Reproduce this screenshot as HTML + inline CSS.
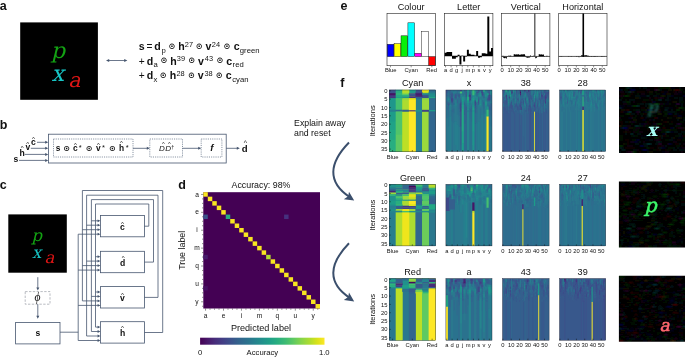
<!DOCTYPE html>
<html><head><meta charset="utf-8"><title>Figure</title>
<style>html,body{margin:0;padding:0;background:#fff}svg{display:block}text{font-family:"Liberation Sans",sans-serif;fill:#111}</style>
</head><body>
<svg width="685" height="357" viewBox="0 0 685 357">
<rect width="685" height="357" fill="#fff"/>
<text x="-.3" y="10" font-size="12.5" font-weight="bold">a</text>
<text x="-.3" y="129" font-size="12.5" font-weight="bold">b</text>
<text x="-.3" y="189" font-size="12.5" font-weight="bold">c</text>
<text x="178.3" y="189" font-size="12.5" font-weight="bold">d</text>
<text x="340.5" y="10" font-size="12.5" font-weight="bold">e</text>
<text x="340.3" y="87" font-size="12.5" font-weight="bold">f</text>
<rect x="20.2" y="22.4" width="77.7" height="77.4" fill="#000"/>
<text transform="translate(51 58.2) skewX(-14)" font-size="22" style="font-family:'DejaVu Serif','Liberation Serif',serif;fill:#13a313">p</text>
<text transform="translate(51.6 80.6) skewX(-14)" font-size="22" style="font-family:'DejaVu Serif','Liberation Serif',serif;fill:#17c5c5">x</text>
<text transform="translate(68.3 87) skewX(-14)" font-size="20.5" style="font-family:'DejaVu Serif','Liberation Serif',serif;fill:#e01515">a</text>
<path d="M107.5 60.5H126" stroke="#46566f" stroke-width=".8" fill="none"/>
<path d="M106 60.5l3.2-1.6v3.2zM127.4 60.5l-3.2-1.6v3.2z" fill="#46566f"/>
<text x="138.7" y="50.2" font-size="10.6" font-weight="bold">s</text>
<text x="146.6" y="50.2" font-size="10.2">=</text>
<text x="154.3" y="50.2" font-size="10.6" font-weight="bold">d</text>
<text x="161.4" y="52.5" font-size="7.7">p</text>
<text x="168.5" y="48.6" font-size="8.2" font-weight="bold" style="font-family:'DejaVu Sans','Liberation Sans',sans-serif;">⊙</text>
<text x="178.2" y="50.2" font-size="10.6" font-weight="bold">h</text>
<text x="184.8" y="46.6" font-size="7.4">27</text>
<text x="195.7" y="48.6" font-size="8.2" font-weight="bold" style="font-family:'DejaVu Sans','Liberation Sans',sans-serif;">⊙</text>
<text x="205.5" y="50.2" font-size="10.6" font-weight="bold">v</text>
<text x="211.8" y="46.6" font-size="7.4">24</text>
<text x="223.5" y="48.6" font-size="8.2" font-weight="bold" style="font-family:'DejaVu Sans','Liberation Sans',sans-serif;">⊙</text>
<text x="233.7" y="50.2" font-size="10.6" font-weight="bold">c</text>
<text x="239.8" y="52.5" font-size="7.7">green</text>
<text x="138.7" y="64.8" font-size="10.2">+</text>
<text x="146.8" y="64.8" font-size="10.6" font-weight="bold">d</text>
<text x="153.6" y="67.1" font-size="7.7">a</text>
<text x="160.4" y="63.2" font-size="8.2" font-weight="bold" style="font-family:'DejaVu Sans','Liberation Sans',sans-serif;">⊙</text>
<text x="170.2" y="64.8" font-size="10.6" font-weight="bold">h</text>
<text x="176.8" y="61.2" font-size="7.4">39</text>
<text x="188.2" y="63.2" font-size="8.2" font-weight="bold" style="font-family:'DejaVu Sans','Liberation Sans',sans-serif;">⊙</text>
<text x="198" y="64.8" font-size="10.6" font-weight="bold">v</text>
<text x="204.8" y="61.2" font-size="7.4">43</text>
<text x="216.4" y="63.2" font-size="8.2" font-weight="bold" style="font-family:'DejaVu Sans','Liberation Sans',sans-serif;">⊙</text>
<text x="226.2" y="64.8" font-size="10.6" font-weight="bold">c</text>
<text x="232.6" y="67.1" font-size="7.7">red</text>
<text x="138.7" y="79.4" font-size="10.2">+</text>
<text x="146.8" y="79.4" font-size="10.6" font-weight="bold">d</text>
<text x="153.6" y="81.7" font-size="7.7">x</text>
<text x="159.7" y="77.8" font-size="8.2" font-weight="bold" style="font-family:'DejaVu Sans','Liberation Sans',sans-serif;">⊙</text>
<text x="169.8" y="79.4" font-size="10.6" font-weight="bold">h</text>
<text x="176.4" y="75.8" font-size="7.4">28</text>
<text x="187.9" y="77.8" font-size="8.2" font-weight="bold" style="font-family:'DejaVu Sans','Liberation Sans',sans-serif;">⊙</text>
<text x="197.8" y="79.4" font-size="10.6" font-weight="bold">v</text>
<text x="204.4" y="75.8" font-size="7.4">38</text>
<text x="215.7" y="77.8" font-size="8.2" font-weight="bold" style="font-family:'DejaVu Sans','Liberation Sans',sans-serif;">⊙</text>
<text x="225.8" y="79.4" font-size="10.6" font-weight="bold">c</text>
<text x="232.2" y="81.7" font-size="7.7">cyan</text>
<g fill="none" stroke="#46566f" stroke-width=".8">
<rect x="48.4" y="134.2" width="177.8" height="28.8"/>
<g stroke-width=".65" stroke-dasharray="1.1 1.1"><rect x="53.5" y="139" width="79.5" height="18"/><rect x="149.8" y="139" width="32.7" height="18"/><rect x="201.2" y="139" width="20.7" height="18"/></g>
<path d="M37 142.3H46.5M30.8 148.3H46.5M24.7 154.4H46.5M19 160.4H46.5M133 148.3H148M182.5 148.3H199.3M226.2 148.3H238"/>
</g>
<path d="M48.2 142.3l-3-1.5v3zM48.2 148.3l-3-1.5v3zM48.2 154.4l-3-1.5v3zM48.2 160.4l-3-1.5v3zM149.8 148.3l-3-1.5v3zM201.2 148.3l-3-1.5v3zM239.8 148.3l-3-1.5v3z" fill="#46566f"/>
<text x="33.4" y="144.6" font-size="8.6" font-weight="bold" text-anchor="middle">c</text>
<text x="33.4" y="140.5" font-size="6.19" text-anchor="middle">^</text>
<text x="27.8" y="150.4" font-size="8.6" font-weight="bold" text-anchor="middle">v</text>
<text x="27.8" y="146.3" font-size="6.19" text-anchor="middle">^</text>
<text x="22.1" y="156.2" font-size="8.6" font-weight="bold" text-anchor="middle">h</text>
<text x="22.1" y="150.3" font-size="6.19" text-anchor="middle">^</text>
<text x="15.8" y="162.2" font-size="8.6" font-weight="bold" text-anchor="middle">s</text>
<text x="58" y="151.1" font-size="8.4" font-weight="bold" text-anchor="middle">s</text>
<text x="66.5" y="150.9" font-size="8" font-weight="bold" text-anchor="middle" style="font-family:'DejaVu Sans','Liberation Sans',sans-serif;">⊙</text>
<text x="89.2" y="150.9" font-size="8" font-weight="bold" text-anchor="middle" style="font-family:'DejaVu Sans','Liberation Sans',sans-serif;">⊙</text>
<text x="112.3" y="150.9" font-size="8" font-weight="bold" text-anchor="middle" style="font-family:'DejaVu Sans','Liberation Sans',sans-serif;">⊙</text>
<text x="75.4" y="151.1" font-size="8.4" font-weight="bold" text-anchor="middle">c</text>
<text x="75.4" y="147.1" font-size="6.05" text-anchor="middle">^</text>
<text x="80.3" y="150.3" font-size="7.5" text-anchor="middle">*</text>
<text x="98.3" y="151.1" font-size="8.4" font-weight="bold" text-anchor="middle">v</text>
<text x="98.3" y="147.1" font-size="6.05" text-anchor="middle">^</text>
<text x="103.5" y="150.3" font-size="7.5" text-anchor="middle">*</text>
<text x="121.5" y="151.1" font-size="8.4" font-weight="bold" text-anchor="middle">h</text>
<text x="121.5" y="145.4" font-size="6.05" text-anchor="middle">^</text>
<text x="127.2" y="150.3" font-size="7.5" text-anchor="middle">*</text>
<text x="159" y="151" font-size="8" font-style="italic">D</text>
<text x="165.2" y="151" font-size="8" font-style="italic">D</text>
<text x="171.3" y="148.6" font-size="5.5">†</text>
<text x="163.2" y="146.2" font-size="5.6" font-style="italic" text-anchor="middle">^</text>
<text x="169.4" y="146.2" font-size="5.6" font-style="italic" text-anchor="middle">^</text>
<text x="211.8" y="151.3" font-size="9.5" font-weight="bold" font-style="italic" text-anchor="middle">f</text>
<text x="244.6" y="151.6" font-size="9.6" font-weight="bold" text-anchor="middle">d</text>
<text x="245.4" y="144.5" font-size="6.91" text-anchor="middle">^</text>
<rect x="8.3" y="214.4" width="58.5" height="58.3" fill="#000"/>
<text transform="translate(31.4 241.3) skewX(-14)" font-size="16.5" style="font-family:'DejaVu Serif','Liberation Serif',serif;fill:#13a313">p</text>
<text transform="translate(32 258.2) skewX(-14)" font-size="16.5" style="font-family:'DejaVu Serif','Liberation Serif',serif;fill:#17c5c5">x</text>
<text transform="translate(44.6 263) skewX(-14)" font-size="16.5" style="font-family:'DejaVu Serif','Liberation Serif',serif;fill:#e01515">a</text>
<g fill="none" stroke="#46566f" stroke-width=".8">
<rect x="100.4" y="215.4" width="44.1" height="21.4"/>
<rect x="100.4" y="251.3" width="44.1" height="21.4"/>
<rect x="100.4" y="286.6" width="44.1" height="21.4"/>
<rect x="100.4" y="321.7" width="44.1" height="21.4"/>
<rect x="15.6" y="322.5" width="44.4" height="21.4"/>
<rect x="25.2" y="291.6" width="24.8" height="12.6" stroke="#8a8f99" stroke-width=".6" stroke-dasharray="2.4 1.4"/>
<path d="M37.8 277.2V288.5M37.8 304.2V316.6"/>
<path d="M91.4 220.8H98.6M86.6 225.2H98.6M82.4 229.7H98.6M78.2 234.2H98.6M95.5 256.7H98.6M86.6 261.1H98.6M82.4 265.6H98.6M78.2 270.1H98.6M95.5 292H98.6M91.4 296.4H98.6M82.4 300.9H98.6M78.2 305.4H98.6M95.5 327.1H98.6M91.4 331.5H98.6M86.6 336H98.6M78.2 340.5H98.6M144.5 332.5H162.7V190.5H82.4V300.9M144.5 297.4H158V195.2H86.6V336M144.5 262.1H153.5V199.6H91.4V331.5M144.5 226.2H148.8V204H95.5V327.1M60 332.2H78.2M78.2 234.2V340.5"/>
</g>
<path d="M100.4 220.8l-2.8-1.4v2.8zM100.4 225.2l-2.8-1.4v2.8zM100.4 229.7l-2.8-1.4v2.8zM100.4 234.2l-2.8-1.4v2.8zM100.4 256.7l-2.8-1.4v2.8zM100.4 261.1l-2.8-1.4v2.8zM100.4 265.6l-2.8-1.4v2.8zM100.4 270.1l-2.8-1.4v2.8zM100.4 292l-2.8-1.4v2.8zM100.4 296.4l-2.8-1.4v2.8zM100.4 300.9l-2.8-1.4v2.8zM100.4 305.4l-2.8-1.4v2.8zM100.4 327.1l-2.8-1.4v2.8zM100.4 331.5l-2.8-1.4v2.8zM100.4 336l-2.8-1.4v2.8zM100.4 340.5l-2.8-1.4v2.8zM37.8 290.6l-1.5-3h3zM37.8 318.8l-1.5-3h3z" fill="#46566f"/>
<text x="122.5" y="229.9" font-size="8.6" font-weight="bold" text-anchor="middle">c</text>
<text x="122.5" y="225.8" font-size="6.19" text-anchor="middle">^</text>
<text x="122.5" y="265.8" font-size="8.6" font-weight="bold" text-anchor="middle">d</text>
<text x="123.2" y="259.7" font-size="6.19" text-anchor="middle">^</text>
<text x="122.5" y="301.1" font-size="8.6" font-weight="bold" text-anchor="middle">v</text>
<text x="122.5" y="297" font-size="6.19" text-anchor="middle">^</text>
<text x="122.5" y="336.2" font-size="8.6" font-weight="bold" text-anchor="middle">h</text>
<text x="122.5" y="330.3" font-size="6.19" text-anchor="middle">^</text>
<text x="37.8" y="335.8" font-size="8.6" font-weight="bold" text-anchor="middle">s</text>
<text x="37.4" y="301" font-size="11.5" font-style="italic" text-anchor="middle" style="font-family:'Liberation Serif',serif;">ϕ</text>
<rect x="203.3" y="192.2" width="116.7" height="116.3" fill="#440154"/>
<rect x="203.3" y="192.2" width="4.49" height="4.47" fill="#f8e621"/>
<rect x="207.79" y="196.67" width="4.49" height="4.47" fill="#fde725"/>
<rect x="212.28" y="201.15" width="4.49" height="4.47" fill="#f8e621"/>
<rect x="216.77" y="205.62" width="4.49" height="4.47" fill="#f8e621"/>
<rect x="221.25" y="210.09" width="4.49" height="4.47" fill="#f8e621"/>
<rect x="225.74" y="214.57" width="4.49" height="4.47" fill="#26ad81"/>
<rect x="230.23" y="219.04" width="4.49" height="4.47" fill="#f8e621"/>
<rect x="234.72" y="223.51" width="4.49" height="4.47" fill="#f8e621"/>
<rect x="239.21" y="227.98" width="4.49" height="4.47" fill="#f8e621"/>
<rect x="243.7" y="232.46" width="4.49" height="4.47" fill="#f8e621"/>
<rect x="248.18" y="236.93" width="4.49" height="4.47" fill="#f8e621"/>
<rect x="252.67" y="241.4" width="4.49" height="4.47" fill="#f8e621"/>
<rect x="257.16" y="245.88" width="4.49" height="4.47" fill="#f8e621"/>
<rect x="261.65" y="250.35" width="4.49" height="4.47" fill="#f8e621"/>
<rect x="266.14" y="254.82" width="4.49" height="4.47" fill="#b0dd2f"/>
<rect x="270.63" y="259.3" width="4.49" height="4.47" fill="#f8e621"/>
<rect x="275.12" y="263.77" width="4.49" height="4.47" fill="#f8e621"/>
<rect x="279.6" y="268.24" width="4.49" height="4.47" fill="#f8e621"/>
<rect x="284.09" y="272.72" width="4.49" height="4.47" fill="#f8e621"/>
<rect x="288.58" y="277.19" width="4.49" height="4.47" fill="#f8e621"/>
<rect x="293.07" y="281.66" width="4.49" height="4.47" fill="#f8e621"/>
<rect x="297.56" y="286.13" width="4.49" height="4.47" fill="#f8e621"/>
<rect x="302.05" y="290.61" width="4.49" height="4.47" fill="#f8e621"/>
<rect x="306.53" y="295.08" width="4.49" height="4.47" fill="#f8e621"/>
<rect x="311.02" y="299.55" width="4.49" height="4.47" fill="#f8e621"/>
<rect x="315.51" y="304.03" width="4.49" height="4.47" fill="#f8e621"/>
<rect x="203.3" y="214.57" width="4.49" height="4.47" fill="#3b528b"/>
<rect x="284.09" y="214.57" width="4.49" height="4.47" fill="#46307e"/>
<rect x="203.3" y="254.82" width="4.49" height="4.47" fill="#481a6c"/>
<rect x="203.3" y="286.13" width="4.49" height="4.47" fill="#471063"/>
<path d="M203.3 194.44h-2.2M205.54 308.5v2.2M203.3 198.91h-1.3M210.03 308.5v1.3M203.3 203.38h-1.3M214.52 308.5v1.3M203.3 207.86h-1.3M219.01 308.5v1.3M203.3 212.33h-2.2M223.5 308.5v2.2M203.3 216.8h-1.3M227.99 308.5v1.3M203.3 221.27h-1.3M232.48 308.5v1.3M203.3 225.75h-1.3M236.96 308.5v1.3M203.3 230.22h-2.2M241.45 308.5v2.2M203.3 234.69h-1.3M245.94 308.5v1.3M203.3 239.17h-1.3M250.43 308.5v1.3M203.3 243.64h-1.3M254.92 308.5v1.3M203.3 248.11h-2.2M259.41 308.5v2.2M203.3 252.59h-1.3M263.89 308.5v1.3M203.3 257.06h-1.3M268.38 308.5v1.3M203.3 261.53h-1.3M272.87 308.5v1.3M203.3 266.01h-2.2M277.36 308.5v2.2M203.3 270.48h-1.3M281.85 308.5v1.3M203.3 274.95h-1.3M286.34 308.5v1.3M203.3 279.43h-1.3M290.83 308.5v1.3M203.3 283.9h-2.2M295.31 308.5v2.2M203.3 288.37h-1.3M299.8 308.5v1.3M203.3 292.84h-1.3M304.29 308.5v1.3M203.3 297.32h-1.3M308.78 308.5v1.3M203.3 301.79h-2.2M313.27 308.5v2.2M203.3 306.26h-1.3M317.76 308.5v1.3" stroke="#222" stroke-width=".5" fill="none"/>
<text x="197" y="196.54" font-size="6.6" text-anchor="middle">a</text>
<text x="205.54" y="318" font-size="6.6" text-anchor="middle">a</text>
<text x="197" y="214.43" font-size="6.6" text-anchor="middle">e</text>
<text x="223.5" y="318" font-size="6.6" text-anchor="middle">e</text>
<text x="197" y="232.32" font-size="6.6" text-anchor="middle">i</text>
<text x="241.45" y="318" font-size="6.6" text-anchor="middle">i</text>
<text x="197" y="250.21" font-size="6.6" text-anchor="middle">m</text>
<text x="259.41" y="318" font-size="6.6" text-anchor="middle">m</text>
<text x="197" y="268.11" font-size="6.6" text-anchor="middle">q</text>
<text x="277.36" y="318" font-size="6.6" text-anchor="middle">q</text>
<text x="197" y="286" font-size="6.6" text-anchor="middle">u</text>
<text x="295.31" y="318" font-size="6.6" text-anchor="middle">u</text>
<text x="197" y="303.89" font-size="6.6" text-anchor="middle">y</text>
<text x="313.27" y="318" font-size="6.6" text-anchor="middle">y</text>
<text x="261" y="188.2" font-size="8.85" text-anchor="middle">Accuracy: 98%</text>
<text x="261" y="330.7" font-size="9.1" text-anchor="middle">Predicted label</text>
<text transform="translate(185.2 250.3) rotate(-90)" font-size="8.9" text-anchor="middle">True label</text>
<defs><linearGradient id="vg"><stop offset="0" stop-color="#440154"/><stop offset=".06" stop-color="#48186a"/><stop offset=".12" stop-color="#472d7b"/><stop offset=".19" stop-color="#424086"/><stop offset=".25" stop-color="#3b528b"/><stop offset=".31" stop-color="#33638d"/><stop offset=".38" stop-color="#2c728e"/><stop offset=".44" stop-color="#26828e"/><stop offset=".5" stop-color="#21918c"/><stop offset=".56" stop-color="#1fa088"/><stop offset=".62" stop-color="#28ae80"/><stop offset=".69" stop-color="#3fbc73"/><stop offset=".75" stop-color="#5ec962"/><stop offset=".81" stop-color="#84d44b"/><stop offset=".88" stop-color="#addc30"/><stop offset=".94" stop-color="#d8e219"/><stop offset="1" stop-color="#fde725"/></linearGradient></defs>
<rect x="200.1" y="337.7" width="124.4" height="7" fill="url(#vg)"/>
<text x="200.2" y="354.8" font-size="7.7" text-anchor="middle">0</text>
<text x="262.4" y="354.8" font-size="7.7" text-anchor="middle">Accuracy</text>
<text x="324.3" y="354.8" font-size="7.7" text-anchor="middle">1.0</text>
<text x="294.1" y="126.1" font-size="8.75">Explain away</text>
<text x="294.1" y="135.8" font-size="8.75">and reset</text>
<g transform="translate(0 0)"><path d="M349 142.5C329 163 327 182 349.5 197" fill="none" stroke="#3b4f6c" stroke-width="2"/><path d="M354.2 200.6L343.8 199.2L348.2 196.3L349 191.8Z" fill="#3b4f6c"/></g>
<g transform="translate(0 100.8)"><path d="M349 142.5C329 163 327 182 349.5 197" fill="none" stroke="#3b4f6c" stroke-width="2"/><path d="M354.2 200.6L343.8 199.2L348.2 196.3L349 191.8Z" fill="#3b4f6c"/></g>
<text x="411.15" y="9.6" font-size="9.1" text-anchor="middle">Colour</text>
<text x="468.75" y="9.6" font-size="9.1" text-anchor="middle">Letter</text>
<text x="525.75" y="9.6" font-size="9.1" text-anchor="middle">Vertical</text>
<text x="582.85" y="9.6" font-size="9.1" text-anchor="middle">Horizontal</text>
<rect x="387.2" y="44.3" width="6.7" height="12.3" fill="#0000ff" stroke="#111" stroke-width=".45"/>
<rect x="394.1" y="43.7" width="6.7" height="12.9" fill="#ffff00" stroke="#111" stroke-width=".45"/>
<rect x="401" y="35.8" width="6.7" height="20.8" fill="#08f008" stroke="#111" stroke-width=".45"/>
<rect x="407.9" y="22.8" width="6.7" height="33.8" fill="#00ffff" stroke="#111" stroke-width=".45"/>
<rect x="414.8" y="53.3" width="6.7" height="3.3" fill="#ff00ff" stroke="#111" stroke-width=".45"/>
<rect x="421.7" y="31.3" width="6.7" height="25.3" fill="#ffffff" stroke="#111" stroke-width=".45"/>
<rect x="428.6" y="56.6" width="6.7" height="8.8" fill="#ff0000" stroke="#111" stroke-width=".45"/>
<path d="M444.6 52.8h1.96v3.2h-1.96zM446.46 52h1.96v4h-1.96zM448.32 52h1.96v4h-1.96zM450.17 52h1.96v4h-1.96zM452.03 56h1.96v2.8h-1.96zM453.89 56h1.96v2.8h-1.96zM455.75 56h1.96v1.2h-1.96zM457.6 54.8h1.96v1.2h-1.96zM459.46 56h1.96v8.5h-1.96zM461.32 55.7h1.96v.3h-1.96zM463.18 56h1.96v5.6h-1.96zM465.03 56h1.96v.5h-1.96zM466.89 49.7h1.96v6.3h-1.96zM468.75 53.8h1.96v2.2h-1.96zM470.61 54.8h1.96v1.2h-1.96zM472.47 54.8h1.96v1.2h-1.96zM474.32 55.5h1.96v.5h-1.96zM476.18 51h1.96v5h-1.96zM478.04 56h1.96v1.8h-1.96zM479.9 56h1.96v1.2h-1.96zM481.75 53.2h1.96v2.8h-1.96zM483.61 53.2h1.96v2.8h-1.96zM485.47 53.8h1.96v2.2h-1.96zM487.33 16.5h1.96v39.5h-1.96zM489.18 51.5h1.96v4.5h-1.96zM491.04 48h1.96v8h-1.96z" fill="#000"/>
<path d="M444.6 56h48.3" stroke="#000" stroke-width=".5"/>
<path d="M501.6 56.04h.96v.36h-.96zM502.46 55.85h.96v.55h-.96zM503.33 56.4h.96v1.58h-.96zM504.19 56.4h.96v1.97h-.96zM505.05 56.4h.96v1.41h-.96zM505.91 56.4h.96v1.99h-.96zM506.78 56.4h.96v.59h-.96zM507.64 56.3h.96v.3h-.96zM508.5 55.53h.96v.87h-.96zM509.36 56h.96v.4h-.96zM510.23 55.6h.96v.8h-.96zM511.09 56.4h.96v.46h-.96zM511.95 56.29h.96v.3h-.96zM512.81 56.4h.96v.3h-.96zM513.68 54.25h.96v2.15h-.96zM514.54 54.19h.96v2.21h-.96zM515.4 54.69h.96v1.71h-.96zM516.26 54.23h.96v2.17h-.96zM517.12 54.48h.96v1.92h-.96zM517.99 54.35h.96v2.05h-.96zM518.85 54.69h.96v1.71h-.96zM519.71 54.67h.96v1.73h-.96zM520.58 54.59h.96v1.81h-.96zM521.44 54.13h.96v2.27h-.96zM522.3 54.58h.96v1.82h-.96zM523.16 54.25h.96v2.15h-.96zM524.02 54.14h.96v2.26h-.96zM524.89 55.65h.96v.75h-.96zM525.75 56.4h.96v.93h-.96zM526.61 56.4h.96v1.29h-.96zM527.48 56.4h.96v1.29h-.96zM528.34 56.4h.96v1.19h-.96zM529.2 56.4h.96v1.03h-.96zM530.06 55.5h.96v.9h-.96zM530.93 56.18h.96v.3h-.96zM531.79 55.96h.96v.44h-.96zM532.65 56.4h.96v.31h-.96zM533.51 55.53h.96v.87h-.96zM535.24 56.4h.96v1.84h-.96zM536.1 56.4h.96v1.45h-.96zM536.96 56.4h.96v.3h-.96zM537.83 56.4h.96v.3h-.96zM538.69 54.32h.96v2.08h-.96zM539.55 54.28h.96v2.12h-.96zM540.41 54.78h.96v1.62h-.96zM541.27 54.23h.96v2.17h-.96zM542.14 54.75h.96v1.65h-.96zM543 54.6h.96v1.8h-.96zM543.86 55.96h.96v.44h-.96zM544.73 56.4h.96v.3h-.96zM545.59 56.4h.96v.3h-.96zM546.45 55.73h.96v.67h-.96zM547.31 56.27h.96v.3h-.96zM548.18 56.4h.96v.3h-.96zM549.04 56.27h.96v.3h-.96z" fill="#000"/>
<path d="M501.6 56.4h48.3" stroke="#000" stroke-width=".5"/>
<rect x="534.21" y="13.4" width="1.2" height="43.5" fill="#444"/>
<path d="M558.7 56.27h.96v.3h-.96zM559.56 56.09h.96v.31h-.96zM560.43 56.4h.96v.3h-.96zM561.29 56.09h.96v.31h-.96zM562.15 56.31h.96v.3h-.96zM563.01 56.4h.96v.3h-.96zM563.88 56.4h.96v.3h-.96zM564.74 56.4h.96v.3h-.96zM565.6 56.4h.96v.3h-.96zM566.46 56.4h.96v.3h-.96zM567.33 56.23h.96v.3h-.96zM568.19 56.04h.96v.36h-.96zM569.05 56.4h.96v.3h-.96zM569.91 56.4h.96v.3h-.96zM570.78 56.05h.96v.35h-.96zM571.64 56.32h.96v.3h-.96zM572.5 56.4h.96v.3h-.96zM573.36 56.4h.96v.3h-.96zM574.23 56.28h.96v.3h-.96zM575.09 56.14h.96v.3h-.96zM575.95 56.37h.96v.3h-.96zM576.81 56.39h.96v.3h-.96zM577.68 56.4h.96v.68h-.96zM578.54 56.4h.96v.93h-.96zM579.4 56.4h.96v.3h-.96zM580.26 56.34h.96v.3h-.96zM581.12 55.33h.96v1.07h-.96zM581.99 55.28h.96v1.12h-.96zM583.71 55.48h.96v.92h-.96zM584.58 55.23h.96v1.17h-.96zM585.44 55.24h.96v1.16h-.96zM586.3 55.28h.96v1.12h-.96zM587.16 55.7h.96v.7h-.96zM588.03 55.64h.96v.76h-.96zM588.89 55.88h.96v.52h-.96zM589.75 56.4h.96v.3h-.96zM590.61 56.37h.96v.3h-.96zM591.48 56.04h.96v.36h-.96zM592.34 56.13h.96v.3h-.96zM593.2 56.05h.96v.35h-.96zM594.06 56.37h.96v.3h-.96zM594.93 56.35h.96v.3h-.96zM595.79 56.2h.96v.3h-.96zM596.65 56.35h.96v.3h-.96zM597.51 56.4h.96v.3h-.96zM598.38 56.4h.96v.3h-.96zM599.24 56.4h.96v.3h-.96zM600.1 56.4h.96v.3h-.96zM600.96 56.05h.96v.35h-.96zM601.83 56.06h.96v.34h-.96zM602.69 56.26h.96v.3h-.96zM603.55 56.34h.96v.3h-.96zM604.41 56.4h.96v.3h-.96zM605.28 56.4h.96v.3h-.96zM606.14 56.4h.96v.3h-.96z" fill="#000"/>
<path d="M558.7 56.4h48.3" stroke="#000" stroke-width=".5"/>
<rect x="582.48" y="13.4" width="1.6" height="43.5" fill="#000"/>
<rect x="387" y="13.4" width="48.3" height="52.3" fill="none" stroke="#222" stroke-width=".6"/>
<rect x="444.6" y="13.4" width="48.3" height="52.3" fill="none" stroke="#222" stroke-width=".6"/>
<rect x="501.6" y="13.4" width="48.3" height="52.3" fill="none" stroke="#222" stroke-width=".6"/>
<rect x="558.7" y="13.4" width="48.3" height="52.3" fill="none" stroke="#222" stroke-width=".6"/>
<text x="390.75" y="71.6" font-size="5.8" text-anchor="middle">Blue</text>
<text x="411.15" y="71.6" font-size="5.8" text-anchor="middle">Cyan</text>
<text x="431.55" y="71.6" font-size="5.8" text-anchor="middle">Red</text>
<path d="M390.45 65.7v1.6M411.15 65.7v1.6M431.85 65.7v1.6" stroke="#222" stroke-width=".5" fill="none"/>
<text x="445.53" y="71.6" font-size="5.8" text-anchor="middle">a</text>
<text x="451.1" y="71.6" font-size="5.8" text-anchor="middle">d</text>
<text x="456.68" y="71.6" font-size="5.8" text-anchor="middle">g</text>
<text x="462.25" y="71.6" font-size="5.8" text-anchor="middle">j</text>
<text x="467.82" y="71.6" font-size="5.8" text-anchor="middle">m</text>
<text x="473.39" y="71.6" font-size="5.8" text-anchor="middle">p</text>
<text x="478.97" y="71.6" font-size="5.8" text-anchor="middle">s</text>
<text x="484.54" y="71.6" font-size="5.8" text-anchor="middle">v</text>
<text x="490.11" y="71.6" font-size="5.8" text-anchor="middle">y</text>
<path d="M445.53 65.7v1.6M451.1 65.7v1.6M456.68 65.7v1.6M462.25 65.7v1.6M467.82 65.7v1.6M473.39 65.7v1.6M478.97 65.7v1.6M484.54 65.7v1.6M490.11 65.7v1.6" stroke="#222" stroke-width=".5" fill="none"/>
<text x="502.03" y="71.6" font-size="5.8" text-anchor="middle">0</text>
<text x="510.66" y="71.6" font-size="5.8" text-anchor="middle">10</text>
<text x="519.28" y="71.6" font-size="5.8" text-anchor="middle">20</text>
<text x="527.91" y="71.6" font-size="5.8" text-anchor="middle">30</text>
<text x="536.53" y="71.6" font-size="5.8" text-anchor="middle">40</text>
<text x="545.16" y="71.6" font-size="5.8" text-anchor="middle">50</text>
<path d="M502.03 65.7v1.6M510.66 65.7v1.6M519.28 65.7v1.6M527.91 65.7v1.6M536.53 65.7v1.6M545.16 65.7v1.6" stroke="#222" stroke-width=".5" fill="none"/>
<text x="559.13" y="71.6" font-size="5.8" text-anchor="middle">0</text>
<text x="567.76" y="71.6" font-size="5.8" text-anchor="middle">10</text>
<text x="576.38" y="71.6" font-size="5.8" text-anchor="middle">20</text>
<text x="585.01" y="71.6" font-size="5.8" text-anchor="middle">30</text>
<text x="593.63" y="71.6" font-size="5.8" text-anchor="middle">40</text>
<text x="602.26" y="71.6" font-size="5.8" text-anchor="middle">50</text>
<path d="M559.13 65.7v1.6M567.76 65.7v1.6M576.38 65.7v1.6M585.01 65.7v1.6M593.63 65.7v1.6M602.26 65.7v1.6" stroke="#222" stroke-width=".5" fill="none"/>
<defs><filter id="hb" x="-5%" y="-5%" width="110%" height="110%"><feGaussianBlur stdDeviation=".4"/></filter></defs>
<rect x="389.3" y="90" width="46.1" height="61.6" fill="#2fb47c"/><rect x="389.1" y="90" width="6.99" height="61.6" fill="#1f9f88"/><rect x="395.69" y="90" width="6.99" height="61.6" fill="#50c46a"/><rect x="402.27" y="90" width="6.99" height="61.6" fill="#b5de2b"/><rect x="408.86" y="90" width="6.99" height="61.6" fill="#fde725"/><rect x="415.44" y="90" width="6.99" height="61.6" fill="#287d8e"/><rect x="422.03" y="90" width="6.99" height="61.6" fill="#9bd93c"/><rect x="428.61" y="90" width="6.99" height="61.6" fill="#31678e"/><path fill="#3b528b" d="M389.1 89.85h6.99v3.63h-6.99zM408.86 94.84h6.99v1.96h-6.99zM415.44 89.85h6.99v1.96h-6.99zM422.03 94.84h6.99v3.63h-6.99z"/><path fill="#460a5d" d="M389.1 93.18h6.99v1.96h-6.99z"/><path fill="#472d7b" d="M389.1 94.84h6.99v1.96h-6.99zM408.86 109.83h6.99v1.96h-6.99z"/><path fill="#463480" d="M389.1 96.51h6.99v1.96h-6.99zM408.86 96.51h6.99v1.96h-6.99z"/><path fill="#1e9c89" d="M389.1 98.17h6.99v1.96h-6.99zM389.1 111.49h6.99v10.29h-6.99zM408.86 89.85h6.99v3.63h-6.99zM428.61 109.83h6.99v1.96h-6.99z"/><path fill="#1f968b" d="M389.1 99.84h6.99v10.29h-6.99z"/><path fill="#277e8e" d="M389.1 109.83h6.99v1.96h-6.99zM415.44 98.17h6.99v11.95h-6.99zM415.44 111.49h6.99v40.26h-6.99z"/><path fill="#1fa287" d="M389.1 121.48h6.99v8.62h-6.99zM395.69 89.85h6.99v1.96h-6.99zM395.69 96.51h6.99v1.96h-6.99z"/><path fill="#22a884" d="M389.1 129.81h6.99v10.29h-6.99zM395.69 94.84h6.99v1.96h-6.99zM402.27 94.84h6.99v1.96h-6.99zM428.61 96.51h6.99v1.96h-6.99z"/><path fill="#28ae80" d="M389.1 139.8h6.99v10.29h-6.99zM395.69 91.51h6.99v1.96h-6.99z"/><path fill="#2fb47c" d="M389.1 149.79h6.99v1.96h-6.99zM395.69 93.18h6.99v1.96h-6.99z"/><path fill="#44bf70" d="M395.69 98.17h6.99v11.95h-6.99z"/><path fill="#2f6c8e" d="M395.69 109.83h6.99v1.96h-6.99zM428.61 89.85h6.99v1.96h-6.99zM428.61 98.17h6.99v11.95h-6.99z"/><path fill="#50c46a" d="M395.69 111.49h6.99v23.61h-6.99z"/><path fill="#5ec962" d="M395.69 134.8h6.99v16.95h-6.99zM402.27 93.18h6.99v1.96h-6.99z"/><path fill="#bddf26" d="M402.27 89.85h6.99v1.96h-6.99zM402.27 111.49h6.99v40.26h-6.99zM422.03 91.51h6.99v1.96h-6.99z"/><path fill="#addc30" d="M402.27 91.51h6.99v1.96h-6.99zM402.27 99.84h6.99v10.29h-6.99z"/><path fill="#21918c" d="M402.27 96.51h6.99v1.96h-6.99zM415.44 109.83h6.99v1.96h-6.99zM428.61 94.84h6.99v1.96h-6.99z"/><path fill="#9bd93c" d="M402.27 98.17h6.99v1.96h-6.99zM422.03 99.84h6.99v10.29h-6.99zM422.03 111.49h6.99v40.26h-6.99z"/><path fill="#355f8d" d="M402.27 109.83h6.99v1.96h-6.99zM415.44 96.51h6.99v1.96h-6.99z"/><path fill="#38598c" d="M408.86 93.18h6.99v1.96h-6.99z"/><path fill="#dfe318" d="M408.86 98.17h6.99v1.96h-6.99z"/><path fill="#fde725" d="M408.86 99.84h6.99v10.29h-6.99zM408.86 111.49h6.99v40.26h-6.99z"/><path fill="#3e4a89" d="M415.44 91.51h6.99v1.96h-6.99z"/><path fill="#481c6e" d="M415.44 93.18h6.99v1.96h-6.99z"/><path fill="#482475" d="M415.44 94.84h6.99v1.96h-6.99z"/><path fill="#efe51c" d="M422.03 89.85h6.99v1.96h-6.99z"/><path fill="#25848e" d="M422.03 93.18h6.99v1.96h-6.99z"/><path fill="#8bd646" d="M422.03 98.17h6.99v1.96h-6.99z"/><path fill="#414487" d="M422.03 109.83h6.99v1.96h-6.99z"/><path fill="#2a788e" d="M428.61 91.51h6.99v1.96h-6.99z"/><path fill="#238a8d" d="M428.61 93.18h6.99v1.96h-6.99z"/><path fill="#31668e" d="M428.61 111.49h6.99v40.26h-6.99z"/>
<rect x="389.3" y="90" width="46.1" height="61.6" fill="none" stroke="#223" stroke-width=".4"/>
<text x="412.65" y="86.3" font-size="9.1" text-anchor="middle">Cyan</text>
<text x="392.59" y="158.6" font-size="5.8" text-anchor="middle">Blue</text>
<text x="412.35" y="158.6" font-size="5.8" text-anchor="middle">Cyan</text>
<text x="432.11" y="158.6" font-size="5.8" text-anchor="middle">Red</text>
<path d="M392.59 151.6v-1.5M412.35 151.6v-1.5M432.11 151.6v-1.5" stroke="#111" stroke-width=".5" fill="none"/>
<clipPath id="hc1"><rect x="445.9" y="90" width="46.1" height="61.6"/></clipPath><g clip-path="url(#hc1)"><g filter="url(#hb)"><rect x="442.9" y="87" width="52.1" height="67.6" fill="#2b758e"/><rect x="445.9" y="90" width="46.1" height="61.6" fill="#2b758e"/><path fill="#3b528b" d="M445.7 89.85h2.17v3.63h-2.17zM451.02 94.84h2.17v3.63h-2.17zM451.02 101.5h2.17v1.96h-2.17zM459.88 101.5h2.17v1.96h-2.17zM459.88 111.49h2.17v8.62h-2.17zM468.75 93.18h2.17v1.96h-2.17zM474.07 99.84h2.17v1.96h-2.17zM474.07 104.83h2.17v1.96h-2.17zM475.84 91.51h2.17v1.96h-2.17zM477.62 89.85h2.17v1.96h-2.17z"/><path fill="#355f8d" d="M445.7 93.18h2.17v3.63h-2.17zM447.47 89.85h2.17v1.96h-2.17zM447.47 104.83h2.17v1.96h-2.17zM449.25 89.85h2.17v1.96h-2.17zM449.25 93.18h2.17v1.96h-2.17zM449.25 96.51h2.17v1.96h-2.17zM454.57 93.18h2.17v1.96h-2.17zM458.11 93.18h2.17v1.96h-2.17zM458.11 96.51h2.17v1.96h-2.17zM459.88 99.84h2.17v1.96h-2.17zM459.88 126.48h2.17v18.61h-2.17zM463.43 89.85h2.17v1.96h-2.17zM463.43 103.17h2.17v1.96h-2.17zM463.43 109.83h2.17v5.29h-2.17zM465.2 91.51h2.17v3.63h-2.17zM465.2 106.5h2.17v3.63h-2.17zM468.75 99.84h2.17v1.96h-2.17zM474.07 108.16h2.17v5.29h-2.17zM477.62 91.51h2.17v1.96h-2.17zM477.62 98.17h2.17v1.96h-2.17zM477.62 103.17h2.17v1.96h-2.17zM481.16 94.84h2.17v1.96h-2.17zM482.93 96.51h2.17v1.96h-2.17zM482.93 101.5h2.17v3.63h-2.17zM488.25 89.85h2.17v1.96h-2.17zM488.25 99.84h2.17v1.96h-2.17zM488.25 104.83h2.17v1.96h-2.17z"/><path fill="#2f6c8e" d="M445.7 96.51h2.17v5.29h-2.17zM445.7 106.5h2.17v3.63h-2.17zM447.47 91.51h2.17v1.96h-2.17zM447.47 94.84h2.17v1.96h-2.17zM447.47 109.83h2.17v6.96h-2.17zM449.25 98.17h2.17v1.96h-2.17zM451.02 104.83h2.17v5.29h-2.17zM451.02 111.49h2.17v10.29h-2.17zM452.79 89.85h2.17v1.96h-2.17zM452.79 101.5h2.17v1.96h-2.17zM452.79 108.16h2.17v5.29h-2.17zM454.57 98.17h2.17v1.96h-2.17zM456.34 91.51h2.17v1.96h-2.17zM456.34 94.84h2.17v1.96h-2.17zM456.34 98.17h2.17v1.96h-2.17zM458.11 89.85h2.17v1.96h-2.17zM458.11 98.17h2.17v1.96h-2.17zM458.11 108.16h2.17v8.62h-2.17zM459.88 98.17h2.17v1.96h-2.17zM461.66 93.18h2.17v1.96h-2.17zM463.43 101.5h2.17v1.96h-2.17zM463.43 123.15h2.17v28.6h-2.17zM465.2 96.51h2.17v1.96h-2.17zM465.2 104.83h2.17v1.96h-2.17zM465.2 119.82h2.17v31.93h-2.17zM468.75 89.85h2.17v1.96h-2.17zM468.75 108.16h2.17v10.29h-2.17zM470.52 104.83h2.17v3.63h-2.17zM470.52 111.49h2.17v10.29h-2.17zM474.07 123.15h2.17v28.6h-2.17zM475.84 89.85h2.17v1.96h-2.17zM475.84 94.84h2.17v1.96h-2.17zM475.84 106.5h2.17v6.96h-2.17zM477.62 96.51h2.17v1.96h-2.17zM479.39 89.85h2.17v1.96h-2.17zM481.16 99.84h2.17v1.96h-2.17zM482.93 93.18h2.17v1.96h-2.17zM482.93 108.16h2.17v5.29h-2.17zM488.25 103.17h2.17v1.96h-2.17zM488.25 114.82h2.17v10.29h-2.17zM490.03 96.51h2.17v1.96h-2.17zM490.03 109.83h2.17v6.96h-2.17z"/><path fill="#31668e" d="M445.7 101.5h2.17v1.96h-2.17zM447.47 101.5h2.17v1.96h-2.17zM447.47 106.5h2.17v3.63h-2.17zM449.25 91.51h2.17v1.96h-2.17zM449.25 94.84h2.17v1.96h-2.17zM451.02 91.51h2.17v1.96h-2.17zM451.02 103.17h2.17v1.96h-2.17zM451.02 109.83h2.17v1.96h-2.17zM452.79 103.17h2.17v1.96h-2.17zM456.34 89.85h2.17v1.96h-2.17zM456.34 93.18h2.17v1.96h-2.17zM456.34 99.84h2.17v3.63h-2.17zM458.11 103.17h2.17v5.29h-2.17zM459.88 144.79h2.17v6.96h-2.17zM463.43 104.83h2.17v5.29h-2.17zM463.43 114.82h2.17v8.62h-2.17zM465.2 89.85h2.17v1.96h-2.17zM465.2 109.83h2.17v10.29h-2.17zM470.52 108.16h2.17v3.63h-2.17zM474.07 113.16h2.17v10.29h-2.17zM475.84 93.18h2.17v1.96h-2.17zM482.93 94.84h2.17v1.96h-2.17zM482.93 104.83h2.17v3.63h-2.17zM486.48 89.85h2.17v1.96h-2.17zM486.48 99.84h2.17v1.96h-2.17zM488.25 109.83h2.17v5.29h-2.17zM490.03 103.17h2.17v6.96h-2.17z"/><path fill="#2c728e" d="M445.7 103.17h2.17v3.63h-2.17zM445.7 109.83h2.17v8.62h-2.17zM447.47 93.18h2.17v1.96h-2.17zM447.47 116.49h2.17v10.29h-2.17zM449.25 99.84h2.17v3.63h-2.17zM451.02 89.85h2.17v1.96h-2.17zM451.02 121.48h2.17v30.27h-2.17zM452.79 93.18h2.17v3.63h-2.17zM452.79 98.17h2.17v3.63h-2.17zM452.79 104.83h2.17v3.63h-2.17zM452.79 113.16h2.17v10.29h-2.17zM454.57 89.85h2.17v1.96h-2.17zM456.34 103.17h2.17v11.95h-2.17zM458.11 99.84h2.17v3.63h-2.17zM458.11 116.49h2.17v10.29h-2.17zM463.43 91.51h2.17v3.63h-2.17zM465.2 98.17h2.17v1.96h-2.17zM465.2 103.17h2.17v1.96h-2.17zM468.75 101.5h2.17v3.63h-2.17zM468.75 106.5h2.17v1.96h-2.17zM468.75 118.15h2.17v33.6h-2.17zM470.52 93.18h2.17v1.96h-2.17zM470.52 96.51h2.17v1.96h-2.17zM470.52 121.48h2.17v30.27h-2.17zM475.84 103.17h2.17v3.63h-2.17zM475.84 113.16h2.17v10.29h-2.17zM479.39 108.16h2.17v10.29h-2.17zM481.16 101.5h2.17v5.29h-2.17zM482.93 99.84h2.17v1.96h-2.17zM482.93 113.16h2.17v10.29h-2.17zM486.48 91.51h2.17v1.96h-2.17zM486.48 96.51h2.17v1.96h-2.17zM486.48 103.17h2.17v3.63h-2.17zM488.25 101.5h2.17v1.96h-2.17zM488.25 124.81h2.17v26.94h-2.17zM490.03 94.84h2.17v1.96h-2.17zM490.03 98.17h2.17v3.63h-2.17zM490.03 116.49h2.17v10.29h-2.17z"/><path fill="#2a788e" d="M445.7 118.15h2.17v33.6h-2.17zM447.47 96.51h2.17v1.96h-2.17zM447.47 99.84h2.17v1.96h-2.17zM447.47 126.48h2.17v25.27h-2.17zM449.25 103.17h2.17v1.96h-2.17zM449.25 109.83h2.17v6.96h-2.17zM452.79 96.51h2.17v1.96h-2.17zM452.79 123.15h2.17v28.6h-2.17zM454.57 91.51h2.17v1.96h-2.17zM454.57 106.5h2.17v15.28h-2.17zM454.57 144.79h2.17v6.96h-2.17zM456.34 96.51h2.17v1.96h-2.17zM456.34 114.82h2.17v10.29h-2.17zM458.11 91.51h2.17v1.96h-2.17zM458.11 126.48h2.17v25.27h-2.17zM459.88 93.18h2.17v1.96h-2.17zM459.88 96.51h2.17v1.96h-2.17zM461.66 94.84h2.17v1.96h-2.17zM463.43 99.84h2.17v1.96h-2.17zM465.2 99.84h2.17v3.63h-2.17zM468.75 104.83h2.17v1.96h-2.17zM470.52 89.85h2.17v1.96h-2.17zM470.52 94.84h2.17v1.96h-2.17zM470.52 103.17h2.17v1.96h-2.17zM474.07 98.17h2.17v1.96h-2.17zM475.84 123.15h2.17v28.6h-2.17zM477.62 93.18h2.17v1.96h-2.17zM477.62 104.83h2.17v16.95h-2.17zM479.39 96.51h2.17v1.96h-2.17zM479.39 106.5h2.17v1.96h-2.17zM479.39 118.15h2.17v33.6h-2.17zM481.16 96.51h2.17v3.63h-2.17zM481.16 106.5h2.17v8.62h-2.17zM482.93 98.17h2.17v1.96h-2.17zM482.93 123.15h2.17v28.6h-2.17zM484.71 89.85h2.17v1.96h-2.17zM486.48 101.5h2.17v1.96h-2.17zM490.03 101.5h2.17v1.96h-2.17zM490.03 126.48h2.17v25.27h-2.17z"/><path fill="#25848e" d="M447.47 98.17h2.17v1.96h-2.17zM449.25 104.83h2.17v1.96h-2.17zM454.57 103.17h2.17v1.96h-2.17zM459.88 94.84h2.17v1.96h-2.17zM461.66 89.85h2.17v1.96h-2.17zM463.43 96.51h2.17v3.63h-2.17zM466.98 104.83h2.17v3.63h-2.17zM466.98 111.49h2.17v40.26h-2.17zM470.52 91.51h2.17v1.96h-2.17zM470.52 99.84h2.17v3.63h-2.17zM474.07 89.85h2.17v1.96h-2.17zM474.07 94.84h2.17v3.63h-2.17zM475.84 96.51h2.17v1.96h-2.17zM475.84 101.5h2.17v1.96h-2.17zM479.39 91.51h2.17v1.96h-2.17zM479.39 104.83h2.17v1.96h-2.17zM482.93 91.51h2.17v1.96h-2.17zM484.71 91.51h2.17v1.96h-2.17zM484.71 99.84h2.17v1.96h-2.17zM484.71 106.5h2.17v3.63h-2.17zM484.71 113.16h2.17v38.59h-2.17z"/><path fill="#38598c" d="M447.47 103.17h2.17v1.96h-2.17zM451.02 93.18h2.17v1.96h-2.17zM454.57 94.84h2.17v3.63h-2.17zM458.11 94.84h2.17v1.96h-2.17zM459.88 119.82h2.17v6.96h-2.17zM465.2 94.84h2.17v1.96h-2.17zM468.75 91.51h2.17v1.96h-2.17zM474.07 106.5h2.17v1.96h-2.17zM477.62 99.84h2.17v3.63h-2.17zM481.16 89.85h2.17v1.96h-2.17zM486.48 98.17h2.17v1.96h-2.17zM488.25 91.51h2.17v3.63h-2.17zM488.25 106.5h2.17v3.63h-2.17z"/><path fill="#277e8e" d="M449.25 106.5h2.17v3.63h-2.17zM449.25 116.49h2.17v35.26h-2.17zM452.79 91.51h2.17v1.96h-2.17zM454.57 99.84h2.17v3.63h-2.17zM454.57 104.83h2.17v1.96h-2.17zM454.57 121.48h2.17v23.61h-2.17zM456.34 124.81h2.17v26.94h-2.17zM461.66 91.51h2.17v1.96h-2.17zM463.43 94.84h2.17v1.96h-2.17zM466.98 109.83h2.17v1.96h-2.17zM470.52 98.17h2.17v1.96h-2.17zM474.07 93.18h2.17v1.96h-2.17zM477.62 94.84h2.17v1.96h-2.17zM477.62 121.48h2.17v30.27h-2.17zM479.39 98.17h2.17v1.96h-2.17zM481.16 114.82h2.17v36.93h-2.17zM484.71 96.51h2.17v3.63h-2.17zM484.71 109.83h2.17v3.63h-2.17zM486.48 94.84h2.17v1.96h-2.17zM490.03 89.85h2.17v1.96h-2.17zM490.03 93.18h2.17v1.96h-2.17z"/><path fill="#414487" d="M451.02 98.17h2.17v1.96h-2.17zM468.75 98.17h2.17v1.96h-2.17zM474.07 101.5h2.17v1.96h-2.17zM488.25 94.84h2.17v1.96h-2.17z"/><path fill="#3e4a89" d="M451.02 99.84h2.17v1.96h-2.17zM459.88 89.85h2.17v1.96h-2.17zM459.88 103.17h2.17v8.62h-2.17zM468.75 96.51h2.17v1.96h-2.17zM474.07 103.17h2.17v1.96h-2.17zM481.16 91.51h2.17v3.63h-2.17zM488.25 96.51h2.17v3.63h-2.17z"/><path fill="#44bf70" d="M459.88 91.51h2.17v1.96h-2.17z"/><path fill="#21918c" d="M461.66 96.51h2.17v1.96h-2.17zM466.98 93.18h2.17v1.96h-2.17zM472.3 96.51h2.17v1.96h-2.17zM472.3 144.79h2.17v6.96h-2.17zM474.07 91.51h2.17v1.96h-2.17zM475.84 99.84h2.17v1.96h-2.17zM479.39 93.18h2.17v3.63h-2.17zM479.39 103.17h2.17v1.96h-2.17zM484.71 94.84h2.17v1.96h-2.17zM486.48 106.5h2.17v3.63h-2.17z"/><path fill="#1f968b" d="M461.66 98.17h2.17v1.96h-2.17zM461.66 101.5h2.17v3.63h-2.17zM466.98 94.84h2.17v1.96h-2.17zM466.98 101.5h2.17v1.96h-2.17zM472.3 99.84h2.17v1.96h-2.17zM472.3 104.83h2.17v1.96h-2.17zM472.3 109.83h2.17v1.96h-2.17zM472.3 131.47h2.17v13.62h-2.17zM484.71 101.5h2.17v3.63h-2.17zM486.48 93.18h2.17v1.96h-2.17z"/><path fill="#1e9c89" d="M461.66 99.84h2.17v1.96h-2.17zM461.66 143.13h2.17v8.62h-2.17zM466.98 89.85h2.17v1.96h-2.17zM466.98 99.84h2.17v1.96h-2.17zM472.3 98.17h2.17v1.96h-2.17zM472.3 106.5h2.17v1.96h-2.17zM472.3 111.49h2.17v20.28h-2.17z"/><path fill="#1fa287" d="M461.66 104.83h2.17v3.63h-2.17zM461.66 131.47h2.17v11.95h-2.17zM472.3 108.16h2.17v1.96h-2.17z"/><path fill="#22a884" d="M461.66 108.16h2.17v23.61h-2.17zM466.98 96.51h2.17v3.63h-2.17zM482.93 89.85h2.17v1.96h-2.17z"/><path fill="#238a8d" d="M466.98 91.51h2.17v1.96h-2.17zM466.98 103.17h2.17v1.96h-2.17zM466.98 108.16h2.17v1.96h-2.17zM472.3 94.84h2.17v1.96h-2.17zM472.3 101.5h2.17v3.63h-2.17zM475.84 98.17h2.17v1.96h-2.17zM479.39 99.84h2.17v3.63h-2.17zM484.71 93.18h2.17v1.96h-2.17zM484.71 104.83h2.17v1.96h-2.17zM490.03 91.51h2.17v1.96h-2.17z"/><path fill="#443b84" d="M468.75 94.84h2.17v1.96h-2.17z"/><path fill="#38b977" d="M472.3 89.85h2.17v5.29h-2.17zM486.48 109.83h2.17v6.96h-2.17z"/><path fill="#fde725" d="M486.48 116.49h2.17v35.26h-2.17z"/></g></g>
<rect x="445.9" y="90" width="46.1" height="61.6" fill="none" stroke="#223" stroke-width=".4"/>
<text x="468.95" y="86.3" font-size="9.1" text-anchor="middle">x</text>
<text x="446.79" y="158.6" font-size="5.8" text-anchor="middle">a</text>
<text x="452.11" y="158.6" font-size="5.8" text-anchor="middle">d</text>
<text x="457.42" y="158.6" font-size="5.8" text-anchor="middle">g</text>
<text x="462.74" y="158.6" font-size="5.8" text-anchor="middle">j</text>
<text x="468.06" y="158.6" font-size="5.8" text-anchor="middle">m</text>
<text x="473.38" y="158.6" font-size="5.8" text-anchor="middle">p</text>
<text x="478.7" y="158.6" font-size="5.8" text-anchor="middle">s</text>
<text x="484.02" y="158.6" font-size="5.8" text-anchor="middle">v</text>
<text x="489.34" y="158.6" font-size="5.8" text-anchor="middle">y</text>
<path d="M446.79 151.6v-1.5M452.11 151.6v-1.5M457.42 151.6v-1.5M462.74 151.6v-1.5M468.06 151.6v-1.5M473.38 151.6v-1.5M478.7 151.6v-1.5M484.02 151.6v-1.5M489.34 151.6v-1.5" stroke="#111" stroke-width=".5" fill="none"/>
<clipPath id="hc2"><rect x="502.5" y="90" width="46.6" height="61.6"/></clipPath><g clip-path="url(#hc2)"><g filter="url(#hb)"><rect x="499.5" y="87" width="52.6" height="67.6" fill="#355e8d"/><rect x="502.5" y="90" width="46.6" height="61.6" fill="#355e8d"/><path fill="#472d7b" d="M502.3 89.85h1.23v1.96h-1.23zM511.45 89.85h1.23v1.96h-1.23zM519.77 89.85h1.23v1.96h-1.23zM523.94 89.85h1.23v1.96h-1.23zM544.74 98.17h1.23v1.96h-1.23z"/><path fill="#3e4a89" d="M502.3 91.51h1.23v1.96h-1.23zM505.63 98.17h1.23v1.96h-1.23zM516.45 91.51h1.23v1.96h-1.23zM519.77 94.84h1.23v1.96h-1.23zM520.61 103.17h1.23v1.96h-1.23zM527.26 91.51h1.23v3.63h-1.23zM528.1 98.17h1.23v1.96h-1.23zM528.93 98.17h1.23v5.29h-1.23zM529.76 91.51h1.23v1.96h-1.23zM529.76 106.5h1.23v6.96h-1.23zM531.42 99.84h1.23v1.96h-1.23zM533.09 93.18h1.23v1.96h-1.23zM533.92 106.5h1.23v1.96h-1.23zM534.75 99.84h1.23v1.96h-1.23zM535.59 89.85h1.23v1.96h-1.23zM540.58 93.18h1.23v1.96h-1.23zM543.07 93.18h1.23v1.96h-1.23zM544.74 89.85h1.23v1.96h-1.23zM544.74 93.18h1.23v1.96h-1.23zM546.4 89.85h1.23v1.96h-1.23zM547.24 93.18h1.23v1.96h-1.23z"/><path fill="#355f8d" d="M502.3 93.18h1.23v3.63h-1.23zM502.3 99.84h1.23v1.96h-1.23zM502.3 111.49h1.23v40.26h-1.23zM503.13 89.85h1.23v1.96h-1.23zM503.13 93.18h1.23v1.96h-1.23zM503.13 98.17h1.23v1.96h-1.23zM503.13 109.83h1.23v3.63h-1.23zM503.96 89.85h1.23v3.63h-1.23zM503.96 96.51h1.23v1.96h-1.23zM503.96 99.84h1.23v1.96h-1.23zM504.8 99.84h1.23v3.63h-1.23zM504.8 106.5h1.23v1.96h-1.23zM504.8 113.16h1.23v38.59h-1.23zM505.63 93.18h1.23v1.96h-1.23zM505.63 109.83h1.23v3.63h-1.23zM506.46 96.51h1.23v3.63h-1.23zM506.46 101.5h1.23v5.29h-1.23zM507.29 98.17h1.23v1.96h-1.23zM507.29 101.5h1.23v1.96h-1.23zM507.29 108.16h1.23v43.59h-1.23zM508.12 89.85h1.23v1.96h-1.23zM508.12 109.83h1.23v3.63h-1.23zM508.96 94.84h1.23v1.96h-1.23zM508.96 98.17h1.23v1.96h-1.23zM508.96 101.5h1.23v1.96h-1.23zM508.96 104.83h1.23v1.96h-1.23zM508.96 108.16h1.23v1.96h-1.23zM508.96 111.49h1.23v1.96h-1.23zM509.79 103.17h1.23v1.96h-1.23zM509.79 106.5h1.23v3.63h-1.23zM510.62 91.51h1.23v1.96h-1.23zM510.62 108.16h1.23v1.96h-1.23zM510.62 111.49h1.23v40.26h-1.23zM511.45 103.17h1.23v1.96h-1.23zM511.45 108.16h1.23v43.59h-1.23zM512.29 98.17h1.23v1.96h-1.23zM512.29 106.5h1.23v1.96h-1.23zM512.29 111.49h1.23v40.26h-1.23zM513.12 94.84h1.23v5.29h-1.23zM513.12 109.83h1.23v1.96h-1.23zM513.12 113.16h1.23v38.59h-1.23zM513.95 94.84h1.23v1.96h-1.23zM513.95 103.17h1.23v1.96h-1.23zM513.95 106.5h1.23v3.63h-1.23zM513.95 111.49h1.23v1.96h-1.23zM514.78 106.5h1.23v1.96h-1.23zM514.78 109.83h1.23v41.92h-1.23zM515.61 93.18h1.23v1.96h-1.23zM515.61 106.5h1.23v1.96h-1.23zM515.61 109.83h1.23v41.92h-1.23zM516.45 96.51h1.23v1.96h-1.23zM516.45 103.17h1.23v6.96h-1.23zM516.45 111.49h1.23v40.26h-1.23zM517.28 104.83h1.23v1.96h-1.23zM517.28 109.83h1.23v1.96h-1.23zM517.28 113.16h1.23v38.59h-1.23zM518.11 99.84h1.23v1.96h-1.23zM518.11 109.83h1.23v41.92h-1.23zM518.94 103.17h1.23v1.96h-1.23zM518.94 106.5h1.23v1.96h-1.23zM518.94 109.83h1.23v3.63h-1.23zM519.77 99.84h1.23v1.96h-1.23zM519.77 124.81h1.23v26.94h-1.23zM520.61 93.18h1.23v1.96h-1.23zM522.27 99.84h1.23v5.29h-1.23zM522.27 113.16h1.23v38.59h-1.23zM523.1 103.17h1.23v1.96h-1.23zM523.1 136.47h1.23v15.28h-1.23zM523.94 91.51h1.23v1.96h-1.23zM523.94 108.16h1.23v43.59h-1.23zM524.77 99.84h1.23v3.63h-1.23zM525.6 106.5h1.23v3.63h-1.23zM525.6 111.49h1.23v40.26h-1.23zM526.43 103.17h1.23v1.96h-1.23zM526.43 106.5h1.23v1.96h-1.23zM526.43 113.16h1.23v38.59h-1.23zM527.26 113.16h1.23v38.59h-1.23zM528.1 99.84h1.23v1.96h-1.23zM528.1 111.49h1.23v40.26h-1.23zM528.93 94.84h1.23v3.63h-1.23zM530.59 96.51h1.23v1.96h-1.23zM530.59 111.49h1.23v40.26h-1.23zM531.42 94.84h1.23v1.96h-1.23zM531.42 101.5h1.23v1.96h-1.23zM531.42 109.83h1.23v3.63h-1.23zM532.26 108.16h1.23v1.96h-1.23zM532.26 111.49h1.23v40.26h-1.23zM533.09 94.84h1.23v1.96h-1.23zM533.09 109.83h1.23v3.63h-1.23zM533.92 109.83h1.23v41.92h-1.23zM534.75 96.51h1.23v1.96h-1.23zM534.75 109.83h1.23v1.96h-1.23zM534.75 113.16h1.23v38.59h-1.23zM535.59 108.16h1.23v3.63h-1.23zM536.42 99.84h1.23v8.62h-1.23zM536.42 113.16h1.23v38.59h-1.23zM537.25 101.5h1.23v1.96h-1.23zM537.25 106.5h1.23v1.96h-1.23zM538.08 109.83h1.23v3.63h-1.23zM538.91 108.16h1.23v1.96h-1.23zM539.75 98.17h1.23v1.96h-1.23zM539.75 106.5h1.23v1.96h-1.23zM539.75 109.83h1.23v41.92h-1.23zM540.58 89.85h1.23v1.96h-1.23zM540.58 101.5h1.23v3.63h-1.23zM540.58 109.83h1.23v3.63h-1.23zM541.41 104.83h1.23v1.96h-1.23zM542.24 101.5h1.23v1.96h-1.23zM542.24 108.16h1.23v43.59h-1.23zM543.07 89.85h1.23v1.96h-1.23zM543.07 98.17h1.23v1.96h-1.23zM543.07 104.83h1.23v6.96h-1.23zM543.91 91.51h1.23v1.96h-1.23zM543.91 98.17h1.23v1.96h-1.23zM543.91 111.49h1.23v40.26h-1.23zM544.74 104.83h1.23v1.96h-1.23zM544.74 108.16h1.23v1.96h-1.23zM545.57 108.16h1.23v1.96h-1.23zM545.57 113.16h1.23v38.59h-1.23zM546.4 109.83h1.23v41.92h-1.23zM547.24 94.84h1.23v1.96h-1.23zM547.24 103.17h1.23v1.96h-1.23zM547.24 111.49h1.23v40.26h-1.23zM548.07 93.18h1.23v1.96h-1.23zM548.07 96.51h1.23v1.96h-1.23zM548.07 104.83h1.23v46.92h-1.23z"/><path fill="#31668e" d="M502.3 96.51h1.23v1.96h-1.23zM503.13 99.84h1.23v3.63h-1.23zM503.13 106.5h1.23v3.63h-1.23zM504.8 103.17h1.23v3.63h-1.23zM505.63 104.83h1.23v5.29h-1.23zM506.46 99.84h1.23v1.96h-1.23zM507.29 99.84h1.23v1.96h-1.23zM507.29 103.17h1.23v5.29h-1.23zM508.12 106.5h1.23v3.63h-1.23zM508.96 99.84h1.23v1.96h-1.23zM508.96 103.17h1.23v1.96h-1.23zM510.62 99.84h1.23v1.96h-1.23zM511.45 94.84h1.23v1.96h-1.23zM511.45 101.5h1.23v1.96h-1.23zM512.29 104.83h1.23v1.96h-1.23zM513.12 99.84h1.23v1.96h-1.23zM513.12 108.16h1.23v1.96h-1.23zM513.95 98.17h1.23v1.96h-1.23zM513.95 104.83h1.23v1.96h-1.23zM513.95 109.83h1.23v1.96h-1.23zM514.78 103.17h1.23v1.96h-1.23zM514.78 108.16h1.23v1.96h-1.23zM515.61 94.84h1.23v3.63h-1.23zM515.61 101.5h1.23v1.96h-1.23zM515.61 108.16h1.23v1.96h-1.23zM516.45 93.18h1.23v3.63h-1.23zM516.45 101.5h1.23v1.96h-1.23zM516.45 109.83h1.23v1.96h-1.23zM517.28 93.18h1.23v1.96h-1.23zM517.28 98.17h1.23v1.96h-1.23zM517.28 111.49h1.23v1.96h-1.23zM518.11 93.18h1.23v1.96h-1.23zM518.11 96.51h1.23v1.96h-1.23zM518.11 101.5h1.23v8.62h-1.23zM519.77 96.51h1.23v3.63h-1.23zM519.77 108.16h1.23v1.96h-1.23zM519.77 113.16h1.23v11.95h-1.23zM520.61 91.51h1.23v1.96h-1.23zM520.61 98.17h1.23v1.96h-1.23zM521.44 89.85h1.23v1.96h-1.23zM521.44 101.5h1.23v1.96h-1.23zM521.44 114.82h1.23v36.93h-1.23zM522.27 89.85h1.23v1.96h-1.23zM522.27 96.51h1.23v1.96h-1.23zM522.27 109.83h1.23v3.63h-1.23zM523.1 89.85h1.23v1.96h-1.23zM523.1 93.18h1.23v1.96h-1.23zM523.1 109.83h1.23v26.94h-1.23zM524.77 96.51h1.23v1.96h-1.23zM524.77 109.83h1.23v41.92h-1.23zM525.6 103.17h1.23v3.63h-1.23zM526.43 108.16h1.23v5.29h-1.23zM527.26 108.16h1.23v5.29h-1.23zM528.1 93.18h1.23v3.63h-1.23zM528.93 89.85h1.23v1.96h-1.23zM529.76 98.17h1.23v1.96h-1.23zM530.59 94.84h1.23v1.96h-1.23zM530.59 98.17h1.23v1.96h-1.23zM530.59 106.5h1.23v1.96h-1.23zM531.42 103.17h1.23v1.96h-1.23zM531.42 108.16h1.23v1.96h-1.23zM532.26 99.84h1.23v1.96h-1.23zM532.26 109.83h1.23v1.96h-1.23zM533.09 91.51h1.23v1.96h-1.23zM533.09 96.51h1.23v1.96h-1.23zM533.09 101.5h1.23v5.29h-1.23zM533.09 108.16h1.23v1.96h-1.23zM533.09 113.16h1.23v38.59h-1.23zM533.92 101.5h1.23v1.96h-1.23zM534.75 94.84h1.23v1.96h-1.23zM535.59 93.18h1.23v1.96h-1.23zM535.59 96.51h1.23v3.63h-1.23zM535.59 106.5h1.23v1.96h-1.23zM536.42 111.49h1.23v1.96h-1.23zM537.25 94.84h1.23v1.96h-1.23zM537.25 99.84h1.23v1.96h-1.23zM538.08 93.18h1.23v1.96h-1.23zM538.08 98.17h1.23v5.29h-1.23zM538.08 106.5h1.23v3.63h-1.23zM538.91 106.5h1.23v1.96h-1.23zM538.91 109.83h1.23v41.92h-1.23zM539.75 103.17h1.23v3.63h-1.23zM539.75 108.16h1.23v1.96h-1.23zM540.58 98.17h1.23v3.63h-1.23zM540.58 104.83h1.23v1.96h-1.23zM540.58 108.16h1.23v1.96h-1.23zM541.41 91.51h1.23v1.96h-1.23zM541.41 103.17h1.23v1.96h-1.23zM541.41 113.16h1.23v38.59h-1.23zM542.24 94.84h1.23v6.96h-1.23zM542.24 103.17h1.23v5.29h-1.23zM543.07 94.84h1.23v1.96h-1.23zM543.91 94.84h1.23v3.63h-1.23zM544.74 106.5h1.23v1.96h-1.23zM545.57 91.51h1.23v1.96h-1.23zM545.57 99.84h1.23v3.63h-1.23zM545.57 104.83h1.23v1.96h-1.23zM546.4 104.83h1.23v5.29h-1.23zM547.24 96.51h1.23v1.96h-1.23zM547.24 101.5h1.23v1.96h-1.23zM547.24 109.83h1.23v1.96h-1.23zM548.07 94.84h1.23v1.96h-1.23zM548.07 98.17h1.23v1.96h-1.23z"/><path fill="#38598c" d="M502.3 98.17h1.23v1.96h-1.23zM502.3 103.17h1.23v1.96h-1.23zM502.3 106.5h1.23v5.29h-1.23zM503.13 91.51h1.23v1.96h-1.23zM503.13 96.51h1.23v1.96h-1.23zM503.13 113.16h1.23v38.59h-1.23zM503.96 101.5h1.23v1.96h-1.23zM503.96 109.83h1.23v41.92h-1.23zM504.8 108.16h1.23v5.29h-1.23zM505.63 103.17h1.23v1.96h-1.23zM505.63 113.16h1.23v38.59h-1.23zM506.46 106.5h1.23v5.29h-1.23zM506.46 113.16h1.23v38.59h-1.23zM508.12 113.16h1.23v38.59h-1.23zM508.96 106.5h1.23v1.96h-1.23zM508.96 109.83h1.23v1.96h-1.23zM508.96 113.16h1.23v38.59h-1.23zM509.79 104.83h1.23v1.96h-1.23zM509.79 109.83h1.23v41.92h-1.23zM510.62 103.17h1.23v1.96h-1.23zM510.62 109.83h1.23v1.96h-1.23zM511.45 106.5h1.23v1.96h-1.23zM512.29 108.16h1.23v3.63h-1.23zM513.12 111.49h1.23v1.96h-1.23zM513.95 91.51h1.23v3.63h-1.23zM513.95 113.16h1.23v38.59h-1.23zM514.78 104.83h1.23v1.96h-1.23zM515.61 91.51h1.23v1.96h-1.23zM515.61 103.17h1.23v3.63h-1.23zM516.45 99.84h1.23v1.96h-1.23zM518.11 91.51h1.23v1.96h-1.23zM518.11 98.17h1.23v1.96h-1.23zM518.94 89.85h1.23v1.96h-1.23zM518.94 104.83h1.23v1.96h-1.23zM518.94 108.16h1.23v1.96h-1.23zM518.94 113.16h1.23v38.59h-1.23zM519.77 103.17h1.23v1.96h-1.23zM519.77 106.5h1.23v1.96h-1.23zM520.61 99.84h1.23v1.96h-1.23zM520.61 111.49h1.23v40.26h-1.23zM521.44 98.17h1.23v1.96h-1.23zM522.27 94.84h1.23v1.96h-1.23zM522.27 98.17h1.23v1.96h-1.23zM523.1 99.84h1.23v1.96h-1.23zM524.77 89.85h1.23v1.96h-1.23zM525.6 91.51h1.23v1.96h-1.23zM525.6 98.17h1.23v5.29h-1.23zM525.6 109.83h1.23v1.96h-1.23zM526.43 91.51h1.23v1.96h-1.23zM526.43 104.83h1.23v1.96h-1.23zM528.1 91.51h1.23v1.96h-1.23zM528.1 104.83h1.23v1.96h-1.23zM528.1 109.83h1.23v1.96h-1.23zM528.93 91.51h1.23v3.63h-1.23zM528.93 103.17h1.23v1.96h-1.23zM528.93 106.5h1.23v45.25h-1.23zM529.76 94.84h1.23v3.63h-1.23zM529.76 99.84h1.23v1.96h-1.23zM530.59 108.16h1.23v3.63h-1.23zM531.42 96.51h1.23v1.96h-1.23zM531.42 113.16h1.23v38.59h-1.23zM532.26 104.83h1.23v1.96h-1.23zM533.92 108.16h1.23v1.96h-1.23zM534.75 98.17h1.23v1.96h-1.23zM534.75 104.83h1.23v5.29h-1.23zM534.75 111.49h1.23v1.96h-1.23zM535.59 91.51h1.23v1.96h-1.23zM535.59 111.49h1.23v40.26h-1.23zM537.25 103.17h1.23v1.96h-1.23zM537.25 108.16h1.23v43.59h-1.23zM538.08 89.85h1.23v3.63h-1.23zM538.08 113.16h1.23v38.59h-1.23zM539.75 99.84h1.23v3.63h-1.23zM540.58 94.84h1.23v3.63h-1.23zM540.58 113.16h1.23v38.59h-1.23zM541.41 98.17h1.23v1.96h-1.23zM543.07 91.51h1.23v1.96h-1.23zM543.07 96.51h1.23v1.96h-1.23zM543.07 99.84h1.23v5.29h-1.23zM543.07 111.49h1.23v40.26h-1.23zM543.91 89.85h1.23v1.96h-1.23zM544.74 103.17h1.23v1.96h-1.23zM544.74 109.83h1.23v41.92h-1.23zM545.57 93.18h1.23v1.96h-1.23zM545.57 98.17h1.23v1.96h-1.23zM545.57 109.83h1.23v3.63h-1.23zM546.4 93.18h1.23v3.63h-1.23z"/><path fill="#3b528b" d="M502.3 101.5h1.23v1.96h-1.23zM502.3 104.83h1.23v1.96h-1.23zM503.96 103.17h1.23v6.96h-1.23zM505.63 99.84h1.23v3.63h-1.23zM506.46 111.49h1.23v1.96h-1.23zM510.62 101.5h1.23v1.96h-1.23zM510.62 104.83h1.23v3.63h-1.23zM511.45 93.18h1.23v1.96h-1.23zM511.45 104.83h1.23v1.96h-1.23zM516.45 98.17h1.23v1.96h-1.23zM517.28 106.5h1.23v3.63h-1.23zM518.11 89.85h1.23v1.96h-1.23zM519.77 101.5h1.23v1.96h-1.23zM519.77 104.83h1.23v1.96h-1.23zM520.61 101.5h1.23v1.96h-1.23zM520.61 109.83h1.23v1.96h-1.23zM523.1 101.5h1.23v1.96h-1.23zM524.77 98.17h1.23v1.96h-1.23zM527.26 89.85h1.23v1.96h-1.23zM527.26 94.84h1.23v1.96h-1.23zM528.1 96.51h1.23v1.96h-1.23zM528.1 106.5h1.23v3.63h-1.23zM528.93 104.83h1.23v1.96h-1.23zM529.76 89.85h1.23v1.96h-1.23zM529.76 93.18h1.23v1.96h-1.23zM529.76 101.5h1.23v3.63h-1.23zM529.76 113.16h1.23v38.59h-1.23zM531.42 98.17h1.23v1.96h-1.23zM532.26 106.5h1.23v1.96h-1.23zM533.92 103.17h1.23v1.96h-1.23zM534.75 101.5h1.23v3.63h-1.23zM537.25 104.83h1.23v1.96h-1.23zM538.91 93.18h1.23v6.96h-1.23zM540.58 91.51h1.23v1.96h-1.23zM541.41 93.18h1.23v1.96h-1.23zM541.41 96.51h1.23v1.96h-1.23zM544.74 91.51h1.23v1.96h-1.23zM545.57 94.84h1.23v1.96h-1.23zM546.4 91.51h1.23v1.96h-1.23zM547.24 91.51h1.23v1.96h-1.23zM548.07 89.85h1.23v3.63h-1.23z"/><path fill="#2f6c8e" d="M503.13 94.84h1.23v1.96h-1.23zM503.13 103.17h1.23v1.96h-1.23zM503.96 98.17h1.23v1.96h-1.23zM506.46 94.84h1.23v1.96h-1.23zM508.12 96.51h1.23v1.96h-1.23zM509.79 101.5h1.23v1.96h-1.23zM510.62 89.85h1.23v1.96h-1.23zM510.62 93.18h1.23v1.96h-1.23zM512.29 99.84h1.23v1.96h-1.23zM513.12 101.5h1.23v3.63h-1.23zM513.12 106.5h1.23v1.96h-1.23zM513.95 89.85h1.23v1.96h-1.23zM513.95 99.84h1.23v3.63h-1.23zM515.61 89.85h1.23v1.96h-1.23zM515.61 98.17h1.23v1.96h-1.23zM517.28 91.51h1.23v1.96h-1.23zM517.28 94.84h1.23v1.96h-1.23zM517.28 99.84h1.23v1.96h-1.23zM517.28 103.17h1.23v1.96h-1.23zM519.77 111.49h1.23v1.96h-1.23zM520.61 94.84h1.23v3.63h-1.23zM521.44 99.84h1.23v1.96h-1.23zM521.44 111.49h1.23v3.63h-1.23zM522.27 93.18h1.23v1.96h-1.23zM522.27 104.83h1.23v1.96h-1.23zM522.27 108.16h1.23v1.96h-1.23zM523.1 91.51h1.23v1.96h-1.23zM523.1 98.17h1.23v1.96h-1.23zM523.1 104.83h1.23v1.96h-1.23zM523.1 108.16h1.23v1.96h-1.23zM523.94 106.5h1.23v1.96h-1.23zM524.77 108.16h1.23v1.96h-1.23zM525.6 93.18h1.23v1.96h-1.23zM525.6 96.51h1.23v1.96h-1.23zM526.43 93.18h1.23v3.63h-1.23zM527.26 96.51h1.23v1.96h-1.23zM527.26 104.83h1.23v3.63h-1.23zM528.1 101.5h1.23v3.63h-1.23zM531.42 104.83h1.23v3.63h-1.23zM532.26 93.18h1.23v1.96h-1.23zM532.26 98.17h1.23v1.96h-1.23zM532.26 101.5h1.23v3.63h-1.23zM533.09 89.85h1.23v1.96h-1.23zM533.09 99.84h1.23v1.96h-1.23zM533.09 106.5h1.23v1.96h-1.23zM533.92 89.85h1.23v3.63h-1.23zM535.59 94.84h1.23v1.96h-1.23zM535.59 99.84h1.23v1.96h-1.23zM536.42 98.17h1.23v1.96h-1.23zM536.42 108.16h1.23v3.63h-1.23zM537.25 96.51h1.23v3.63h-1.23zM538.08 96.51h1.23v1.96h-1.23zM538.08 103.17h1.23v1.96h-1.23zM538.91 91.51h1.23v1.96h-1.23zM538.91 99.84h1.23v1.96h-1.23zM539.75 89.85h1.23v3.63h-1.23zM539.75 96.51h1.23v1.96h-1.23zM540.58 106.5h1.23v1.96h-1.23zM541.41 89.85h1.23v1.96h-1.23zM541.41 99.84h1.23v3.63h-1.23zM541.41 106.5h1.23v1.96h-1.23zM541.41 111.49h1.23v1.96h-1.23zM542.24 91.51h1.23v1.96h-1.23zM543.91 99.84h1.23v1.96h-1.23zM543.91 108.16h1.23v3.63h-1.23zM545.57 89.85h1.23v1.96h-1.23zM545.57 106.5h1.23v1.96h-1.23zM546.4 96.51h1.23v3.63h-1.23zM546.4 103.17h1.23v1.96h-1.23zM547.24 104.83h1.23v5.29h-1.23zM548.07 101.5h1.23v3.63h-1.23z"/><path fill="#2c728e" d="M503.13 104.83h1.23v1.96h-1.23zM503.96 93.18h1.23v3.63h-1.23zM504.8 98.17h1.23v1.96h-1.23zM506.46 89.85h1.23v3.63h-1.23zM508.12 91.51h1.23v1.96h-1.23zM508.12 104.83h1.23v1.96h-1.23zM509.79 89.85h1.23v1.96h-1.23zM511.45 99.84h1.23v1.96h-1.23zM512.29 89.85h1.23v1.96h-1.23zM513.12 93.18h1.23v1.96h-1.23zM513.12 104.83h1.23v1.96h-1.23zM513.95 96.51h1.23v1.96h-1.23zM514.78 93.18h1.23v1.96h-1.23zM514.78 96.51h1.23v1.96h-1.23zM515.61 99.84h1.23v1.96h-1.23zM517.28 96.51h1.23v1.96h-1.23zM518.11 94.84h1.23v1.96h-1.23zM518.94 101.5h1.23v1.96h-1.23zM519.77 109.83h1.23v1.96h-1.23zM521.44 91.51h1.23v6.96h-1.23zM521.44 103.17h1.23v1.96h-1.23zM521.44 106.5h1.23v5.29h-1.23zM522.27 106.5h1.23v1.96h-1.23zM523.1 94.84h1.23v1.96h-1.23zM523.1 106.5h1.23v1.96h-1.23zM523.94 93.18h1.23v1.96h-1.23zM523.94 98.17h1.23v1.96h-1.23zM523.94 104.83h1.23v1.96h-1.23zM524.77 91.51h1.23v1.96h-1.23zM524.77 103.17h1.23v1.96h-1.23zM524.77 106.5h1.23v1.96h-1.23zM525.6 94.84h1.23v1.96h-1.23zM527.26 103.17h1.23v1.96h-1.23zM530.59 93.18h1.23v1.96h-1.23zM530.59 99.84h1.23v1.96h-1.23zM532.26 94.84h1.23v3.63h-1.23zM533.09 98.17h1.23v1.96h-1.23zM535.59 104.83h1.23v1.96h-1.23zM538.08 94.84h1.23v1.96h-1.23zM538.08 104.83h1.23v1.96h-1.23zM538.91 101.5h1.23v1.96h-1.23zM538.91 104.83h1.23v1.96h-1.23zM541.41 108.16h1.23v3.63h-1.23zM542.24 93.18h1.23v1.96h-1.23zM543.91 106.5h1.23v1.96h-1.23zM545.57 103.17h1.23v1.96h-1.23zM546.4 101.5h1.23v1.96h-1.23zM547.24 98.17h1.23v3.63h-1.23z"/><path fill="#277e8e" d="M504.8 89.85h1.23v3.63h-1.23zM507.29 89.85h1.23v1.96h-1.23zM507.29 94.84h1.23v3.63h-1.23zM508.12 98.17h1.23v1.96h-1.23zM508.12 103.17h1.23v1.96h-1.23zM508.96 93.18h1.23v1.96h-1.23zM510.62 94.84h1.23v1.96h-1.23zM512.29 91.51h1.23v3.63h-1.23zM513.12 91.51h1.23v1.96h-1.23zM514.78 98.17h1.23v3.63h-1.23zM518.94 94.84h1.23v1.96h-1.23zM523.94 101.5h1.23v3.63h-1.23zM524.77 104.83h1.23v1.96h-1.23zM526.43 96.51h1.23v1.96h-1.23zM527.26 99.84h1.23v1.96h-1.23zM531.42 91.51h1.23v1.96h-1.23zM533.92 98.17h1.23v3.63h-1.23zM536.42 89.85h1.23v1.96h-1.23zM537.25 89.85h1.23v1.96h-1.23zM537.25 93.18h1.23v1.96h-1.23zM539.75 94.84h1.23v1.96h-1.23zM542.24 89.85h1.23v1.96h-1.23zM543.91 101.5h1.23v3.63h-1.23zM547.24 89.85h1.23v1.96h-1.23zM548.07 99.84h1.23v1.96h-1.23z"/><path fill="#25848e" d="M504.8 93.18h1.23v1.96h-1.23zM504.8 96.51h1.23v1.96h-1.23zM505.63 91.51h1.23v1.96h-1.23zM508.12 99.84h1.23v1.96h-1.23zM510.62 96.51h1.23v1.96h-1.23zM524.77 93.18h1.23v3.63h-1.23zM526.43 99.84h1.23v1.96h-1.23zM531.42 89.85h1.23v1.96h-1.23zM534.75 91.51h1.23v3.63h-1.23zM536.42 96.51h1.23v1.96h-1.23z"/><path fill="#238a8d" d="M504.8 94.84h1.23v1.96h-1.23zM508.12 101.5h1.23v1.96h-1.23zM509.79 96.51h1.23v1.96h-1.23zM534.75 89.85h1.23v1.96h-1.23zM536.42 91.51h1.23v3.63h-1.23z"/><path fill="#28ae80" d="M505.63 89.85h1.23v1.96h-1.23z"/><path fill="#463480" d="M505.63 94.84h1.23v1.96h-1.23zM511.45 91.51h1.23v1.96h-1.23zM528.1 89.85h1.23v1.96h-1.23z"/><path fill="#414487" d="M505.63 96.51h1.23v1.96h-1.23zM508.96 96.51h1.23v1.96h-1.23zM516.45 89.85h1.23v1.96h-1.23zM520.61 104.83h1.23v5.29h-1.23zM525.6 89.85h1.23v1.96h-1.23zM529.76 104.83h1.23v1.96h-1.23zM533.92 104.83h1.23v1.96h-1.23zM544.74 94.84h1.23v1.96h-1.23zM544.74 99.84h1.23v1.96h-1.23zM545.57 96.51h1.23v1.96h-1.23z"/><path fill="#2a788e" d="M506.46 93.18h1.23v1.96h-1.23zM508.12 93.18h1.23v3.63h-1.23zM509.79 98.17h1.23v3.63h-1.23zM510.62 98.17h1.23v1.96h-1.23zM511.45 96.51h1.23v3.63h-1.23zM512.29 94.84h1.23v3.63h-1.23zM512.29 101.5h1.23v3.63h-1.23zM514.78 89.85h1.23v3.63h-1.23zM514.78 94.84h1.23v1.96h-1.23zM514.78 101.5h1.23v1.96h-1.23zM517.28 89.85h1.23v1.96h-1.23zM517.28 101.5h1.23v1.96h-1.23zM518.94 91.51h1.23v1.96h-1.23zM518.94 96.51h1.23v5.29h-1.23zM520.61 89.85h1.23v1.96h-1.23zM521.44 104.83h1.23v1.96h-1.23zM522.27 91.51h1.23v1.96h-1.23zM523.1 96.51h1.23v1.96h-1.23zM523.94 94.84h1.23v3.63h-1.23zM523.94 99.84h1.23v1.96h-1.23zM526.43 89.85h1.23v1.96h-1.23zM526.43 101.5h1.23v1.96h-1.23zM527.26 98.17h1.23v1.96h-1.23zM527.26 101.5h1.23v1.96h-1.23zM530.59 89.85h1.23v3.63h-1.23zM530.59 101.5h1.23v5.29h-1.23zM531.42 93.18h1.23v1.96h-1.23zM532.26 89.85h1.23v3.63h-1.23zM533.92 93.18h1.23v1.96h-1.23zM535.59 101.5h1.23v3.63h-1.23zM538.91 89.85h1.23v1.96h-1.23zM538.91 103.17h1.23v1.96h-1.23zM539.75 93.18h1.23v1.96h-1.23zM543.91 93.18h1.23v1.96h-1.23zM543.91 104.83h1.23v1.96h-1.23zM546.4 99.84h1.23v1.96h-1.23z"/><path fill="#21918c" d="M507.29 91.51h1.23v3.63h-1.23zM508.96 89.85h1.23v3.63h-1.23zM509.79 93.18h1.23v1.96h-1.23zM518.94 93.18h1.23v1.96h-1.23zM526.43 98.17h1.23v1.96h-1.23zM533.92 96.51h1.23v1.96h-1.23zM536.42 94.84h1.23v1.96h-1.23zM537.25 91.51h1.23v1.96h-1.23z"/><path fill="#1f968b" d="M509.79 91.51h1.23v1.96h-1.23zM513.12 89.85h1.23v1.96h-1.23zM533.92 94.84h1.23v1.96h-1.23z"/><path fill="#1e9c89" d="M509.79 94.84h1.23v1.96h-1.23z"/><path fill="#471365" d="M519.77 91.51h1.23v1.96h-1.23z"/><path fill="#482475" d="M519.77 93.18h1.23v1.96h-1.23z"/><path fill="#443b84" d="M541.41 94.84h1.23v1.96h-1.23zM544.74 96.51h1.23v1.96h-1.23zM544.74 101.5h1.23v1.96h-1.23z"/></g></g>
<rect x="534.06" y="111.64" width=".95" height="39.96" fill="#d9d43c"/>
<rect x="502.5" y="90" width="46.6" height="61.6" fill="none" stroke="#223" stroke-width=".4"/>
<text x="525.8" y="86.3" font-size="9.1" text-anchor="middle">38</text>
<text x="502.92" y="158.6" font-size="5.8" text-anchor="middle">0</text>
<text x="511.24" y="158.6" font-size="5.8" text-anchor="middle">10</text>
<text x="519.56" y="158.6" font-size="5.8" text-anchor="middle">20</text>
<text x="527.88" y="158.6" font-size="5.8" text-anchor="middle">30</text>
<text x="536.2" y="158.6" font-size="5.8" text-anchor="middle">40</text>
<text x="544.52" y="158.6" font-size="5.8" text-anchor="middle">50</text>
<path d="M502.92 151.6v-1.5M511.24 151.6v-1.5M519.56 151.6v-1.5M527.88 151.6v-1.5M536.2 151.6v-1.5M544.52 151.6v-1.5" stroke="#111" stroke-width=".5" fill="none"/>
<clipPath id="hc3"><rect x="559.5" y="90" width="46.3" height="61.6"/></clipPath><g clip-path="url(#hc3)"><g filter="url(#hb)"><rect x="556.5" y="87" width="52.3" height="67.6" fill="#2c738e"/><rect x="559.5" y="90" width="46.3" height="61.6" fill="#2c738e"/><path fill="#2f6c8e" d="M559.3 89.85h1.23v1.96h-1.23zM559.3 94.84h1.23v1.96h-1.23zM560.13 91.51h1.23v1.96h-1.23zM560.95 89.85h1.23v1.96h-1.23zM560.95 93.18h1.23v3.63h-1.23zM560.95 101.5h1.23v1.96h-1.23zM561.78 104.83h1.23v5.29h-1.23zM563.43 89.85h1.23v1.96h-1.23zM564.26 93.18h1.23v1.96h-1.23zM564.26 98.17h1.23v1.96h-1.23zM565.09 96.51h1.23v1.96h-1.23zM565.09 101.5h1.23v3.63h-1.23zM565.91 96.51h1.23v1.96h-1.23zM566.74 89.85h1.23v1.96h-1.23zM569.22 101.5h1.23v3.63h-1.23zM570.05 99.84h1.23v1.96h-1.23zM570.05 106.5h1.23v3.63h-1.23zM570.88 99.84h1.23v1.96h-1.23zM570.88 103.17h1.23v1.96h-1.23zM571.7 99.84h1.23v3.63h-1.23zM572.53 109.83h1.23v1.96h-1.23zM573.36 98.17h1.23v1.96h-1.23zM575.01 104.83h1.23v1.96h-1.23zM576.66 94.84h1.23v3.63h-1.23zM576.66 104.83h1.23v3.63h-1.23zM577.49 96.51h1.23v1.96h-1.23zM579.97 94.84h1.23v1.96h-1.23zM579.97 106.5h1.23v3.63h-1.23zM580.8 101.5h1.23v1.96h-1.23zM580.8 104.83h1.23v1.96h-1.23zM581.62 99.84h1.23v1.96h-1.23zM583.28 101.5h1.23v1.96h-1.23zM584.93 96.51h1.23v5.29h-1.23zM585.76 89.85h1.23v1.96h-1.23zM585.76 93.18h1.23v1.96h-1.23zM586.58 96.51h1.23v3.63h-1.23zM587.41 89.85h1.23v1.96h-1.23zM587.41 94.84h1.23v1.96h-1.23zM587.41 104.83h1.23v1.96h-1.23zM588.24 89.85h1.23v1.96h-1.23zM588.24 94.84h1.23v3.63h-1.23zM589.06 98.17h1.23v5.29h-1.23zM589.06 106.5h1.23v5.29h-1.23zM590.72 93.18h1.23v1.96h-1.23zM591.54 89.85h1.23v1.96h-1.23zM591.54 101.5h1.23v3.63h-1.23zM592.37 98.17h1.23v3.63h-1.23zM594.02 94.84h1.23v1.96h-1.23zM594.85 93.18h1.23v5.29h-1.23zM594.85 99.84h1.23v3.63h-1.23zM594.85 106.5h1.23v1.96h-1.23zM595.68 91.51h1.23v1.96h-1.23zM595.68 104.83h1.23v3.63h-1.23zM596.51 99.84h1.23v1.96h-1.23zM596.51 108.16h1.23v1.96h-1.23zM597.33 93.18h1.23v1.96h-1.23zM597.33 98.17h1.23v1.96h-1.23zM597.33 108.16h1.23v1.96h-1.23zM598.99 94.84h1.23v1.96h-1.23zM598.99 104.83h1.23v1.96h-1.23zM599.81 89.85h1.23v3.63h-1.23zM599.81 98.17h1.23v1.96h-1.23zM599.81 101.5h1.23v3.63h-1.23zM599.81 106.5h1.23v3.63h-1.23zM599.81 111.49h1.23v40.26h-1.23zM600.64 101.5h1.23v1.96h-1.23zM603.12 103.17h1.23v5.29h-1.23zM603.95 101.5h1.23v1.96h-1.23zM603.95 104.83h1.23v1.96h-1.23z"/><path fill="#2c728e" d="M559.3 91.51h1.23v1.96h-1.23zM560.13 103.17h1.23v48.58h-1.23zM560.95 103.17h1.23v1.96h-1.23zM560.95 106.5h1.23v5.29h-1.23zM561.78 93.18h1.23v3.63h-1.23zM561.78 101.5h1.23v3.63h-1.23zM561.78 109.83h1.23v1.96h-1.23zM562.61 89.85h1.23v3.63h-1.23zM562.61 106.5h1.23v45.25h-1.23zM563.43 96.51h1.23v3.63h-1.23zM563.43 106.5h1.23v3.63h-1.23zM563.43 111.49h1.23v40.26h-1.23zM564.26 94.84h1.23v3.63h-1.23zM564.26 101.5h1.23v3.63h-1.23zM564.26 108.16h1.23v43.59h-1.23zM565.09 98.17h1.23v3.63h-1.23zM565.09 104.83h1.23v46.92h-1.23zM565.91 94.84h1.23v1.96h-1.23zM566.74 96.51h1.23v1.96h-1.23zM566.74 103.17h1.23v1.96h-1.23zM566.74 106.5h1.23v45.25h-1.23zM567.57 91.51h1.23v3.63h-1.23zM567.57 96.51h1.23v5.29h-1.23zM567.57 104.83h1.23v46.92h-1.23zM568.39 108.16h1.23v43.59h-1.23zM569.22 89.85h1.23v1.96h-1.23zM569.22 99.84h1.23v1.96h-1.23zM569.22 104.83h1.23v3.63h-1.23zM569.22 111.49h1.23v40.26h-1.23zM570.05 93.18h1.23v1.96h-1.23zM570.05 109.83h1.23v1.96h-1.23zM570.88 91.51h1.23v1.96h-1.23zM570.88 104.83h1.23v46.92h-1.23zM571.7 103.17h1.23v48.58h-1.23zM572.53 106.5h1.23v3.63h-1.23zM572.53 111.49h1.23v40.26h-1.23zM573.36 89.85h1.23v1.96h-1.23zM573.36 104.83h1.23v46.92h-1.23zM574.18 91.51h1.23v1.96h-1.23zM574.18 101.5h1.23v50.25h-1.23zM575.01 89.85h1.23v11.95h-1.23zM575.01 106.5h1.23v1.96h-1.23zM575.01 109.83h1.23v41.92h-1.23zM575.84 94.84h1.23v1.96h-1.23zM575.84 99.84h1.23v1.96h-1.23zM576.66 98.17h1.23v3.63h-1.23zM576.66 103.17h1.23v1.96h-1.23zM576.66 108.16h1.23v43.59h-1.23zM577.49 89.85h1.23v3.63h-1.23zM577.49 94.84h1.23v1.96h-1.23zM577.49 109.83h1.23v41.92h-1.23zM578.32 93.18h1.23v1.96h-1.23zM579.14 98.17h1.23v3.63h-1.23zM579.14 108.16h1.23v43.59h-1.23zM579.97 96.51h1.23v1.96h-1.23zM579.97 99.84h1.23v1.96h-1.23zM579.97 103.17h1.23v3.63h-1.23zM579.97 109.83h1.23v41.92h-1.23zM580.8 94.84h1.23v6.96h-1.23zM580.8 103.17h1.23v1.96h-1.23zM580.8 106.5h1.23v45.25h-1.23zM581.62 94.84h1.23v3.63h-1.23zM581.62 103.17h1.23v48.58h-1.23zM582.45 109.83h1.23v1.96h-1.23zM583.28 93.18h1.23v1.96h-1.23zM583.28 103.17h1.23v1.96h-1.23zM583.28 106.5h1.23v45.25h-1.23zM584.1 89.85h1.23v3.63h-1.23zM584.1 94.84h1.23v3.63h-1.23zM584.1 104.83h1.23v46.92h-1.23zM584.93 91.51h1.23v1.96h-1.23zM584.93 101.5h1.23v3.63h-1.23zM584.93 106.5h1.23v3.63h-1.23zM585.76 94.84h1.23v1.96h-1.23zM585.76 98.17h1.23v1.96h-1.23zM585.76 108.16h1.23v43.59h-1.23zM586.58 93.18h1.23v1.96h-1.23zM587.41 106.5h1.23v45.25h-1.23zM588.24 98.17h1.23v1.96h-1.23zM588.24 109.83h1.23v41.92h-1.23zM589.06 89.85h1.23v1.96h-1.23zM589.06 103.17h1.23v3.63h-1.23zM589.06 111.49h1.23v40.26h-1.23zM589.89 89.85h1.23v1.96h-1.23zM589.89 99.84h1.23v1.96h-1.23zM590.72 89.85h1.23v3.63h-1.23zM590.72 96.51h1.23v1.96h-1.23zM591.54 91.51h1.23v1.96h-1.23zM591.54 98.17h1.23v3.63h-1.23zM591.54 104.83h1.23v46.92h-1.23zM592.37 96.51h1.23v1.96h-1.23zM592.37 101.5h1.23v1.96h-1.23zM593.2 101.5h1.23v50.25h-1.23zM594.02 89.85h1.23v3.63h-1.23zM594.02 96.51h1.23v1.96h-1.23zM594.02 99.84h1.23v3.63h-1.23zM594.02 111.49h1.23v40.26h-1.23zM594.85 98.17h1.23v1.96h-1.23zM594.85 108.16h1.23v43.59h-1.23zM595.68 103.17h1.23v1.96h-1.23zM595.68 108.16h1.23v43.59h-1.23zM596.51 93.18h1.23v1.96h-1.23zM596.51 96.51h1.23v3.63h-1.23zM596.51 109.83h1.23v41.92h-1.23zM597.33 99.84h1.23v1.96h-1.23zM597.33 106.5h1.23v1.96h-1.23zM597.33 109.83h1.23v41.92h-1.23zM598.16 98.17h1.23v1.96h-1.23zM598.99 89.85h1.23v5.29h-1.23zM598.99 103.17h1.23v1.96h-1.23zM598.99 106.5h1.23v45.25h-1.23zM599.81 99.84h1.23v1.96h-1.23zM599.81 104.83h1.23v1.96h-1.23zM599.81 109.83h1.23v1.96h-1.23zM600.64 103.17h1.23v48.58h-1.23zM601.47 89.85h1.23v1.96h-1.23zM601.47 96.51h1.23v3.63h-1.23zM602.29 93.18h1.23v3.63h-1.23zM602.29 104.83h1.23v1.96h-1.23zM602.29 109.83h1.23v41.92h-1.23zM603.12 108.16h1.23v43.59h-1.23zM603.95 99.84h1.23v1.96h-1.23zM603.95 106.5h1.23v45.25h-1.23zM604.77 96.51h1.23v1.96h-1.23z"/><path fill="#31668e" d="M559.3 93.18h1.23v1.96h-1.23zM560.13 99.84h1.23v3.63h-1.23zM560.95 91.51h1.23v1.96h-1.23zM560.95 98.17h1.23v3.63h-1.23zM564.26 89.85h1.23v3.63h-1.23zM565.09 93.18h1.23v3.63h-1.23zM566.74 98.17h1.23v3.63h-1.23zM567.57 89.85h1.23v1.96h-1.23zM570.05 94.84h1.23v5.29h-1.23zM570.88 101.5h1.23v1.96h-1.23zM573.36 96.51h1.23v1.96h-1.23zM575.01 101.5h1.23v3.63h-1.23zM575.84 96.51h1.23v3.63h-1.23zM578.32 91.51h1.23v1.96h-1.23zM579.97 89.85h1.23v1.96h-1.23zM579.97 93.18h1.23v1.96h-1.23zM580.8 93.18h1.23v1.96h-1.23zM581.62 98.17h1.23v1.96h-1.23zM582.45 94.84h1.23v1.96h-1.23zM583.28 94.84h1.23v1.96h-1.23zM586.58 94.84h1.23v1.96h-1.23zM587.41 93.18h1.23v1.96h-1.23zM587.41 96.51h1.23v3.63h-1.23zM587.41 101.5h1.23v3.63h-1.23zM588.24 91.51h1.23v3.63h-1.23zM590.72 94.84h1.23v1.96h-1.23zM594.02 93.18h1.23v1.96h-1.23zM594.85 103.17h1.23v3.63h-1.23zM596.51 101.5h1.23v6.96h-1.23zM597.33 94.84h1.23v3.63h-1.23zM598.99 96.51h1.23v3.63h-1.23zM599.81 93.18h1.23v5.29h-1.23zM603.12 94.84h1.23v8.62h-1.23zM603.95 94.84h1.23v1.96h-1.23zM603.95 103.17h1.23v1.96h-1.23z"/><path fill="#2a788e" d="M559.3 96.51h1.23v5.29h-1.23zM559.3 103.17h1.23v48.58h-1.23zM560.13 89.85h1.23v1.96h-1.23zM560.95 104.83h1.23v1.96h-1.23zM560.95 111.49h1.23v40.26h-1.23zM561.78 91.51h1.23v1.96h-1.23zM561.78 96.51h1.23v5.29h-1.23zM561.78 111.49h1.23v40.26h-1.23zM563.43 94.84h1.23v1.96h-1.23zM563.43 99.84h1.23v6.96h-1.23zM563.43 109.83h1.23v1.96h-1.23zM564.26 99.84h1.23v1.96h-1.23zM564.26 104.83h1.23v3.63h-1.23zM565.09 91.51h1.23v1.96h-1.23zM565.91 98.17h1.23v1.96h-1.23zM565.91 103.17h1.23v48.58h-1.23zM566.74 91.51h1.23v1.96h-1.23zM566.74 104.83h1.23v1.96h-1.23zM567.57 94.84h1.23v1.96h-1.23zM567.57 101.5h1.23v3.63h-1.23zM568.39 89.85h1.23v1.96h-1.23zM568.39 99.84h1.23v8.62h-1.23zM569.22 108.16h1.23v3.63h-1.23zM570.05 89.85h1.23v1.96h-1.23zM570.05 101.5h1.23v5.29h-1.23zM570.05 111.49h1.23v40.26h-1.23zM570.88 93.18h1.23v1.96h-1.23zM571.7 98.17h1.23v1.96h-1.23zM572.53 98.17h1.23v8.62h-1.23zM574.18 89.85h1.23v1.96h-1.23zM574.18 98.17h1.23v3.63h-1.23zM575.01 108.16h1.23v1.96h-1.23zM575.84 89.85h1.23v5.29h-1.23zM575.84 101.5h1.23v50.25h-1.23zM576.66 91.51h1.23v3.63h-1.23zM576.66 101.5h1.23v1.96h-1.23zM577.49 93.18h1.23v1.96h-1.23zM577.49 98.17h1.23v1.96h-1.23zM577.49 106.5h1.23v3.63h-1.23zM578.32 94.84h1.23v1.96h-1.23zM578.32 108.16h1.23v3.63h-1.23zM579.14 101.5h1.23v1.96h-1.23zM579.14 104.83h1.23v3.63h-1.23zM579.97 98.17h1.23v1.96h-1.23zM579.97 101.5h1.23v1.96h-1.23zM581.62 89.85h1.23v1.96h-1.23zM581.62 101.5h1.23v1.96h-1.23zM582.45 111.49h1.23v40.26h-1.23zM583.28 89.85h1.23v3.63h-1.23zM583.28 104.83h1.23v1.96h-1.23zM584.1 93.18h1.23v1.96h-1.23zM584.1 98.17h1.23v6.96h-1.23zM584.93 93.18h1.23v3.63h-1.23zM584.93 104.83h1.23v1.96h-1.23zM584.93 109.83h1.23v41.92h-1.23zM585.76 96.51h1.23v1.96h-1.23zM585.76 99.84h1.23v1.96h-1.23zM585.76 103.17h1.23v5.29h-1.23zM586.58 91.51h1.23v1.96h-1.23zM586.58 103.17h1.23v48.58h-1.23zM588.24 99.84h1.23v6.96h-1.23zM588.24 108.16h1.23v1.96h-1.23zM589.89 91.51h1.23v1.96h-1.23zM589.89 101.5h1.23v1.96h-1.23zM589.89 108.16h1.23v43.59h-1.23zM590.72 98.17h1.23v1.96h-1.23zM590.72 111.49h1.23v40.26h-1.23zM591.54 94.84h1.23v3.63h-1.23zM592.37 103.17h1.23v1.96h-1.23zM592.37 106.5h1.23v45.25h-1.23zM593.2 91.51h1.23v3.63h-1.23zM593.2 99.84h1.23v1.96h-1.23zM594.02 98.17h1.23v1.96h-1.23zM594.02 103.17h1.23v3.63h-1.23zM594.02 108.16h1.23v3.63h-1.23zM595.68 93.18h1.23v3.63h-1.23zM595.68 101.5h1.23v1.96h-1.23zM596.51 91.51h1.23v1.96h-1.23zM596.51 94.84h1.23v1.96h-1.23zM597.33 101.5h1.23v1.96h-1.23zM597.33 104.83h1.23v1.96h-1.23zM598.16 89.85h1.23v1.96h-1.23zM598.16 96.51h1.23v1.96h-1.23zM598.16 99.84h1.23v1.96h-1.23zM598.16 109.83h1.23v41.92h-1.23zM598.99 99.84h1.23v3.63h-1.23zM600.64 93.18h1.23v1.96h-1.23zM600.64 98.17h1.23v3.63h-1.23zM601.47 91.51h1.23v1.96h-1.23zM601.47 99.84h1.23v1.96h-1.23zM601.47 106.5h1.23v45.25h-1.23zM602.29 91.51h1.23v1.96h-1.23zM602.29 96.51h1.23v1.96h-1.23zM602.29 103.17h1.23v1.96h-1.23zM602.29 106.5h1.23v3.63h-1.23zM603.12 93.18h1.23v1.96h-1.23zM603.95 96.51h1.23v3.63h-1.23zM604.77 93.18h1.23v3.63h-1.23zM604.77 99.84h1.23v3.63h-1.23zM604.77 108.16h1.23v43.59h-1.23z"/><path fill="#277e8e" d="M559.3 101.5h1.23v1.96h-1.23zM562.61 93.18h1.23v1.96h-1.23zM562.61 98.17h1.23v3.63h-1.23zM562.61 104.83h1.23v1.96h-1.23zM563.43 91.51h1.23v3.63h-1.23zM565.91 89.85h1.23v5.29h-1.23zM565.91 99.84h1.23v3.63h-1.23zM566.74 93.18h1.23v3.63h-1.23zM568.39 96.51h1.23v3.63h-1.23zM569.22 91.51h1.23v1.96h-1.23zM569.22 98.17h1.23v1.96h-1.23zM570.05 91.51h1.23v1.96h-1.23zM570.88 94.84h1.23v1.96h-1.23zM570.88 98.17h1.23v1.96h-1.23zM571.7 89.85h1.23v1.96h-1.23zM572.53 89.85h1.23v1.96h-1.23zM572.53 93.18h1.23v3.63h-1.23zM573.36 99.84h1.23v1.96h-1.23zM573.36 103.17h1.23v1.96h-1.23zM574.18 93.18h1.23v1.96h-1.23zM577.49 99.84h1.23v1.96h-1.23zM577.49 103.17h1.23v3.63h-1.23zM578.32 96.51h1.23v3.63h-1.23zM578.32 101.5h1.23v6.96h-1.23zM578.32 111.49h1.23v40.26h-1.23zM579.14 94.84h1.23v3.63h-1.23zM579.14 103.17h1.23v1.96h-1.23zM584.93 89.85h1.23v1.96h-1.23zM585.76 101.5h1.23v1.96h-1.23zM586.58 89.85h1.23v1.96h-1.23zM586.58 99.84h1.23v3.63h-1.23zM588.24 106.5h1.23v1.96h-1.23zM589.06 91.51h1.23v1.96h-1.23zM589.06 96.51h1.23v1.96h-1.23zM589.89 96.51h1.23v3.63h-1.23zM589.89 103.17h1.23v5.29h-1.23zM590.72 99.84h1.23v1.96h-1.23zM590.72 106.5h1.23v5.29h-1.23zM591.54 93.18h1.23v1.96h-1.23zM592.37 91.51h1.23v5.29h-1.23zM592.37 104.83h1.23v1.96h-1.23zM593.2 94.84h1.23v5.29h-1.23zM594.02 106.5h1.23v1.96h-1.23zM594.85 89.85h1.23v3.63h-1.23zM595.68 99.84h1.23v1.96h-1.23zM596.51 89.85h1.23v1.96h-1.23zM597.33 91.51h1.23v1.96h-1.23zM597.33 103.17h1.23v1.96h-1.23zM598.16 101.5h1.23v3.63h-1.23zM598.16 106.5h1.23v3.63h-1.23zM600.64 94.84h1.23v3.63h-1.23zM601.47 94.84h1.23v1.96h-1.23zM601.47 101.5h1.23v5.29h-1.23zM602.29 101.5h1.23v1.96h-1.23zM604.77 89.85h1.23v3.63h-1.23zM604.77 98.17h1.23v1.96h-1.23zM604.77 103.17h1.23v5.29h-1.23z"/><path fill="#355f8d" d="M560.13 93.18h1.23v3.63h-1.23zM560.13 98.17h1.23v1.96h-1.23zM560.95 96.51h1.23v1.96h-1.23zM566.74 101.5h1.23v1.96h-1.23zM583.28 98.17h1.23v3.63h-1.23zM585.76 91.51h1.23v1.96h-1.23zM587.41 91.51h1.23v1.96h-1.23zM587.41 99.84h1.23v1.96h-1.23zM595.68 89.85h1.23v1.96h-1.23zM603.95 89.85h1.23v5.29h-1.23z"/><path fill="#3b528b" d="M560.13 96.51h1.23v1.96h-1.23zM573.36 93.18h1.23v1.96h-1.23zM580.8 91.51h1.23v1.96h-1.23z"/><path fill="#25848e" d="M561.78 89.85h1.23v1.96h-1.23zM562.61 94.84h1.23v3.63h-1.23zM562.61 101.5h1.23v3.63h-1.23zM568.39 91.51h1.23v5.29h-1.23zM570.88 89.85h1.23v1.96h-1.23zM570.88 96.51h1.23v1.96h-1.23zM571.7 91.51h1.23v1.96h-1.23zM571.7 94.84h1.23v3.63h-1.23zM572.53 91.51h1.23v1.96h-1.23zM572.53 96.51h1.23v1.96h-1.23zM573.36 101.5h1.23v1.96h-1.23zM574.18 96.51h1.23v1.96h-1.23zM576.66 89.85h1.23v1.96h-1.23zM577.49 101.5h1.23v1.96h-1.23zM578.32 99.84h1.23v1.96h-1.23zM579.14 89.85h1.23v5.29h-1.23zM589.89 93.18h1.23v3.63h-1.23zM590.72 101.5h1.23v1.96h-1.23zM590.72 104.83h1.23v1.96h-1.23zM593.2 89.85h1.23v1.96h-1.23zM595.68 96.51h1.23v3.63h-1.23zM597.33 89.85h1.23v1.96h-1.23zM598.16 93.18h1.23v3.63h-1.23zM598.16 104.83h1.23v1.96h-1.23zM601.47 93.18h1.23v1.96h-1.23zM602.29 98.17h1.23v3.63h-1.23zM603.12 89.85h1.23v3.63h-1.23z"/><path fill="#21918c" d="M565.09 89.85h1.23v1.96h-1.23zM569.22 94.84h1.23v1.96h-1.23zM589.06 94.84h1.23v1.96h-1.23zM592.37 89.85h1.23v1.96h-1.23z"/><path fill="#238a8d" d="M569.22 93.18h1.23v1.96h-1.23zM569.22 96.51h1.23v1.96h-1.23zM571.7 93.18h1.23v1.96h-1.23zM574.18 94.84h1.23v1.96h-1.23zM581.62 91.51h1.23v3.63h-1.23zM589.06 93.18h1.23v1.96h-1.23zM590.72 103.17h1.23v1.96h-1.23zM598.16 91.51h1.23v1.96h-1.23zM600.64 91.51h1.23v1.96h-1.23zM602.29 89.85h1.23v1.96h-1.23z"/><path fill="#38598c" d="M573.36 91.51h1.23v1.96h-1.23zM573.36 94.84h1.23v1.96h-1.23zM578.32 89.85h1.23v1.96h-1.23zM579.97 91.51h1.23v1.96h-1.23zM580.8 89.85h1.23v1.96h-1.23zM583.28 96.51h1.23v1.96h-1.23z"/><path fill="#22a884" d="M582.45 89.85h1.23v5.29h-1.23z"/><path fill="#2fb47c" d="M582.45 96.51h1.23v10.29h-1.23z"/><path fill="#482475" d="M582.45 106.5h1.23v3.63h-1.23z"/><path fill="#1f968b" d="M600.64 89.85h1.23v1.96h-1.23z"/></g></g>
<rect x="582.31" y="109.98" width="1.5" height="41.62" fill="#dfe030"/>
<rect x="559.5" y="90" width="46.3" height="61.6" fill="none" stroke="#223" stroke-width=".4"/>
<text x="582.65" y="86.3" font-size="9.1" text-anchor="middle">28</text>
<text x="559.91" y="158.6" font-size="5.8" text-anchor="middle">0</text>
<text x="568.18" y="158.6" font-size="5.8" text-anchor="middle">10</text>
<text x="576.45" y="158.6" font-size="5.8" text-anchor="middle">20</text>
<text x="584.72" y="158.6" font-size="5.8" text-anchor="middle">30</text>
<text x="592.98" y="158.6" font-size="5.8" text-anchor="middle">40</text>
<text x="601.25" y="158.6" font-size="5.8" text-anchor="middle">50</text>
<path d="M559.91 151.6v-1.5M568.18 151.6v-1.5M576.45 151.6v-1.5M584.72 151.6v-1.5M592.98 151.6v-1.5M601.25 151.6v-1.5" stroke="#111" stroke-width=".5" fill="none"/>
<text x="387.5" y="92.93" font-size="5.8" text-anchor="end">0</text>
<text x="387.5" y="101.26" font-size="5.8" text-anchor="end">5</text>
<text x="387.5" y="109.58" font-size="5.8" text-anchor="end">10</text>
<text x="387.5" y="117.91" font-size="5.8" text-anchor="end">15</text>
<text x="387.5" y="126.23" font-size="5.8" text-anchor="end">20</text>
<text x="387.5" y="134.55" font-size="5.8" text-anchor="end">25</text>
<text x="387.5" y="142.88" font-size="5.8" text-anchor="end">30</text>
<text x="387.5" y="151.2" font-size="5.8" text-anchor="end">35</text>
<path d="M389.3 90.83h1.5M389.3 99.16h1.5M389.3 107.48h1.5M389.3 115.81h1.5M389.3 124.13h1.5M389.3 132.45h1.5M389.3 140.78h1.5M389.3 149.1h1.5" stroke="#111" stroke-width=".5" fill="none"/>
<text transform="translate(375 120.8) rotate(-90)" font-size="7.5" text-anchor="middle">Iterations</text>
<rect x="389.3" y="184.3" width="46.1" height="61.6" fill="#1e9c89"/><rect x="389.1" y="184.3" width="6.99" height="61.6" fill="#287d8e"/><rect x="395.69" y="184.3" width="6.99" height="61.6" fill="#b0dd2f"/><rect x="402.27" y="184.3" width="6.99" height="61.6" fill="#f1e51d"/><rect x="408.86" y="184.3" width="6.99" height="61.6" fill="#a8db34"/><rect x="415.44" y="184.3" width="6.99" height="61.6" fill="#31678e"/><rect x="422.03" y="184.3" width="6.99" height="61.6" fill="#6ece58"/><rect x="428.61" y="184.3" width="6.99" height="61.6" fill="#2a788e"/><path fill="#21918c" d="M389.1 184.15h6.99v3.63h-6.99zM389.1 195.8h6.99v5.29h-6.99zM389.1 204.13h6.99v1.96h-6.99zM389.1 209.12h6.99v1.96h-6.99zM395.69 185.81h6.99v1.96h-6.99zM402.27 190.81h6.99v1.96h-6.99zM402.27 199.13h6.99v1.96h-6.99zM408.86 210.79h6.99v1.96h-6.99zM415.44 189.14h6.99v1.96h-6.99zM415.44 207.46h6.99v1.96h-6.99zM422.03 192.47h6.99v1.96h-6.99zM422.03 210.79h6.99v1.96h-6.99zM428.61 189.14h6.99v1.96h-6.99z"/><path fill="#2a788e" d="M389.1 187.48h6.99v1.96h-6.99zM395.69 187.48h6.99v1.96h-6.99zM415.44 190.81h6.99v1.96h-6.99zM422.03 185.81h6.99v1.96h-6.99zM428.61 212.45h6.99v33.6h-6.99z"/><path fill="#355f8d" d="M389.1 189.14h6.99v1.96h-6.99zM395.69 192.47h6.99v1.96h-6.99zM395.69 205.79h6.99v3.63h-6.99zM402.27 192.47h6.99v1.96h-6.99zM408.86 184.15h6.99v1.96h-6.99zM408.86 207.46h6.99v1.96h-6.99zM422.03 187.48h6.99v1.96h-6.99zM422.03 205.79h6.99v1.96h-6.99zM428.61 199.13h6.99v5.29h-6.99z"/><path fill="#482475" d="M389.1 190.81h6.99v1.96h-6.99z"/><path fill="#9bd93c" d="M389.1 192.47h6.99v1.96h-6.99zM395.69 209.12h6.99v1.96h-6.99zM402.27 195.8h6.99v3.63h-6.99zM402.27 204.13h6.99v1.96h-6.99zM408.86 209.12h6.99v1.96h-6.99zM415.44 192.47h6.99v1.96h-6.99z"/><path fill="#2fb47c" d="M389.1 194.14h6.99v1.96h-6.99zM395.69 197.47h6.99v1.96h-6.99zM415.44 185.81h6.99v1.96h-6.99zM428.61 187.48h6.99v1.96h-6.99z"/><path fill="#1e9c89" d="M389.1 200.8h6.99v3.63h-6.99zM395.69 184.15h6.99v1.96h-6.99zM395.69 199.13h6.99v1.96h-6.99zM415.44 187.48h6.99v1.96h-6.99zM415.44 205.79h6.99v1.96h-6.99zM428.61 190.81h6.99v3.63h-6.99z"/><path fill="#277e8e" d="M389.1 205.79h6.99v1.96h-6.99zM389.1 212.45h6.99v33.6h-6.99z"/><path fill="#25848e" d="M389.1 207.46h6.99v1.96h-6.99zM389.1 210.79h6.99v1.96h-6.99zM395.69 189.14h6.99v1.96h-6.99zM395.69 194.14h6.99v1.96h-6.99zM395.69 210.79h6.99v1.96h-6.99zM402.27 189.14h6.99v1.96h-6.99zM408.86 199.13h6.99v1.96h-6.99zM415.44 194.14h6.99v1.96h-6.99zM415.44 204.13h6.99v1.96h-6.99zM415.44 210.79h6.99v1.96h-6.99zM422.03 184.15h6.99v1.96h-6.99zM422.03 190.81h6.99v1.96h-6.99zM428.61 194.14h6.99v1.96h-6.99zM428.61 209.12h6.99v1.96h-6.99z"/><path fill="#22a884" d="M395.69 190.81h6.99v1.96h-6.99zM395.69 204.13h6.99v1.96h-6.99zM428.61 204.13h6.99v5.29h-6.99z"/><path fill="#44bf70" d="M395.69 195.8h6.99v1.96h-6.99zM402.27 194.14h6.99v1.96h-6.99zM402.27 210.79h6.99v1.96h-6.99zM415.44 184.15h6.99v1.96h-6.99zM422.03 194.14h6.99v1.96h-6.99zM422.03 199.13h6.99v1.96h-6.99zM422.03 204.13h6.99v1.96h-6.99z"/><path fill="#28ae80" d="M395.69 200.8h6.99v3.63h-6.99z"/><path fill="#addc30" d="M395.69 212.45h6.99v33.6h-6.99zM402.27 200.8h6.99v3.63h-6.99zM408.86 212.45h6.99v33.6h-6.99zM428.61 185.81h6.99v1.96h-6.99z"/><path fill="#2f6c8e" d="M402.27 184.15h6.99v1.96h-6.99zM415.44 195.8h6.99v5.29h-6.99zM415.44 209.12h6.99v1.96h-6.99zM422.03 207.46h6.99v1.96h-6.99zM428.61 195.8h6.99v1.96h-6.99z"/><path fill="#31668e" d="M402.27 185.81h6.99v3.63h-6.99zM415.44 200.8h6.99v3.63h-6.99zM415.44 212.45h6.99v33.6h-6.99zM428.61 197.47h6.99v1.96h-6.99z"/><path fill="#443b84" d="M402.27 205.79h6.99v1.96h-6.99zM408.86 189.14h6.99v1.96h-6.99z"/><path fill="#414487" d="M402.27 207.46h6.99v1.96h-6.99zM408.86 190.81h6.99v1.96h-6.99zM408.86 205.79h6.99v1.96h-6.99z"/><path fill="#efe51c" d="M402.27 209.12h6.99v1.96h-6.99zM402.27 212.45h6.99v33.6h-6.99z"/><path fill="#460a5d" d="M408.86 185.81h6.99v1.96h-6.99z"/><path fill="#472d7b" d="M408.86 187.48h6.99v1.96h-6.99z"/><path fill="#7ad151" d="M408.86 192.47h6.99v1.96h-6.99z"/><path fill="#dfe318" d="M408.86 194.14h6.99v3.63h-6.99zM408.86 204.13h6.99v1.96h-6.99z"/><path fill="#bddf26" d="M408.86 197.47h6.99v1.96h-6.99zM428.61 184.15h6.99v1.96h-6.99z"/><path fill="#fde725" d="M408.86 200.8h6.99v3.63h-6.99z"/><path fill="#38598c" d="M422.03 189.14h6.99v1.96h-6.99z"/><path fill="#50c46a" d="M422.03 195.8h6.99v3.63h-6.99z"/><path fill="#5ec962" d="M422.03 200.8h6.99v3.63h-6.99zM422.03 209.12h6.99v1.96h-6.99z"/><path fill="#6ccd5a" d="M422.03 212.45h6.99v33.6h-6.99z"/><path fill="#238a8d" d="M428.61 210.79h6.99v1.96h-6.99z"/>
<rect x="389.3" y="184.3" width="46.1" height="61.6" fill="none" stroke="#223" stroke-width=".4"/>
<text x="412.65" y="180.6" font-size="9.1" text-anchor="middle">Green</text>
<text x="392.59" y="252.9" font-size="5.8" text-anchor="middle">Blue</text>
<text x="412.35" y="252.9" font-size="5.8" text-anchor="middle">Cyan</text>
<text x="432.11" y="252.9" font-size="5.8" text-anchor="middle">Red</text>
<path d="M392.59 245.9v-1.5M412.35 245.9v-1.5M432.11 245.9v-1.5" stroke="#111" stroke-width=".5" fill="none"/>
<clipPath id="hc4"><rect x="445.9" y="184.3" width="46.1" height="61.6"/></clipPath><g clip-path="url(#hc4)"><g filter="url(#hb)"><rect x="442.9" y="181.3" width="52.1" height="67.6" fill="#2a788e"/><rect x="445.9" y="184.3" width="46.1" height="61.6" fill="#2a788e"/><path fill="#2a788e" d="M445.7 184.15h2.17v1.96h-2.17zM445.7 192.47h2.17v1.96h-2.17zM445.7 210.79h2.17v35.26h-2.17zM447.47 190.81h2.17v1.96h-2.17zM447.47 195.8h2.17v1.96h-2.17zM447.47 210.79h2.17v35.26h-2.17zM449.25 184.15h2.17v1.96h-2.17zM449.25 209.12h2.17v36.93h-2.17zM452.79 185.81h2.17v1.96h-2.17zM454.57 192.47h2.17v1.96h-2.17zM454.57 202.46h2.17v43.59h-2.17zM456.34 185.81h2.17v1.96h-2.17zM456.34 192.47h2.17v1.96h-2.17zM456.34 195.8h2.17v1.96h-2.17zM456.34 204.13h2.17v41.92h-2.17zM458.11 189.14h2.17v1.96h-2.17zM458.11 204.13h2.17v41.92h-2.17zM459.88 195.8h2.17v1.96h-2.17zM459.88 212.45h2.17v33.6h-2.17zM461.66 195.8h2.17v3.63h-2.17zM461.66 204.13h2.17v41.92h-2.17zM463.43 185.81h2.17v1.96h-2.17zM463.43 194.14h2.17v3.63h-2.17zM463.43 199.13h2.17v1.96h-2.17zM466.98 199.13h2.17v46.92h-2.17zM468.75 200.8h2.17v1.96h-2.17zM470.52 204.13h2.17v41.92h-2.17zM472.3 184.15h2.17v1.96h-2.17zM472.3 187.48h2.17v1.96h-2.17zM472.3 197.47h2.17v3.63h-2.17zM474.07 197.47h2.17v5.29h-2.17zM474.07 204.13h2.17v41.92h-2.17zM477.62 189.14h2.17v1.96h-2.17zM477.62 192.47h2.17v1.96h-2.17zM477.62 200.8h2.17v45.25h-2.17zM479.39 190.81h2.17v1.96h-2.17zM479.39 194.14h2.17v1.96h-2.17zM479.39 204.13h2.17v41.92h-2.17zM482.93 195.8h2.17v1.96h-2.17zM482.93 199.13h2.17v1.96h-2.17zM482.93 202.46h2.17v1.96h-2.17zM484.71 184.15h2.17v1.96h-2.17zM486.48 194.14h2.17v1.96h-2.17zM486.48 207.46h2.17v38.59h-2.17zM488.25 200.8h2.17v3.63h-2.17zM490.03 189.14h2.17v1.96h-2.17zM490.03 202.46h2.17v43.59h-2.17z"/><path fill="#277e8e" d="M445.7 185.81h2.17v1.96h-2.17zM445.7 190.81h2.17v1.96h-2.17zM447.47 185.81h2.17v3.63h-2.17zM447.47 192.47h2.17v3.63h-2.17zM449.25 190.81h2.17v3.63h-2.17zM451.02 209.12h2.17v36.93h-2.17zM456.34 197.47h2.17v1.96h-2.17zM456.34 202.46h2.17v1.96h-2.17zM458.11 190.81h2.17v1.96h-2.17zM459.88 185.81h2.17v1.96h-2.17zM459.88 189.14h2.17v1.96h-2.17zM459.88 197.47h2.17v15.28h-2.17zM461.66 194.14h2.17v1.96h-2.17zM463.43 192.47h2.17v1.96h-2.17zM463.43 200.8h2.17v45.25h-2.17zM465.2 184.15h2.17v1.96h-2.17zM465.2 187.48h2.17v5.29h-2.17zM465.2 194.14h2.17v1.96h-2.17zM465.2 199.13h2.17v3.63h-2.17zM465.2 237.43h2.17v8.62h-2.17zM466.98 187.48h2.17v1.96h-2.17zM468.75 190.81h2.17v1.96h-2.17zM470.52 194.14h2.17v3.63h-2.17zM470.52 202.46h2.17v1.96h-2.17zM472.3 200.8h2.17v1.96h-2.17zM474.07 195.8h2.17v1.96h-2.17zM474.07 202.46h2.17v1.96h-2.17zM475.84 190.81h2.17v5.29h-2.17zM475.84 200.8h2.17v45.25h-2.17zM477.62 185.81h2.17v1.96h-2.17zM477.62 190.81h2.17v1.96h-2.17zM477.62 194.14h2.17v1.96h-2.17zM477.62 197.47h2.17v3.63h-2.17zM479.39 187.48h2.17v3.63h-2.17zM479.39 195.8h2.17v1.96h-2.17zM481.16 197.47h2.17v1.96h-2.17zM481.16 200.8h2.17v45.25h-2.17zM482.93 200.8h2.17v1.96h-2.17zM484.71 190.81h2.17v1.96h-2.17zM484.71 195.8h2.17v5.29h-2.17zM484.71 204.13h2.17v41.92h-2.17zM486.48 195.8h2.17v1.96h-2.17zM488.25 194.14h2.17v6.96h-2.17zM490.03 195.8h2.17v3.63h-2.17z"/><path fill="#25848e" d="M445.7 187.48h2.17v3.63h-2.17zM451.02 187.48h2.17v1.96h-2.17zM454.57 189.14h2.17v3.63h-2.17zM456.34 199.13h2.17v3.63h-2.17zM459.88 184.15h2.17v1.96h-2.17zM459.88 187.48h2.17v1.96h-2.17zM459.88 190.81h2.17v5.29h-2.17zM461.66 185.81h2.17v1.96h-2.17zM461.66 189.14h2.17v1.96h-2.17zM461.66 199.13h2.17v5.29h-2.17zM463.43 184.15h2.17v1.96h-2.17zM465.2 185.81h2.17v1.96h-2.17zM465.2 192.47h2.17v1.96h-2.17zM465.2 195.8h2.17v3.63h-2.17zM465.2 202.46h2.17v35.26h-2.17zM466.98 189.14h2.17v1.96h-2.17zM468.75 184.15h2.17v1.96h-2.17zM468.75 195.8h2.17v1.96h-2.17zM470.52 184.15h2.17v1.96h-2.17zM470.52 197.47h2.17v5.29h-2.17zM474.07 192.47h2.17v3.63h-2.17zM475.84 195.8h2.17v1.96h-2.17zM475.84 199.13h2.17v1.96h-2.17zM477.62 187.48h2.17v1.96h-2.17zM477.62 195.8h2.17v1.96h-2.17zM479.39 184.15h2.17v1.96h-2.17zM481.16 192.47h2.17v5.29h-2.17zM481.16 199.13h2.17v1.96h-2.17zM482.93 190.81h2.17v5.29h-2.17zM484.71 189.14h2.17v1.96h-2.17zM484.71 192.47h2.17v3.63h-2.17zM484.71 200.8h2.17v3.63h-2.17zM486.48 185.81h2.17v1.96h-2.17zM486.48 192.47h2.17v1.96h-2.17zM488.25 187.48h2.17v1.96h-2.17zM490.03 190.81h2.17v5.29h-2.17z"/><path fill="#2f6c8e" d="M445.7 194.14h2.17v1.96h-2.17zM447.47 184.15h2.17v1.96h-2.17zM452.79 195.8h2.17v1.96h-2.17zM454.57 194.14h2.17v3.63h-2.17zM456.34 187.48h2.17v3.63h-2.17zM458.11 187.48h2.17v1.96h-2.17zM458.11 199.13h2.17v1.96h-2.17zM466.98 194.14h2.17v1.96h-2.17zM468.75 189.14h2.17v1.96h-2.17zM472.3 189.14h2.17v1.96h-2.17zM482.93 184.15h2.17v5.29h-2.17zM486.48 187.48h2.17v1.96h-2.17z"/><path fill="#2c728e" d="M445.7 195.8h2.17v1.96h-2.17zM452.79 184.15h2.17v1.96h-2.17zM452.79 187.48h2.17v1.96h-2.17zM452.79 197.47h2.17v1.96h-2.17zM452.79 209.12h2.17v36.93h-2.17zM454.57 197.47h2.17v5.29h-2.17zM456.34 190.81h2.17v1.96h-2.17zM456.34 194.14h2.17v1.96h-2.17zM458.11 192.47h2.17v3.63h-2.17zM458.11 200.8h2.17v3.63h-2.17zM463.43 187.48h2.17v5.29h-2.17zM463.43 197.47h2.17v1.96h-2.17zM466.98 195.8h2.17v3.63h-2.17zM468.75 185.81h2.17v1.96h-2.17zM468.75 197.47h2.17v3.63h-2.17zM468.75 202.46h2.17v43.59h-2.17zM472.3 185.81h2.17v1.96h-2.17zM472.3 190.81h2.17v1.96h-2.17zM472.3 194.14h2.17v3.63h-2.17zM474.07 185.81h2.17v3.63h-2.17zM479.39 192.47h2.17v1.96h-2.17zM479.39 197.47h2.17v6.96h-2.17zM482.93 197.47h2.17v1.96h-2.17zM482.93 204.13h2.17v41.92h-2.17zM486.48 190.81h2.17v1.96h-2.17zM488.25 204.13h2.17v41.92h-2.17zM490.03 184.15h2.17v5.29h-2.17zM490.03 199.13h2.17v3.63h-2.17z"/><path fill="#3e4a89" d="M445.7 197.47h2.17v13.62h-2.17zM447.47 197.47h2.17v13.62h-2.17z"/><path fill="#21918c" d="M447.47 189.14h2.17v1.96h-2.17zM449.25 189.14h2.17v1.96h-2.17zM451.02 184.15h2.17v1.96h-2.17zM451.02 194.14h2.17v3.63h-2.17zM454.57 185.81h2.17v3.63h-2.17zM466.98 192.47h2.17v1.96h-2.17zM468.75 194.14h2.17v1.96h-2.17zM475.84 187.48h2.17v1.96h-2.17zM481.16 184.15h2.17v3.63h-2.17zM481.16 189.14h2.17v1.96h-2.17zM484.71 187.48h2.17v1.96h-2.17zM486.48 184.15h2.17v1.96h-2.17zM488.25 190.81h2.17v1.96h-2.17z"/><path fill="#238a8d" d="M449.25 185.81h2.17v3.63h-2.17zM451.02 189.14h2.17v5.29h-2.17zM451.02 197.47h2.17v1.96h-2.17zM461.66 187.48h2.17v1.96h-2.17zM461.66 190.81h2.17v3.63h-2.17zM466.98 190.81h2.17v1.96h-2.17zM470.52 192.47h2.17v1.96h-2.17zM474.07 189.14h2.17v1.96h-2.17zM475.84 189.14h2.17v1.96h-2.17zM475.84 197.47h2.17v1.96h-2.17zM477.62 184.15h2.17v1.96h-2.17zM479.39 185.81h2.17v1.96h-2.17zM481.16 190.81h2.17v1.96h-2.17zM482.93 189.14h2.17v1.96h-2.17zM484.71 185.81h2.17v1.96h-2.17zM488.25 192.47h2.17v1.96h-2.17z"/><path fill="#31668e" d="M449.25 194.14h2.17v1.96h-2.17zM449.25 197.47h2.17v1.96h-2.17zM458.11 195.8h2.17v3.63h-2.17zM466.98 184.15h2.17v1.96h-2.17zM468.75 187.48h2.17v1.96h-2.17zM472.3 192.47h2.17v1.96h-2.17zM486.48 189.14h2.17v1.96h-2.17zM488.25 184.15h2.17v1.96h-2.17z"/><path fill="#38598c" d="M449.25 195.8h2.17v1.96h-2.17zM458.11 184.15h2.17v3.63h-2.17zM474.07 184.15h2.17v1.96h-2.17z"/><path fill="#355f8d" d="M449.25 199.13h2.17v10.29h-2.17zM451.02 199.13h2.17v10.29h-2.17zM452.79 189.14h2.17v6.96h-2.17zM452.79 199.13h2.17v10.29h-2.17zM456.34 184.15h2.17v1.96h-2.17zM466.98 185.81h2.17v1.96h-2.17zM488.25 185.81h2.17v1.96h-2.17z"/><path fill="#1f968b" d="M451.02 185.81h2.17v1.96h-2.17zM461.66 184.15h2.17v1.96h-2.17zM468.75 192.47h2.17v1.96h-2.17zM474.07 190.81h2.17v1.96h-2.17zM481.16 187.48h2.17v1.96h-2.17zM488.25 189.14h2.17v1.96h-2.17z"/><path fill="#22a884" d="M454.57 184.15h2.17v1.96h-2.17zM470.52 190.81h2.17v1.96h-2.17z"/><path fill="#1e9c89" d="M470.52 185.81h2.17v1.96h-2.17zM475.84 185.81h2.17v1.96h-2.17z"/><path fill="#38b977" d="M470.52 187.48h2.17v1.96h-2.17z"/><path fill="#44bf70" d="M470.52 189.14h2.17v1.96h-2.17zM486.48 197.47h2.17v10.29h-2.17z"/><path fill="#471365" d="M472.3 202.46h2.17v8.62h-2.17z"/><path fill="#bddf26" d="M472.3 210.79h2.17v1.96h-2.17z"/><path fill="#fde725" d="M472.3 212.45h2.17v33.6h-2.17z"/><path fill="#28ae80" d="M475.84 184.15h2.17v1.96h-2.17z"/></g></g>
<rect x="445.9" y="184.3" width="46.1" height="61.6" fill="none" stroke="#223" stroke-width=".4"/>
<text x="468.95" y="180.6" font-size="9.1" text-anchor="middle">p</text>
<text x="446.79" y="252.9" font-size="5.8" text-anchor="middle">a</text>
<text x="452.11" y="252.9" font-size="5.8" text-anchor="middle">d</text>
<text x="457.42" y="252.9" font-size="5.8" text-anchor="middle">g</text>
<text x="462.74" y="252.9" font-size="5.8" text-anchor="middle">j</text>
<text x="468.06" y="252.9" font-size="5.8" text-anchor="middle">m</text>
<text x="473.38" y="252.9" font-size="5.8" text-anchor="middle">p</text>
<text x="478.7" y="252.9" font-size="5.8" text-anchor="middle">s</text>
<text x="484.02" y="252.9" font-size="5.8" text-anchor="middle">v</text>
<text x="489.34" y="252.9" font-size="5.8" text-anchor="middle">y</text>
<path d="M446.79 245.9v-1.5M452.11 245.9v-1.5M457.42 245.9v-1.5M462.74 245.9v-1.5M468.06 245.9v-1.5M473.38 245.9v-1.5M478.7 245.9v-1.5M484.02 245.9v-1.5M489.34 245.9v-1.5" stroke="#111" stroke-width=".5" fill="none"/>
<clipPath id="hc5"><rect x="502.5" y="184.3" width="46.6" height="61.6"/></clipPath><g clip-path="url(#hc5)"><g filter="url(#hb)"><rect x="499.5" y="181.3" width="52.6" height="67.6" fill="#2e6f8e"/><rect x="502.5" y="184.3" width="46.6" height="61.6" fill="#2e6f8e"/><path fill="#2c728e" d="M502.3 184.15h1.23v3.63h-1.23zM502.3 189.14h1.23v1.96h-1.23zM502.3 194.14h1.23v1.96h-1.23zM502.3 199.13h1.23v3.63h-1.23zM503.13 192.47h1.23v1.96h-1.23zM503.13 199.13h1.23v6.96h-1.23zM503.96 187.48h1.23v1.96h-1.23zM503.96 192.47h1.23v1.96h-1.23zM503.96 197.47h1.23v3.63h-1.23zM503.96 202.46h1.23v43.59h-1.23zM504.8 189.14h1.23v3.63h-1.23zM504.8 194.14h1.23v3.63h-1.23zM504.8 199.13h1.23v1.96h-1.23zM506.46 190.81h1.23v1.96h-1.23zM506.46 199.13h1.23v1.96h-1.23zM506.46 205.79h1.23v40.26h-1.23zM507.29 190.81h1.23v5.29h-1.23zM508.12 199.13h1.23v1.96h-1.23zM508.96 185.81h1.23v1.96h-1.23zM508.96 195.8h1.23v8.62h-1.23zM509.79 192.47h1.23v1.96h-1.23zM509.79 199.13h1.23v3.63h-1.23zM509.79 204.13h1.23v3.63h-1.23zM510.62 185.81h1.23v1.96h-1.23zM511.45 189.14h1.23v5.29h-1.23zM511.45 197.47h1.23v3.63h-1.23zM511.45 202.46h1.23v1.96h-1.23zM511.45 207.46h1.23v38.59h-1.23zM512.29 202.46h1.23v5.29h-1.23zM513.12 184.15h1.23v1.96h-1.23zM513.12 187.48h1.23v1.96h-1.23zM513.12 190.81h1.23v3.63h-1.23zM513.12 207.46h1.23v38.59h-1.23zM513.95 194.14h1.23v1.96h-1.23zM513.95 197.47h1.23v1.96h-1.23zM515.61 197.47h1.23v3.63h-1.23zM515.61 205.79h1.23v40.26h-1.23zM516.45 184.15h1.23v1.96h-1.23zM516.45 187.48h1.23v8.62h-1.23zM516.45 199.13h1.23v46.92h-1.23zM517.28 185.81h1.23v3.63h-1.23zM517.28 199.13h1.23v3.63h-1.23zM518.11 199.13h1.23v46.92h-1.23zM518.94 195.8h1.23v1.96h-1.23zM519.77 187.48h1.23v1.96h-1.23zM519.77 199.13h1.23v5.29h-1.23zM520.61 184.15h1.23v3.63h-1.23zM520.61 197.47h1.23v1.96h-1.23zM520.61 204.13h1.23v3.63h-1.23zM521.44 189.14h1.23v1.96h-1.23zM521.44 195.8h1.23v3.63h-1.23zM521.44 205.79h1.23v40.26h-1.23zM522.27 187.48h1.23v3.63h-1.23zM522.27 209.12h1.23v36.93h-1.23zM523.1 190.81h1.23v1.96h-1.23zM523.1 197.47h1.23v3.63h-1.23zM523.1 202.46h1.23v3.63h-1.23zM523.94 185.81h1.23v1.96h-1.23zM523.94 192.47h1.23v1.96h-1.23zM523.94 197.47h1.23v5.29h-1.23zM523.94 205.79h1.23v1.96h-1.23zM524.77 192.47h1.23v1.96h-1.23zM524.77 195.8h1.23v5.29h-1.23zM524.77 204.13h1.23v3.63h-1.23zM525.6 187.48h1.23v5.29h-1.23zM525.6 200.8h1.23v3.63h-1.23zM525.6 205.79h1.23v40.26h-1.23zM526.43 204.13h1.23v3.63h-1.23zM527.26 190.81h1.23v5.29h-1.23zM527.26 204.13h1.23v41.92h-1.23zM528.1 184.15h1.23v1.96h-1.23zM528.1 199.13h1.23v8.62h-1.23zM528.93 189.14h1.23v5.29h-1.23zM528.93 200.8h1.23v1.96h-1.23zM528.93 207.46h1.23v38.59h-1.23zM529.76 184.15h1.23v1.96h-1.23zM530.59 184.15h1.23v1.96h-1.23zM530.59 190.81h1.23v1.96h-1.23zM530.59 194.14h1.23v3.63h-1.23zM531.42 190.81h1.23v1.96h-1.23zM531.42 200.8h1.23v6.96h-1.23zM532.26 184.15h1.23v1.96h-1.23zM532.26 195.8h1.23v6.96h-1.23zM532.26 204.13h1.23v41.92h-1.23zM533.09 187.48h1.23v6.96h-1.23zM533.09 195.8h1.23v3.63h-1.23zM533.09 200.8h1.23v45.25h-1.23zM534.75 185.81h1.23v1.96h-1.23zM534.75 197.47h1.23v1.96h-1.23zM534.75 200.8h1.23v45.25h-1.23zM535.59 192.47h1.23v1.96h-1.23zM535.59 195.8h1.23v3.63h-1.23zM535.59 202.46h1.23v1.96h-1.23zM536.42 200.8h1.23v6.96h-1.23zM537.25 185.81h1.23v3.63h-1.23zM537.25 190.81h1.23v3.63h-1.23zM537.25 197.47h1.23v5.29h-1.23zM537.25 204.13h1.23v41.92h-1.23zM538.08 207.46h1.23v38.59h-1.23zM538.91 204.13h1.23v41.92h-1.23zM539.75 197.47h1.23v1.96h-1.23zM539.75 205.79h1.23v40.26h-1.23zM540.58 185.81h1.23v1.96h-1.23zM540.58 194.14h1.23v1.96h-1.23zM540.58 197.47h1.23v1.96h-1.23zM540.58 202.46h1.23v43.59h-1.23zM541.41 185.81h1.23v1.96h-1.23zM541.41 190.81h1.23v1.96h-1.23zM542.24 194.14h1.23v8.62h-1.23zM543.07 195.8h1.23v1.96h-1.23zM543.07 202.46h1.23v43.59h-1.23zM543.91 194.14h1.23v6.96h-1.23zM543.91 202.46h1.23v5.29h-1.23zM544.74 202.46h1.23v43.59h-1.23zM545.57 185.81h1.23v3.63h-1.23zM545.57 192.47h1.23v1.96h-1.23zM545.57 195.8h1.23v1.96h-1.23zM545.57 199.13h1.23v6.96h-1.23zM546.4 185.81h1.23v1.96h-1.23zM546.4 204.13h1.23v41.92h-1.23zM547.24 184.15h1.23v3.63h-1.23zM547.24 199.13h1.23v3.63h-1.23zM547.24 207.46h1.23v38.59h-1.23zM548.07 200.8h1.23v5.29h-1.23zM548.07 207.46h1.23v38.59h-1.23z"/><path fill="#2f6c8e" d="M502.3 187.48h1.23v1.96h-1.23zM502.3 195.8h1.23v3.63h-1.23zM502.3 202.46h1.23v43.59h-1.23zM503.13 194.14h1.23v3.63h-1.23zM503.13 205.79h1.23v40.26h-1.23zM503.96 184.15h1.23v1.96h-1.23zM503.96 189.14h1.23v3.63h-1.23zM504.8 187.48h1.23v1.96h-1.23zM504.8 192.47h1.23v1.96h-1.23zM504.8 200.8h1.23v45.25h-1.23zM505.63 197.47h1.23v3.63h-1.23zM505.63 202.46h1.23v43.59h-1.23zM506.46 194.14h1.23v5.29h-1.23zM507.29 187.48h1.23v3.63h-1.23zM507.29 195.8h1.23v50.25h-1.23zM508.12 185.81h1.23v1.96h-1.23zM508.12 190.81h1.23v3.63h-1.23zM508.12 200.8h1.23v1.96h-1.23zM508.12 204.13h1.23v41.92h-1.23zM508.96 192.47h1.23v3.63h-1.23zM508.96 204.13h1.23v41.92h-1.23zM509.79 184.15h1.23v5.29h-1.23zM509.79 194.14h1.23v1.96h-1.23zM509.79 197.47h1.23v1.96h-1.23zM509.79 207.46h1.23v38.59h-1.23zM510.62 187.48h1.23v1.96h-1.23zM510.62 194.14h1.23v1.96h-1.23zM510.62 197.47h1.23v1.96h-1.23zM510.62 202.46h1.23v43.59h-1.23zM511.45 187.48h1.23v1.96h-1.23zM511.45 194.14h1.23v3.63h-1.23zM511.45 204.13h1.23v3.63h-1.23zM512.29 190.81h1.23v1.96h-1.23zM512.29 207.46h1.23v38.59h-1.23zM513.12 185.81h1.23v1.96h-1.23zM513.12 199.13h1.23v8.62h-1.23zM513.95 190.81h1.23v3.63h-1.23zM513.95 199.13h1.23v46.92h-1.23zM514.78 190.81h1.23v1.96h-1.23zM514.78 204.13h1.23v41.92h-1.23zM515.61 184.15h1.23v1.96h-1.23zM515.61 200.8h1.23v5.29h-1.23zM517.28 189.14h1.23v3.63h-1.23zM517.28 195.8h1.23v3.63h-1.23zM517.28 202.46h1.23v43.59h-1.23zM518.11 187.48h1.23v5.29h-1.23zM518.11 195.8h1.23v1.96h-1.23zM518.94 184.15h1.23v1.96h-1.23zM518.94 189.14h1.23v3.63h-1.23zM518.94 197.47h1.23v3.63h-1.23zM518.94 202.46h1.23v43.59h-1.23zM519.77 195.8h1.23v3.63h-1.23zM519.77 204.13h1.23v41.92h-1.23zM520.61 187.48h1.23v3.63h-1.23zM520.61 199.13h1.23v5.29h-1.23zM520.61 207.46h1.23v38.59h-1.23zM521.44 190.81h1.23v1.96h-1.23zM521.44 194.14h1.23v1.96h-1.23zM521.44 199.13h1.23v1.96h-1.23zM521.44 202.46h1.23v3.63h-1.23zM523.1 192.47h1.23v5.29h-1.23zM523.1 205.79h1.23v40.26h-1.23zM523.94 187.48h1.23v1.96h-1.23zM523.94 202.46h1.23v3.63h-1.23zM523.94 207.46h1.23v38.59h-1.23zM524.77 189.14h1.23v1.96h-1.23zM524.77 194.14h1.23v1.96h-1.23zM524.77 207.46h1.23v38.59h-1.23zM525.6 195.8h1.23v3.63h-1.23zM526.43 199.13h1.23v5.29h-1.23zM526.43 207.46h1.23v38.59h-1.23zM527.26 195.8h1.23v1.96h-1.23zM527.26 202.46h1.23v1.96h-1.23zM528.1 207.46h1.23v38.59h-1.23zM528.93 185.81h1.23v1.96h-1.23zM528.93 194.14h1.23v3.63h-1.23zM528.93 199.13h1.23v1.96h-1.23zM528.93 202.46h1.23v5.29h-1.23zM529.76 192.47h1.23v10.29h-1.23zM529.76 205.79h1.23v40.26h-1.23zM530.59 189.14h1.23v1.96h-1.23zM530.59 192.47h1.23v1.96h-1.23zM530.59 197.47h1.23v1.96h-1.23zM530.59 200.8h1.23v45.25h-1.23zM531.42 189.14h1.23v1.96h-1.23zM531.42 199.13h1.23v1.96h-1.23zM531.42 207.46h1.23v38.59h-1.23zM532.26 202.46h1.23v1.96h-1.23zM533.09 185.81h1.23v1.96h-1.23zM533.09 199.13h1.23v1.96h-1.23zM533.92 190.81h1.23v3.63h-1.23zM533.92 205.79h1.23v40.26h-1.23zM534.75 187.48h1.23v10.29h-1.23zM535.59 190.81h1.23v1.96h-1.23zM535.59 199.13h1.23v3.63h-1.23zM535.59 204.13h1.23v41.92h-1.23zM536.42 190.81h1.23v3.63h-1.23zM536.42 195.8h1.23v5.29h-1.23zM536.42 207.46h1.23v38.59h-1.23zM538.08 195.8h1.23v1.96h-1.23zM538.08 199.13h1.23v1.96h-1.23zM538.91 192.47h1.23v6.96h-1.23zM538.91 200.8h1.23v3.63h-1.23zM539.75 194.14h1.23v1.96h-1.23zM541.41 199.13h1.23v46.92h-1.23zM542.24 189.14h1.23v1.96h-1.23zM542.24 202.46h1.23v43.59h-1.23zM543.07 189.14h1.23v6.96h-1.23zM543.91 184.15h1.23v1.96h-1.23zM543.91 207.46h1.23v38.59h-1.23zM544.74 189.14h1.23v1.96h-1.23zM545.57 189.14h1.23v3.63h-1.23zM545.57 197.47h1.23v1.96h-1.23zM545.57 205.79h1.23v40.26h-1.23zM547.24 194.14h1.23v5.29h-1.23zM547.24 202.46h1.23v5.29h-1.23zM548.07 190.81h1.23v3.63h-1.23zM548.07 205.79h1.23v1.96h-1.23z"/><path fill="#2a788e" d="M502.3 190.81h1.23v3.63h-1.23zM503.13 184.15h1.23v1.96h-1.23zM503.96 194.14h1.23v3.63h-1.23zM503.96 200.8h1.23v1.96h-1.23zM504.8 197.47h1.23v1.96h-1.23zM505.63 189.14h1.23v1.96h-1.23zM505.63 195.8h1.23v1.96h-1.23zM506.46 200.8h1.23v1.96h-1.23zM506.46 204.13h1.23v1.96h-1.23zM508.12 194.14h1.23v1.96h-1.23zM509.79 190.81h1.23v1.96h-1.23zM509.79 202.46h1.23v1.96h-1.23zM511.45 200.8h1.23v1.96h-1.23zM512.29 192.47h1.23v5.29h-1.23zM512.29 199.13h1.23v3.63h-1.23zM513.12 189.14h1.23v1.96h-1.23zM513.95 195.8h1.23v1.96h-1.23zM515.61 187.48h1.23v1.96h-1.23zM515.61 195.8h1.23v1.96h-1.23zM516.45 185.81h1.23v1.96h-1.23zM516.45 195.8h1.23v3.63h-1.23zM518.11 197.47h1.23v1.96h-1.23zM519.77 189.14h1.23v3.63h-1.23zM520.61 190.81h1.23v3.63h-1.23zM522.27 195.8h1.23v8.62h-1.23zM523.1 189.14h1.23v1.96h-1.23zM523.1 200.8h1.23v1.96h-1.23zM523.94 184.15h1.23v1.96h-1.23zM523.94 189.14h1.23v3.63h-1.23zM523.94 194.14h1.23v3.63h-1.23zM524.77 187.48h1.23v1.96h-1.23zM524.77 200.8h1.23v3.63h-1.23zM525.6 194.14h1.23v1.96h-1.23zM525.6 204.13h1.23v1.96h-1.23zM526.43 194.14h1.23v1.96h-1.23zM526.43 197.47h1.23v1.96h-1.23zM528.1 185.81h1.23v8.62h-1.23zM528.1 195.8h1.23v3.63h-1.23zM528.93 187.48h1.23v1.96h-1.23zM529.76 185.81h1.23v3.63h-1.23zM529.76 190.81h1.23v1.96h-1.23zM531.42 192.47h1.23v1.96h-1.23zM531.42 195.8h1.23v3.63h-1.23zM532.26 185.81h1.23v1.96h-1.23zM532.26 194.14h1.23v1.96h-1.23zM533.09 194.14h1.23v1.96h-1.23zM533.92 189.14h1.23v1.96h-1.23zM534.75 199.13h1.23v1.96h-1.23zM535.59 194.14h1.23v1.96h-1.23zM536.42 189.14h1.23v1.96h-1.23zM537.25 184.15h1.23v1.96h-1.23zM537.25 189.14h1.23v1.96h-1.23zM537.25 194.14h1.23v3.63h-1.23zM537.25 202.46h1.23v1.96h-1.23zM538.08 185.81h1.23v3.63h-1.23zM538.08 190.81h1.23v3.63h-1.23zM538.08 197.47h1.23v1.96h-1.23zM538.08 200.8h1.23v6.96h-1.23zM538.91 185.81h1.23v1.96h-1.23zM539.75 185.81h1.23v1.96h-1.23zM539.75 190.81h1.23v3.63h-1.23zM539.75 199.13h1.23v1.96h-1.23zM539.75 202.46h1.23v3.63h-1.23zM540.58 192.47h1.23v1.96h-1.23zM540.58 195.8h1.23v1.96h-1.23zM540.58 199.13h1.23v3.63h-1.23zM541.41 184.15h1.23v1.96h-1.23zM541.41 187.48h1.23v1.96h-1.23zM542.24 190.81h1.23v3.63h-1.23zM543.07 187.48h1.23v1.96h-1.23zM543.91 192.47h1.23v1.96h-1.23zM543.91 200.8h1.23v1.96h-1.23zM544.74 190.81h1.23v1.96h-1.23zM544.74 195.8h1.23v6.96h-1.23zM545.57 194.14h1.23v1.96h-1.23zM546.4 184.15h1.23v1.96h-1.23zM546.4 187.48h1.23v1.96h-1.23zM546.4 192.47h1.23v11.95h-1.23zM547.24 190.81h1.23v3.63h-1.23zM548.07 184.15h1.23v1.96h-1.23zM548.07 187.48h1.23v1.96h-1.23zM548.07 199.13h1.23v1.96h-1.23z"/><path fill="#355f8d" d="M503.13 185.81h1.23v1.96h-1.23zM503.13 189.14h1.23v1.96h-1.23zM507.29 185.81h1.23v1.96h-1.23zM508.96 187.48h1.23v1.96h-1.23zM510.62 189.14h1.23v1.96h-1.23zM510.62 192.47h1.23v1.96h-1.23zM511.45 184.15h1.23v3.63h-1.23zM512.29 189.14h1.23v1.96h-1.23zM514.78 194.14h1.23v6.96h-1.23zM515.61 185.81h1.23v1.96h-1.23zM518.11 184.15h1.23v1.96h-1.23zM518.94 185.81h1.23v1.96h-1.23zM519.77 184.15h1.23v1.96h-1.23zM527.26 199.13h1.23v1.96h-1.23zM528.93 184.15h1.23v1.96h-1.23zM531.42 187.48h1.23v1.96h-1.23zM533.92 194.14h1.23v1.96h-1.23zM535.59 184.15h1.23v3.63h-1.23zM536.42 194.14h1.23v1.96h-1.23zM540.58 184.15h1.23v1.96h-1.23zM542.24 187.48h1.23v1.96h-1.23zM544.74 187.48h1.23v1.96h-1.23z"/><path fill="#38598c" d="M503.13 187.48h1.23v1.96h-1.23zM508.96 189.14h1.23v3.63h-1.23zM510.62 190.81h1.23v1.96h-1.23zM512.29 185.81h1.23v1.96h-1.23zM538.91 187.48h1.23v3.63h-1.23zM541.41 194.14h1.23v3.63h-1.23zM542.24 185.81h1.23v1.96h-1.23z"/><path fill="#31668e" d="M503.13 190.81h1.23v1.96h-1.23zM503.13 197.47h1.23v1.96h-1.23zM503.96 185.81h1.23v1.96h-1.23zM504.8 184.15h1.23v3.63h-1.23zM505.63 200.8h1.23v1.96h-1.23zM506.46 192.47h1.23v1.96h-1.23zM507.29 184.15h1.23v1.96h-1.23zM508.12 184.15h1.23v1.96h-1.23zM508.12 187.48h1.23v3.63h-1.23zM508.12 202.46h1.23v1.96h-1.23zM509.79 195.8h1.23v1.96h-1.23zM510.62 195.8h1.23v1.96h-1.23zM510.62 199.13h1.23v3.63h-1.23zM512.29 187.48h1.23v1.96h-1.23zM513.12 194.14h1.23v5.29h-1.23zM513.95 185.81h1.23v5.29h-1.23zM514.78 184.15h1.23v1.96h-1.23zM514.78 187.48h1.23v3.63h-1.23zM514.78 192.47h1.23v1.96h-1.23zM514.78 200.8h1.23v3.63h-1.23zM517.28 184.15h1.23v1.96h-1.23zM517.28 192.47h1.23v3.63h-1.23zM518.11 185.81h1.23v1.96h-1.23zM518.11 192.47h1.23v3.63h-1.23zM518.94 187.48h1.23v1.96h-1.23zM518.94 192.47h1.23v3.63h-1.23zM518.94 200.8h1.23v1.96h-1.23zM519.77 185.81h1.23v1.96h-1.23zM519.77 192.47h1.23v3.63h-1.23zM521.44 192.47h1.23v1.96h-1.23zM521.44 200.8h1.23v1.96h-1.23zM524.77 190.81h1.23v1.96h-1.23zM525.6 199.13h1.23v1.96h-1.23zM527.26 197.47h1.23v1.96h-1.23zM527.26 200.8h1.23v1.96h-1.23zM528.93 197.47h1.23v1.96h-1.23zM529.76 202.46h1.23v3.63h-1.23zM530.59 185.81h1.23v3.63h-1.23zM530.59 199.13h1.23v1.96h-1.23zM531.42 184.15h1.23v3.63h-1.23zM533.09 184.15h1.23v1.96h-1.23zM533.92 195.8h1.23v1.96h-1.23zM535.59 187.48h1.23v3.63h-1.23zM538.91 199.13h1.23v1.96h-1.23zM539.75 195.8h1.23v1.96h-1.23zM541.41 192.47h1.23v1.96h-1.23zM541.41 197.47h1.23v1.96h-1.23zM542.24 184.15h1.23v1.96h-1.23zM543.07 197.47h1.23v5.29h-1.23zM544.74 185.81h1.23v1.96h-1.23zM545.57 184.15h1.23v1.96h-1.23zM548.07 189.14h1.23v1.96h-1.23z"/><path fill="#277e8e" d="M505.63 184.15h1.23v1.96h-1.23zM505.63 187.48h1.23v1.96h-1.23zM505.63 190.81h1.23v1.96h-1.23zM506.46 189.14h1.23v1.96h-1.23zM506.46 202.46h1.23v1.96h-1.23zM508.12 195.8h1.23v3.63h-1.23zM509.79 189.14h1.23v1.96h-1.23zM510.62 184.15h1.23v1.96h-1.23zM512.29 197.47h1.23v1.96h-1.23zM515.61 194.14h1.23v1.96h-1.23zM520.61 194.14h1.23v3.63h-1.23zM521.44 187.48h1.23v1.96h-1.23zM522.27 190.81h1.23v1.96h-1.23zM523.1 184.15h1.23v5.29h-1.23zM525.6 192.47h1.23v1.96h-1.23zM527.26 189.14h1.23v1.96h-1.23zM528.1 194.14h1.23v1.96h-1.23zM533.92 187.48h1.23v1.96h-1.23zM534.75 184.15h1.23v1.96h-1.23zM536.42 184.15h1.23v1.96h-1.23zM538.08 184.15h1.23v1.96h-1.23zM538.08 194.14h1.23v1.96h-1.23zM539.75 184.15h1.23v1.96h-1.23zM539.75 187.48h1.23v3.63h-1.23zM539.75 200.8h1.23v1.96h-1.23zM540.58 187.48h1.23v1.96h-1.23zM540.58 190.81h1.23v1.96h-1.23zM541.41 189.14h1.23v1.96h-1.23zM543.07 185.81h1.23v1.96h-1.23zM543.91 185.81h1.23v3.63h-1.23zM543.91 190.81h1.23v1.96h-1.23zM544.74 192.47h1.23v3.63h-1.23zM546.4 189.14h1.23v1.96h-1.23zM547.24 187.48h1.23v3.63h-1.23zM548.07 185.81h1.23v1.96h-1.23zM548.07 194.14h1.23v5.29h-1.23z"/><path fill="#25848e" d="M505.63 185.81h1.23v1.96h-1.23zM505.63 194.14h1.23v1.96h-1.23zM506.46 187.48h1.23v1.96h-1.23zM508.96 184.15h1.23v1.96h-1.23zM515.61 189.14h1.23v1.96h-1.23zM522.27 185.81h1.23v1.96h-1.23zM522.27 192.47h1.23v3.63h-1.23zM524.77 185.81h1.23v1.96h-1.23zM525.6 185.81h1.23v1.96h-1.23zM526.43 192.47h1.23v1.96h-1.23zM526.43 195.8h1.23v1.96h-1.23zM527.26 184.15h1.23v1.96h-1.23zM527.26 187.48h1.23v1.96h-1.23zM529.76 189.14h1.23v1.96h-1.23zM531.42 194.14h1.23v1.96h-1.23zM532.26 192.47h1.23v1.96h-1.23zM533.92 184.15h1.23v3.63h-1.23zM536.42 185.81h1.23v3.63h-1.23zM538.08 189.14h1.23v1.96h-1.23zM540.58 189.14h1.23v1.96h-1.23zM543.91 189.14h1.23v1.96h-1.23zM544.74 184.15h1.23v1.96h-1.23zM546.4 190.81h1.23v1.96h-1.23z"/><path fill="#238a8d" d="M505.63 192.47h1.23v1.96h-1.23zM515.61 192.47h1.23v1.96h-1.23zM521.44 184.15h1.23v3.63h-1.23zM526.43 184.15h1.23v5.29h-1.23zM532.26 187.48h1.23v1.96h-1.23zM538.91 184.15h1.23v1.96h-1.23zM543.07 184.15h1.23v1.96h-1.23z"/><path fill="#1f968b" d="M506.46 184.15h1.23v3.63h-1.23zM532.26 189.14h1.23v3.63h-1.23z"/><path fill="#3e4a89" d="M512.29 184.15h1.23v1.96h-1.23z"/><path fill="#3b528b" d="M513.95 184.15h1.23v1.96h-1.23zM514.78 185.81h1.23v1.96h-1.23zM538.91 190.81h1.23v1.96h-1.23z"/><path fill="#21918c" d="M515.61 190.81h1.23v1.96h-1.23zM524.77 184.15h1.23v1.96h-1.23zM525.6 184.15h1.23v1.96h-1.23zM526.43 189.14h1.23v3.63h-1.23zM527.26 185.81h1.23v1.96h-1.23z"/><path fill="#1e9c89" d="M522.27 184.15h1.23v1.96h-1.23zM533.92 197.47h1.23v8.62h-1.23z"/><path fill="#482475" d="M522.27 204.13h1.23v5.29h-1.23z"/></g></g>
<rect x="522.39" y="209.27" width="1" height="36.63" fill="#e6dc35"/>
<rect x="502.5" y="184.3" width="46.6" height="61.6" fill="none" stroke="#223" stroke-width=".4"/>
<text x="525.8" y="180.6" font-size="9.1" text-anchor="middle">24</text>
<text x="502.92" y="252.9" font-size="5.8" text-anchor="middle">0</text>
<text x="511.24" y="252.9" font-size="5.8" text-anchor="middle">10</text>
<text x="519.56" y="252.9" font-size="5.8" text-anchor="middle">20</text>
<text x="527.88" y="252.9" font-size="5.8" text-anchor="middle">30</text>
<text x="536.2" y="252.9" font-size="5.8" text-anchor="middle">40</text>
<text x="544.52" y="252.9" font-size="5.8" text-anchor="middle">50</text>
<path d="M502.92 245.9v-1.5M511.24 245.9v-1.5M519.56 245.9v-1.5M527.88 245.9v-1.5M536.2 245.9v-1.5M544.52 245.9v-1.5" stroke="#111" stroke-width=".5" fill="none"/>
<clipPath id="hc6"><rect x="559.5" y="184.3" width="46.3" height="61.6"/></clipPath><g clip-path="url(#hc6)"><g filter="url(#hb)"><rect x="556.5" y="181.3" width="52.3" height="67.6" fill="#2c718e"/><rect x="559.5" y="184.3" width="46.3" height="61.6" fill="#2c718e"/><path fill="#277e8e" d="M559.3 184.15h1.23v3.63h-1.23zM560.95 187.48h1.23v3.63h-1.23zM563.43 194.14h1.23v3.63h-1.23zM565.09 200.8h1.23v1.96h-1.23zM565.91 190.81h1.23v1.96h-1.23zM565.91 199.13h1.23v1.96h-1.23zM566.74 194.14h1.23v1.96h-1.23zM566.74 200.8h1.23v3.63h-1.23zM568.39 195.8h1.23v3.63h-1.23zM571.7 189.14h1.23v8.62h-1.23zM572.53 197.47h1.23v1.96h-1.23zM574.18 184.15h1.23v1.96h-1.23zM575.01 194.14h1.23v1.96h-1.23zM575.01 197.47h1.23v1.96h-1.23zM576.66 192.47h1.23v6.96h-1.23zM577.49 194.14h1.23v1.96h-1.23zM578.32 184.15h1.23v1.96h-1.23zM578.32 190.81h1.23v1.96h-1.23zM578.32 197.47h1.23v1.96h-1.23zM579.14 184.15h1.23v3.63h-1.23zM579.97 194.14h1.23v1.96h-1.23zM579.97 197.47h1.23v1.96h-1.23zM580.8 195.8h1.23v3.63h-1.23zM581.62 187.48h1.23v1.96h-1.23zM582.45 197.47h1.23v3.63h-1.23zM583.28 184.15h1.23v3.63h-1.23zM584.93 190.81h1.23v3.63h-1.23zM585.76 192.47h1.23v3.63h-1.23zM587.41 187.48h1.23v3.63h-1.23zM589.06 185.81h1.23v1.96h-1.23zM589.06 192.47h1.23v1.96h-1.23zM590.72 187.48h1.23v3.63h-1.23zM590.72 197.47h1.23v1.96h-1.23zM591.54 189.14h1.23v5.29h-1.23zM593.2 184.15h1.23v1.96h-1.23zM594.02 194.14h1.23v1.96h-1.23zM594.02 197.47h1.23v1.96h-1.23zM594.85 185.81h1.23v1.96h-1.23zM595.68 190.81h1.23v6.96h-1.23zM597.33 197.47h1.23v5.29h-1.23zM598.99 187.48h1.23v1.96h-1.23zM599.81 194.14h1.23v1.96h-1.23zM601.47 187.48h1.23v3.63h-1.23zM602.29 185.81h1.23v1.96h-1.23zM602.29 195.8h1.23v5.29h-1.23zM603.95 197.47h1.23v1.96h-1.23zM603.95 202.46h1.23v1.96h-1.23z"/><path fill="#2f6c8e" d="M559.3 187.48h1.23v1.96h-1.23zM559.3 190.81h1.23v6.96h-1.23zM560.13 189.14h1.23v1.96h-1.23zM560.95 194.14h1.23v1.96h-1.23zM560.95 200.8h1.23v45.25h-1.23zM561.78 190.81h1.23v1.96h-1.23zM561.78 199.13h1.23v1.96h-1.23zM561.78 202.46h1.23v1.96h-1.23zM562.61 194.14h1.23v51.91h-1.23zM565.09 185.81h1.23v1.96h-1.23zM565.09 195.8h1.23v1.96h-1.23zM565.91 189.14h1.23v1.96h-1.23zM567.57 190.81h1.23v3.63h-1.23zM567.57 195.8h1.23v1.96h-1.23zM567.57 199.13h1.23v3.63h-1.23zM567.57 205.79h1.23v40.26h-1.23zM568.39 192.47h1.23v1.96h-1.23zM569.22 200.8h1.23v1.96h-1.23zM569.22 205.79h1.23v40.26h-1.23zM570.88 185.81h1.23v3.63h-1.23zM570.88 199.13h1.23v5.29h-1.23zM571.7 184.15h1.23v1.96h-1.23zM571.7 200.8h1.23v45.25h-1.23zM572.53 184.15h1.23v3.63h-1.23zM572.53 189.14h1.23v3.63h-1.23zM572.53 194.14h1.23v1.96h-1.23zM573.36 194.14h1.23v1.96h-1.23zM574.18 189.14h1.23v1.96h-1.23zM574.18 200.8h1.23v5.29h-1.23zM575.01 204.13h1.23v1.96h-1.23zM575.84 187.48h1.23v1.96h-1.23zM577.49 199.13h1.23v3.63h-1.23zM577.49 204.13h1.23v41.92h-1.23zM579.14 189.14h1.23v1.96h-1.23zM579.14 194.14h1.23v1.96h-1.23zM579.14 200.8h1.23v45.25h-1.23zM580.8 185.81h1.23v3.63h-1.23zM580.8 202.46h1.23v1.96h-1.23zM583.28 190.81h1.23v1.96h-1.23zM583.28 200.8h1.23v1.96h-1.23zM583.28 204.13h1.23v41.92h-1.23zM584.1 192.47h1.23v3.63h-1.23zM584.93 185.81h1.23v3.63h-1.23zM584.93 194.14h1.23v1.96h-1.23zM586.58 185.81h1.23v1.96h-1.23zM586.58 197.47h1.23v1.96h-1.23zM587.41 200.8h1.23v5.29h-1.23zM588.24 187.48h1.23v1.96h-1.23zM588.24 194.14h1.23v1.96h-1.23zM588.24 205.79h1.23v40.26h-1.23zM589.06 197.47h1.23v1.96h-1.23zM589.06 200.8h1.23v1.96h-1.23zM589.89 195.8h1.23v1.96h-1.23zM590.72 199.13h1.23v6.96h-1.23zM591.54 184.15h1.23v1.96h-1.23zM591.54 194.14h1.23v51.91h-1.23zM592.37 184.15h1.23v3.63h-1.23zM592.37 200.8h1.23v45.25h-1.23zM593.2 185.81h1.23v1.96h-1.23zM593.2 192.47h1.23v1.96h-1.23zM593.2 197.47h1.23v1.96h-1.23zM593.2 200.8h1.23v3.63h-1.23zM594.02 190.81h1.23v1.96h-1.23zM594.02 204.13h1.23v1.96h-1.23zM594.85 192.47h1.23v1.96h-1.23zM594.85 202.46h1.23v1.96h-1.23zM595.68 184.15h1.23v1.96h-1.23zM596.51 192.47h1.23v3.63h-1.23zM596.51 200.8h1.23v45.25h-1.23zM597.33 184.15h1.23v1.96h-1.23zM597.33 192.47h1.23v1.96h-1.23zM598.16 184.15h1.23v1.96h-1.23zM598.16 192.47h1.23v1.96h-1.23zM598.16 195.8h1.23v1.96h-1.23zM598.99 205.79h1.23v40.26h-1.23zM599.81 197.47h1.23v1.96h-1.23zM600.64 184.15h1.23v1.96h-1.23zM600.64 190.81h1.23v1.96h-1.23zM600.64 200.8h1.23v45.25h-1.23zM601.47 192.47h1.23v3.63h-1.23zM601.47 200.8h1.23v45.25h-1.23zM602.29 192.47h1.23v1.96h-1.23zM603.12 185.81h1.23v1.96h-1.23zM603.12 189.14h1.23v1.96h-1.23zM603.12 199.13h1.23v1.96h-1.23zM603.12 202.46h1.23v43.59h-1.23zM603.95 194.14h1.23v1.96h-1.23zM604.77 200.8h1.23v1.96h-1.23z"/><path fill="#31668e" d="M559.3 189.14h1.23v1.96h-1.23zM560.13 185.81h1.23v3.63h-1.23zM560.95 195.8h1.23v5.29h-1.23zM561.78 195.8h1.23v3.63h-1.23zM562.61 184.15h1.23v1.96h-1.23zM562.61 187.48h1.23v1.96h-1.23zM565.91 187.48h1.23v1.96h-1.23zM567.57 189.14h1.23v1.96h-1.23zM567.57 197.47h1.23v1.96h-1.23zM568.39 184.15h1.23v1.96h-1.23zM570.88 189.14h1.23v10.29h-1.23zM572.53 192.47h1.23v1.96h-1.23zM575.01 184.15h1.23v1.96h-1.23zM577.49 185.81h1.23v1.96h-1.23zM579.14 195.8h1.23v1.96h-1.23zM579.14 199.13h1.23v1.96h-1.23zM579.97 190.81h1.23v1.96h-1.23zM582.45 184.15h1.23v1.96h-1.23zM582.45 189.14h1.23v1.96h-1.23zM583.28 199.13h1.23v1.96h-1.23zM583.28 202.46h1.23v1.96h-1.23zM584.1 189.14h1.23v1.96h-1.23zM584.93 184.15h1.23v1.96h-1.23zM586.58 184.15h1.23v1.96h-1.23zM586.58 187.48h1.23v1.96h-1.23zM586.58 190.81h1.23v3.63h-1.23zM587.41 195.8h1.23v5.29h-1.23zM588.24 185.81h1.23v1.96h-1.23zM588.24 195.8h1.23v1.96h-1.23zM588.24 199.13h1.23v1.96h-1.23zM589.06 184.15h1.23v1.96h-1.23zM589.06 199.13h1.23v1.96h-1.23zM589.89 189.14h1.23v6.96h-1.23zM591.54 187.48h1.23v1.96h-1.23zM592.37 187.48h1.23v1.96h-1.23zM592.37 197.47h1.23v3.63h-1.23zM593.2 194.14h1.23v3.63h-1.23zM594.02 189.14h1.23v1.96h-1.23zM594.85 190.81h1.23v1.96h-1.23zM594.85 194.14h1.23v1.96h-1.23zM595.68 187.48h1.23v1.96h-1.23zM598.16 194.14h1.23v1.96h-1.23zM598.99 190.81h1.23v1.96h-1.23zM598.99 195.8h1.23v3.63h-1.23zM600.64 187.48h1.23v3.63h-1.23zM602.29 190.81h1.23v1.96h-1.23zM603.12 187.48h1.23v1.96h-1.23zM603.12 200.8h1.23v1.96h-1.23zM603.95 184.15h1.23v1.96h-1.23zM603.95 190.81h1.23v3.63h-1.23z"/><path fill="#2c728e" d="M559.3 197.47h1.23v48.58h-1.23zM560.13 190.81h1.23v8.62h-1.23zM560.13 200.8h1.23v1.96h-1.23zM560.13 205.79h1.23v40.26h-1.23zM560.95 184.15h1.23v3.63h-1.23zM560.95 192.47h1.23v1.96h-1.23zM561.78 189.14h1.23v1.96h-1.23zM561.78 200.8h1.23v1.96h-1.23zM561.78 204.13h1.23v41.92h-1.23zM562.61 189.14h1.23v1.96h-1.23zM563.43 190.81h1.23v1.96h-1.23zM564.26 192.47h1.23v1.96h-1.23zM564.26 202.46h1.23v43.59h-1.23zM565.09 189.14h1.23v1.96h-1.23zM565.09 194.14h1.23v1.96h-1.23zM565.09 197.47h1.23v1.96h-1.23zM565.91 202.46h1.23v3.63h-1.23zM566.74 189.14h1.23v3.63h-1.23zM566.74 205.79h1.23v40.26h-1.23zM567.57 187.48h1.23v1.96h-1.23zM567.57 194.14h1.23v1.96h-1.23zM567.57 202.46h1.23v3.63h-1.23zM568.39 187.48h1.23v5.29h-1.23zM568.39 202.46h1.23v43.59h-1.23zM569.22 184.15h1.23v1.96h-1.23zM569.22 189.14h1.23v3.63h-1.23zM569.22 194.14h1.23v6.96h-1.23zM569.22 202.46h1.23v3.63h-1.23zM570.05 184.15h1.23v1.96h-1.23zM570.05 202.46h1.23v43.59h-1.23zM570.88 184.15h1.23v1.96h-1.23zM570.88 204.13h1.23v41.92h-1.23zM571.7 187.48h1.23v1.96h-1.23zM572.53 187.48h1.23v1.96h-1.23zM572.53 200.8h1.23v1.96h-1.23zM572.53 205.79h1.23v40.26h-1.23zM573.36 195.8h1.23v6.96h-1.23zM573.36 204.13h1.23v41.92h-1.23zM574.18 187.48h1.23v1.96h-1.23zM574.18 192.47h1.23v1.96h-1.23zM574.18 199.13h1.23v1.96h-1.23zM574.18 205.79h1.23v40.26h-1.23zM575.01 185.81h1.23v1.96h-1.23zM575.01 189.14h1.23v1.96h-1.23zM575.01 200.8h1.23v3.63h-1.23zM575.01 205.79h1.23v40.26h-1.23zM575.84 184.15h1.23v1.96h-1.23zM575.84 204.13h1.23v1.96h-1.23zM576.66 190.81h1.23v1.96h-1.23zM576.66 204.13h1.23v41.92h-1.23zM577.49 189.14h1.23v1.96h-1.23zM577.49 197.47h1.23v1.96h-1.23zM577.49 202.46h1.23v1.96h-1.23zM578.32 185.81h1.23v3.63h-1.23zM578.32 194.14h1.23v1.96h-1.23zM578.32 204.13h1.23v41.92h-1.23zM579.14 190.81h1.23v3.63h-1.23zM579.97 192.47h1.23v1.96h-1.23zM579.97 204.13h1.23v41.92h-1.23zM580.8 184.15h1.23v1.96h-1.23zM580.8 189.14h1.23v1.96h-1.23zM580.8 200.8h1.23v1.96h-1.23zM580.8 204.13h1.23v41.92h-1.23zM581.62 205.79h1.23v40.26h-1.23zM582.45 204.13h1.23v41.92h-1.23zM583.28 189.14h1.23v1.96h-1.23zM583.28 192.47h1.23v3.63h-1.23zM583.28 197.47h1.23v1.96h-1.23zM584.1 185.81h1.23v1.96h-1.23zM584.1 195.8h1.23v1.96h-1.23zM584.1 204.13h1.23v41.92h-1.23zM584.93 195.8h1.23v5.29h-1.23zM584.93 204.13h1.23v41.92h-1.23zM585.76 184.15h1.23v8.62h-1.23zM585.76 199.13h1.23v1.96h-1.23zM585.76 205.79h1.23v40.26h-1.23zM586.58 194.14h1.23v3.63h-1.23zM586.58 199.13h1.23v46.92h-1.23zM587.41 184.15h1.23v3.63h-1.23zM587.41 192.47h1.23v3.63h-1.23zM587.41 205.79h1.23v40.26h-1.23zM588.24 189.14h1.23v1.96h-1.23zM588.24 200.8h1.23v5.29h-1.23zM589.06 195.8h1.23v1.96h-1.23zM589.06 202.46h1.23v43.59h-1.23zM589.89 197.47h1.23v48.58h-1.23zM590.72 205.79h1.23v40.26h-1.23zM593.2 199.13h1.23v1.96h-1.23zM593.2 204.13h1.23v41.92h-1.23zM594.02 184.15h1.23v5.29h-1.23zM594.02 200.8h1.23v3.63h-1.23zM594.02 205.79h1.23v40.26h-1.23zM594.85 199.13h1.23v3.63h-1.23zM594.85 204.13h1.23v41.92h-1.23zM595.68 189.14h1.23v1.96h-1.23zM595.68 200.8h1.23v45.25h-1.23zM596.51 189.14h1.23v3.63h-1.23zM596.51 199.13h1.23v1.96h-1.23zM597.33 194.14h1.23v1.96h-1.23zM597.33 204.13h1.23v41.92h-1.23zM598.16 185.81h1.23v3.63h-1.23zM598.16 190.81h1.23v1.96h-1.23zM598.16 200.8h1.23v45.25h-1.23zM598.99 184.15h1.23v1.96h-1.23zM598.99 189.14h1.23v1.96h-1.23zM598.99 202.46h1.23v3.63h-1.23zM599.81 185.81h1.23v5.29h-1.23zM599.81 195.8h1.23v1.96h-1.23zM599.81 199.13h1.23v46.92h-1.23zM600.64 185.81h1.23v1.96h-1.23zM600.64 195.8h1.23v1.96h-1.23zM601.47 195.8h1.23v5.29h-1.23zM602.29 189.14h1.23v1.96h-1.23zM602.29 200.8h1.23v45.25h-1.23zM603.12 192.47h1.23v1.96h-1.23zM603.12 195.8h1.23v3.63h-1.23zM603.95 185.81h1.23v5.29h-1.23zM603.95 205.79h1.23v40.26h-1.23zM604.77 189.14h1.23v3.63h-1.23zM604.77 195.8h1.23v5.29h-1.23zM604.77 202.46h1.23v43.59h-1.23z"/><path fill="#355f8d" d="M560.13 184.15h1.23v1.96h-1.23zM561.78 192.47h1.23v3.63h-1.23zM565.91 184.15h1.23v1.96h-1.23zM571.7 185.81h1.23v1.96h-1.23zM574.18 190.81h1.23v1.96h-1.23zM575.84 185.81h1.23v1.96h-1.23zM577.49 184.15h1.23v1.96h-1.23zM579.14 197.47h1.23v1.96h-1.23zM579.97 187.48h1.23v3.63h-1.23zM584.1 187.48h1.23v1.96h-1.23zM586.58 189.14h1.23v1.96h-1.23zM588.24 184.15h1.23v1.96h-1.23zM588.24 197.47h1.23v1.96h-1.23zM589.89 187.48h1.23v1.96h-1.23zM591.54 185.81h1.23v1.96h-1.23zM592.37 189.14h1.23v3.63h-1.23zM592.37 194.14h1.23v1.96h-1.23zM595.68 185.81h1.23v1.96h-1.23zM596.51 184.15h1.23v3.63h-1.23zM598.99 192.47h1.23v3.63h-1.23z"/><path fill="#2a788e" d="M560.13 199.13h1.23v1.96h-1.23zM560.13 202.46h1.23v3.63h-1.23zM560.95 190.81h1.23v1.96h-1.23zM561.78 187.48h1.23v1.96h-1.23zM562.61 190.81h1.23v3.63h-1.23zM563.43 185.81h1.23v5.29h-1.23zM563.43 192.47h1.23v1.96h-1.23zM563.43 197.47h1.23v48.58h-1.23zM564.26 190.81h1.23v1.96h-1.23zM564.26 194.14h1.23v8.62h-1.23zM565.09 184.15h1.23v1.96h-1.23zM565.09 187.48h1.23v1.96h-1.23zM565.09 190.81h1.23v3.63h-1.23zM565.09 199.13h1.23v1.96h-1.23zM565.09 202.46h1.23v43.59h-1.23zM565.91 200.8h1.23v1.96h-1.23zM565.91 205.79h1.23v40.26h-1.23zM566.74 192.47h1.23v1.96h-1.23zM566.74 204.13h1.23v1.96h-1.23zM568.39 185.81h1.23v1.96h-1.23zM568.39 194.14h1.23v1.96h-1.23zM568.39 199.13h1.23v3.63h-1.23zM569.22 192.47h1.23v1.96h-1.23zM570.05 185.81h1.23v3.63h-1.23zM570.05 194.14h1.23v8.62h-1.23zM571.7 197.47h1.23v3.63h-1.23zM572.53 195.8h1.23v1.96h-1.23zM572.53 199.13h1.23v1.96h-1.23zM572.53 202.46h1.23v3.63h-1.23zM573.36 190.81h1.23v3.63h-1.23zM573.36 202.46h1.23v1.96h-1.23zM574.18 185.81h1.23v1.96h-1.23zM574.18 194.14h1.23v5.29h-1.23zM575.01 187.48h1.23v1.96h-1.23zM575.01 190.81h1.23v3.63h-1.23zM575.01 195.8h1.23v1.96h-1.23zM575.01 199.13h1.23v1.96h-1.23zM575.84 189.14h1.23v15.28h-1.23zM575.84 205.79h1.23v40.26h-1.23zM576.66 187.48h1.23v3.63h-1.23zM576.66 199.13h1.23v5.29h-1.23zM577.49 187.48h1.23v1.96h-1.23zM577.49 195.8h1.23v1.96h-1.23zM578.32 189.14h1.23v1.96h-1.23zM578.32 192.47h1.23v1.96h-1.23zM578.32 195.8h1.23v1.96h-1.23zM578.32 199.13h1.23v5.29h-1.23zM579.14 187.48h1.23v1.96h-1.23zM579.97 199.13h1.23v5.29h-1.23zM580.8 190.81h1.23v1.96h-1.23zM580.8 199.13h1.23v1.96h-1.23zM582.45 190.81h1.23v1.96h-1.23zM582.45 200.8h1.23v3.63h-1.23zM583.28 187.48h1.23v1.96h-1.23zM583.28 195.8h1.23v1.96h-1.23zM584.1 197.47h1.23v6.96h-1.23zM584.93 189.14h1.23v1.96h-1.23zM584.93 200.8h1.23v3.63h-1.23zM585.76 195.8h1.23v3.63h-1.23zM585.76 200.8h1.23v5.29h-1.23zM588.24 190.81h1.23v3.63h-1.23zM589.06 194.14h1.23v1.96h-1.23zM590.72 185.81h1.23v1.96h-1.23zM593.2 187.48h1.23v5.29h-1.23zM594.02 192.47h1.23v1.96h-1.23zM594.02 199.13h1.23v1.96h-1.23zM594.85 184.15h1.23v1.96h-1.23zM594.85 189.14h1.23v1.96h-1.23zM594.85 195.8h1.23v3.63h-1.23zM595.68 197.47h1.23v3.63h-1.23zM596.51 187.48h1.23v1.96h-1.23zM596.51 195.8h1.23v3.63h-1.23zM597.33 185.81h1.23v3.63h-1.23zM597.33 190.81h1.23v1.96h-1.23zM597.33 195.8h1.23v1.96h-1.23zM597.33 202.46h1.23v1.96h-1.23zM598.16 189.14h1.23v1.96h-1.23zM598.16 197.47h1.23v3.63h-1.23zM598.99 185.81h1.23v1.96h-1.23zM598.99 199.13h1.23v3.63h-1.23zM599.81 184.15h1.23v1.96h-1.23zM599.81 190.81h1.23v3.63h-1.23zM600.64 192.47h1.23v3.63h-1.23zM600.64 197.47h1.23v3.63h-1.23zM601.47 190.81h1.23v1.96h-1.23zM602.29 187.48h1.23v1.96h-1.23zM602.29 194.14h1.23v1.96h-1.23zM603.12 190.81h1.23v1.96h-1.23zM603.12 194.14h1.23v1.96h-1.23zM603.95 195.8h1.23v1.96h-1.23zM603.95 204.13h1.23v1.96h-1.23zM604.77 187.48h1.23v1.96h-1.23zM604.77 192.47h1.23v3.63h-1.23z"/><path fill="#238a8d" d="M561.78 184.15h1.23v1.96h-1.23zM564.26 185.81h1.23v1.96h-1.23zM565.91 192.47h1.23v1.96h-1.23zM566.74 197.47h1.23v1.96h-1.23zM573.36 184.15h1.23v5.29h-1.23zM582.45 194.14h1.23v1.96h-1.23zM589.06 189.14h1.23v1.96h-1.23zM590.72 184.15h1.23v1.96h-1.23zM594.85 187.48h1.23v1.96h-1.23zM601.47 185.81h1.23v1.96h-1.23zM602.29 184.15h1.23v1.96h-1.23zM603.95 199.13h1.23v1.96h-1.23z"/><path fill="#25848e" d="M561.78 185.81h1.23v1.96h-1.23zM563.43 184.15h1.23v1.96h-1.23zM564.26 184.15h1.23v1.96h-1.23zM564.26 189.14h1.23v1.96h-1.23zM565.91 194.14h1.23v5.29h-1.23zM566.74 187.48h1.23v1.96h-1.23zM566.74 195.8h1.23v1.96h-1.23zM566.74 199.13h1.23v1.96h-1.23zM567.57 184.15h1.23v3.63h-1.23zM570.05 189.14h1.23v1.96h-1.23zM570.05 192.47h1.23v1.96h-1.23zM573.36 189.14h1.23v1.96h-1.23zM576.66 184.15h1.23v3.63h-1.23zM577.49 190.81h1.23v3.63h-1.23zM579.97 195.8h1.23v1.96h-1.23zM580.8 192.47h1.23v3.63h-1.23zM581.62 184.15h1.23v3.63h-1.23zM582.45 192.47h1.23v1.96h-1.23zM582.45 195.8h1.23v1.96h-1.23zM584.1 184.15h1.23v1.96h-1.23zM587.41 190.81h1.23v1.96h-1.23zM589.06 187.48h1.23v1.96h-1.23zM589.06 190.81h1.23v1.96h-1.23zM590.72 190.81h1.23v6.96h-1.23zM594.02 195.8h1.23v1.96h-1.23zM597.33 189.14h1.23v1.96h-1.23zM601.47 184.15h1.23v1.96h-1.23zM603.12 184.15h1.23v1.96h-1.23zM603.95 200.8h1.23v1.96h-1.23zM604.77 184.15h1.23v3.63h-1.23z"/><path fill="#38598c" d="M562.61 185.81h1.23v1.96h-1.23zM569.22 185.81h1.23v3.63h-1.23zM579.97 184.15h1.23v3.63h-1.23zM584.1 190.81h1.23v1.96h-1.23zM592.37 192.47h1.23v1.96h-1.23zM592.37 195.8h1.23v1.96h-1.23z"/><path fill="#21918c" d="M564.26 187.48h1.23v1.96h-1.23zM566.74 184.15h1.23v3.63h-1.23zM570.05 190.81h1.23v1.96h-1.23zM581.62 189.14h1.23v10.29h-1.23z"/><path fill="#3b528b" d="M565.91 185.81h1.23v1.96h-1.23zM582.45 185.81h1.23v3.63h-1.23z"/><path fill="#481c6e" d="M581.62 199.13h1.23v6.96h-1.23z"/><path fill="#3e4a89" d="M589.89 184.15h1.23v3.63h-1.23z"/></g></g>
<rect x="581.64" y="205.94" width="1.2" height="39.96" fill="#e0dc34"/>
<rect x="559.5" y="184.3" width="46.3" height="61.6" fill="none" stroke="#223" stroke-width=".4"/>
<text x="582.65" y="180.6" font-size="9.1" text-anchor="middle">27</text>
<text x="559.91" y="252.9" font-size="5.8" text-anchor="middle">0</text>
<text x="568.18" y="252.9" font-size="5.8" text-anchor="middle">10</text>
<text x="576.45" y="252.9" font-size="5.8" text-anchor="middle">20</text>
<text x="584.72" y="252.9" font-size="5.8" text-anchor="middle">30</text>
<text x="592.98" y="252.9" font-size="5.8" text-anchor="middle">40</text>
<text x="601.25" y="252.9" font-size="5.8" text-anchor="middle">50</text>
<path d="M559.91 245.9v-1.5M568.18 245.9v-1.5M576.45 245.9v-1.5M584.72 245.9v-1.5M592.98 245.9v-1.5M601.25 245.9v-1.5" stroke="#111" stroke-width=".5" fill="none"/>
<text x="387.5" y="187.23" font-size="5.8" text-anchor="end">0</text>
<text x="387.5" y="195.56" font-size="5.8" text-anchor="end">5</text>
<text x="387.5" y="203.88" font-size="5.8" text-anchor="end">10</text>
<text x="387.5" y="212.21" font-size="5.8" text-anchor="end">15</text>
<text x="387.5" y="220.53" font-size="5.8" text-anchor="end">20</text>
<text x="387.5" y="228.85" font-size="5.8" text-anchor="end">25</text>
<text x="387.5" y="237.18" font-size="5.8" text-anchor="end">30</text>
<text x="387.5" y="245.5" font-size="5.8" text-anchor="end">35</text>
<path d="M389.3 185.13h1.5M389.3 193.46h1.5M389.3 201.78h1.5M389.3 210.11h1.5M389.3 218.43h1.5M389.3 226.75h1.5M389.3 235.08h1.5M389.3 243.4h1.5" stroke="#111" stroke-width=".5" fill="none"/>
<text transform="translate(375 215.1) rotate(-90)" font-size="7.5" text-anchor="middle">Iterations</text>
<rect x="389.3" y="278.6" width="46.1" height="61.6" fill="#26ad81"/><rect x="389.1" y="278.6" width="6.99" height="61.6" fill="#2a788e"/><rect x="395.69" y="278.6" width="6.99" height="61.6" fill="#bddf26"/><rect x="402.27" y="278.6" width="6.99" height="61.6" fill="#2a788e"/><rect x="408.86" y="278.6" width="6.99" height="61.6" fill="#32648e"/><rect x="415.44" y="278.6" width="6.99" height="61.6" fill="#bddf26"/><rect x="422.03" y="278.6" width="6.99" height="61.6" fill="#5ec962"/><rect x="428.61" y="278.6" width="6.99" height="61.6" fill="#fde725"/><path fill="#21918c" d="M389.1 278.45h6.99v1.96h-6.99zM389.1 286.77h6.99v1.96h-6.99zM395.69 286.77h6.99v1.96h-6.99zM402.27 280.11h6.99v5.29h-6.99zM422.03 290.1h6.99v1.96h-6.99z"/><path fill="#22a884" d="M389.1 280.11h6.99v1.96h-6.99z"/><path fill="#2a788e" d="M389.1 281.78h6.99v1.96h-6.99zM389.1 288.44h6.99v51.91h-6.99zM402.27 291.77h6.99v48.58h-6.99zM422.03 278.45h6.99v1.96h-6.99zM422.03 285.11h6.99v3.63h-6.99z"/><path fill="#2fb47c" d="M389.1 283.44h6.99v1.96h-6.99zM408.86 286.77h6.99v1.96h-6.99zM415.44 288.44h6.99v1.96h-6.99zM422.03 291.77h6.99v1.96h-6.99zM428.61 281.78h6.99v1.96h-6.99z"/><path fill="#28ae80" d="M389.1 285.11h6.99v1.96h-6.99z"/><path fill="#355f8d" d="M395.69 278.45h6.99v5.29h-6.99zM408.86 291.77h6.99v1.96h-6.99zM415.44 278.45h6.99v3.63h-6.99zM415.44 286.77h6.99v1.96h-6.99zM422.03 281.78h6.99v1.96h-6.99zM428.61 278.45h6.99v1.96h-6.99zM428.61 286.77h6.99v1.96h-6.99z"/><path fill="#472d7b" d="M395.69 283.44h6.99v1.96h-6.99zM428.61 280.11h6.99v1.96h-6.99zM428.61 283.44h6.99v3.63h-6.99z"/><path fill="#414487" d="M395.69 285.11h6.99v1.96h-6.99z"/><path fill="#bddf26" d="M395.69 288.44h6.99v51.91h-6.99zM415.44 291.77h6.99v48.58h-6.99z"/><path fill="#2f6c8e" d="M402.27 278.45h6.99v1.96h-6.99zM402.27 288.44h6.99v1.96h-6.99z"/><path fill="#1fa287" d="M402.27 285.11h6.99v1.96h-6.99z"/><path fill="#1e9c89" d="M402.27 286.77h6.99v1.96h-6.99z"/><path fill="#2c728e" d="M402.27 290.1h6.99v1.96h-6.99zM422.03 283.44h6.99v1.96h-6.99z"/><path fill="#8bd646" d="M408.86 278.45h6.99v3.63h-6.99z"/><path fill="#460a5d" d="M408.86 281.78h6.99v1.96h-6.99z"/><path fill="#44bf70" d="M408.86 283.44h6.99v1.96h-6.99z"/><path fill="#38b977" d="M408.86 285.11h6.99v1.96h-6.99z"/><path fill="#38598c" d="M408.86 288.44h6.99v3.63h-6.99zM415.44 283.44h6.99v3.63h-6.99z"/><path fill="#31668e" d="M408.86 293.43h6.99v46.92h-6.99z"/><path fill="#25848e" d="M415.44 281.78h6.99v1.96h-6.99zM422.03 280.11h6.99v1.96h-6.99z"/><path fill="#7ad151" d="M415.44 290.1h6.99v1.96h-6.99z"/><path fill="#277e8e" d="M422.03 288.44h6.99v1.96h-6.99z"/><path fill="#5ec962" d="M422.03 293.43h6.99v46.92h-6.99z"/><path fill="#efe51c" d="M428.61 288.44h6.99v1.96h-6.99z"/><path fill="#fde725" d="M428.61 290.1h6.99v50.25h-6.99z"/>
<rect x="389.3" y="278.6" width="46.1" height="61.6" fill="none" stroke="#223" stroke-width=".4"/>
<text x="412.65" y="274.9" font-size="9.1" text-anchor="middle">Red</text>
<text x="392.59" y="347.2" font-size="5.8" text-anchor="middle">Blue</text>
<text x="412.35" y="347.2" font-size="5.8" text-anchor="middle">Cyan</text>
<text x="432.11" y="347.2" font-size="5.8" text-anchor="middle">Red</text>
<path d="M392.59 340.2v-1.5M412.35 340.2v-1.5M432.11 340.2v-1.5" stroke="#111" stroke-width=".5" fill="none"/>
<clipPath id="hc7"><rect x="445.9" y="278.6" width="46.1" height="61.6"/></clipPath><g clip-path="url(#hc7)"><g filter="url(#hb)"><rect x="442.9" y="275.6" width="52.1" height="67.6" fill="#2d718e"/><rect x="445.9" y="278.6" width="46.1" height="61.6" fill="#2d718e"/><path fill="#2c728e" d="M445.7 278.45h2.17v1.96h-2.17zM447.47 290.1h2.17v1.96h-2.17zM447.47 293.43h2.17v1.96h-2.17zM447.47 300.09h2.17v40.26h-2.17zM451.02 285.11h2.17v1.96h-2.17zM451.02 298.43h2.17v1.96h-2.17zM452.79 296.76h2.17v3.63h-2.17zM452.79 310.08h2.17v30.27h-2.17zM454.57 296.76h2.17v43.59h-2.17zM456.34 296.76h2.17v3.63h-2.17zM456.34 315.08h2.17v25.27h-2.17zM458.11 281.78h2.17v1.96h-2.17zM458.11 288.44h2.17v1.96h-2.17zM458.11 291.77h2.17v1.96h-2.17zM461.66 313.41h2.17v26.94h-2.17zM463.43 298.43h2.17v15.28h-2.17zM463.43 320.07h2.17v20.28h-2.17zM465.2 280.11h2.17v1.96h-2.17zM465.2 288.44h2.17v1.96h-2.17zM465.2 313.41h2.17v26.94h-2.17zM466.98 288.44h2.17v1.96h-2.17zM466.98 293.43h2.17v1.96h-2.17zM466.98 305.09h2.17v35.26h-2.17zM468.75 280.11h2.17v1.96h-2.17zM470.52 285.11h2.17v1.96h-2.17zM472.3 290.1h2.17v1.96h-2.17zM474.07 286.77h2.17v1.96h-2.17zM475.84 295.1h2.17v1.96h-2.17zM479.39 286.77h2.17v1.96h-2.17zM479.39 293.43h2.17v1.96h-2.17zM481.16 310.08h2.17v30.27h-2.17zM484.71 280.11h2.17v1.96h-2.17zM484.71 285.11h2.17v1.96h-2.17zM484.71 310.08h2.17v30.27h-2.17zM486.48 283.44h2.17v1.96h-2.17zM488.25 278.45h2.17v1.96h-2.17zM488.25 283.44h2.17v1.96h-2.17z"/><path fill="#2f6c8e" d="M445.7 280.11h2.17v1.96h-2.17zM445.7 283.44h2.17v1.96h-2.17zM447.47 288.44h2.17v1.96h-2.17zM447.47 295.1h2.17v5.29h-2.17zM449.25 306.75h2.17v33.6h-2.17zM451.02 295.1h2.17v3.63h-2.17zM452.79 283.44h2.17v1.96h-2.17zM452.79 290.1h2.17v1.96h-2.17zM452.79 300.09h2.17v10.29h-2.17zM454.57 285.11h2.17v1.96h-2.17zM454.57 293.43h2.17v1.96h-2.17zM456.34 295.1h2.17v1.96h-2.17zM456.34 300.09h2.17v15.28h-2.17zM458.11 305.09h2.17v35.26h-2.17zM459.88 280.11h2.17v1.96h-2.17zM461.66 280.11h2.17v1.96h-2.17zM461.66 300.09h2.17v13.62h-2.17zM465.2 290.1h2.17v3.63h-2.17zM465.2 296.76h2.17v16.95h-2.17zM466.98 278.45h2.17v1.96h-2.17zM466.98 283.44h2.17v1.96h-2.17zM466.98 295.1h2.17v1.96h-2.17zM466.98 298.43h2.17v6.96h-2.17zM470.52 290.1h2.17v3.63h-2.17zM470.52 301.76h2.17v38.59h-2.17zM472.3 280.11h2.17v1.96h-2.17zM472.3 296.76h2.17v43.59h-2.17zM474.07 285.11h2.17v1.96h-2.17zM475.84 293.43h2.17v1.96h-2.17zM475.84 296.76h2.17v43.59h-2.17zM477.62 281.78h2.17v1.96h-2.17zM477.62 300.09h2.17v40.26h-2.17zM479.39 285.11h2.17v1.96h-2.17zM481.16 293.43h2.17v1.96h-2.17zM481.16 300.09h2.17v10.29h-2.17zM484.71 281.78h2.17v1.96h-2.17zM484.71 290.1h2.17v1.96h-2.17zM484.71 296.76h2.17v13.62h-2.17zM486.48 288.44h2.17v1.96h-2.17zM486.48 295.1h2.17v1.96h-2.17zM486.48 298.43h2.17v1.96h-2.17zM486.48 301.76h2.17v38.59h-2.17zM490.03 280.11h2.17v5.29h-2.17z"/><path fill="#355f8d" d="M445.7 281.78h2.17v1.96h-2.17zM449.25 280.11h2.17v1.96h-2.17zM449.25 290.1h2.17v1.96h-2.17zM451.02 283.44h2.17v1.96h-2.17zM452.79 285.11h2.17v1.96h-2.17zM452.79 288.44h2.17v1.96h-2.17zM456.34 281.78h2.17v3.63h-2.17zM456.34 293.43h2.17v1.96h-2.17zM458.11 283.44h2.17v1.96h-2.17zM458.11 286.77h2.17v1.96h-2.17zM458.11 296.76h2.17v1.96h-2.17zM461.66 288.44h2.17v5.29h-2.17zM461.66 296.76h2.17v3.63h-2.17zM466.98 280.11h2.17v1.96h-2.17zM466.98 285.11h2.17v1.96h-2.17zM470.52 295.1h2.17v1.96h-2.17zM474.07 283.44h2.17v1.96h-2.17zM475.84 283.44h2.17v5.29h-2.17zM475.84 290.1h2.17v1.96h-2.17zM477.62 285.11h2.17v1.96h-2.17zM477.62 291.77h2.17v1.96h-2.17zM477.62 295.1h2.17v5.29h-2.17zM481.16 280.11h2.17v1.96h-2.17zM481.16 286.77h2.17v1.96h-2.17zM486.48 280.11h2.17v1.96h-2.17zM486.48 291.77h2.17v1.96h-2.17zM488.25 280.11h2.17v3.63h-2.17z"/><path fill="#38598c" d="M445.7 285.11h2.17v1.96h-2.17zM449.25 278.45h2.17v1.96h-2.17zM449.25 283.44h2.17v3.63h-2.17zM451.02 281.78h2.17v1.96h-2.17zM454.57 278.45h2.17v1.96h-2.17zM456.34 280.11h2.17v1.96h-2.17zM456.34 290.1h2.17v3.63h-2.17zM458.11 280.11h2.17v1.96h-2.17zM458.11 285.11h2.17v1.96h-2.17zM458.11 293.43h2.17v3.63h-2.17zM461.66 286.77h2.17v1.96h-2.17zM461.66 293.43h2.17v3.63h-2.17zM474.07 278.45h2.17v3.63h-2.17zM475.84 288.44h2.17v1.96h-2.17zM475.84 291.77h2.17v1.96h-2.17zM477.62 280.11h2.17v1.96h-2.17zM481.16 278.45h2.17v1.96h-2.17zM481.16 281.78h2.17v3.63h-2.17zM484.71 278.45h2.17v1.96h-2.17zM486.48 278.45h2.17v1.96h-2.17zM486.48 281.78h2.17v1.96h-2.17z"/><path fill="#31668e" d="M445.7 286.77h2.17v1.96h-2.17zM445.7 293.43h2.17v1.96h-2.17zM447.47 286.77h2.17v1.96h-2.17zM449.25 291.77h2.17v15.28h-2.17zM454.57 283.44h2.17v1.96h-2.17zM454.57 291.77h2.17v1.96h-2.17zM454.57 295.1h2.17v1.96h-2.17zM456.34 285.11h2.17v5.29h-2.17zM458.11 298.43h2.17v6.96h-2.17zM459.88 278.45h2.17v1.96h-2.17zM459.88 281.78h2.17v1.96h-2.17zM463.43 286.77h2.17v1.96h-2.17zM465.2 278.45h2.17v1.96h-2.17zM465.2 281.78h2.17v1.96h-2.17zM465.2 293.43h2.17v3.63h-2.17zM466.98 281.78h2.17v1.96h-2.17zM466.98 286.77h2.17v1.96h-2.17zM466.98 296.76h2.17v1.96h-2.17zM468.75 278.45h2.17v1.96h-2.17zM470.52 283.44h2.17v1.96h-2.17zM470.52 293.43h2.17v1.96h-2.17zM470.52 296.76h2.17v5.29h-2.17zM472.3 278.45h2.17v1.96h-2.17zM472.3 291.77h2.17v5.29h-2.17zM475.84 278.45h2.17v1.96h-2.17zM475.84 281.78h2.17v1.96h-2.17zM477.62 283.44h2.17v1.96h-2.17zM477.62 293.43h2.17v1.96h-2.17zM481.16 288.44h2.17v5.29h-2.17zM481.16 295.1h2.17v5.29h-2.17zM484.71 283.44h2.17v1.96h-2.17zM484.71 291.77h2.17v5.29h-2.17zM486.48 290.1h2.17v1.96h-2.17zM486.48 293.43h2.17v1.96h-2.17zM486.48 296.76h2.17v1.96h-2.17zM486.48 300.09h2.17v1.96h-2.17z"/><path fill="#2a788e" d="M445.7 288.44h2.17v1.96h-2.17zM445.7 291.77h2.17v1.96h-2.17zM447.47 285.11h2.17v1.96h-2.17zM447.47 291.77h2.17v1.96h-2.17zM451.02 293.43h2.17v1.96h-2.17zM451.02 300.09h2.17v40.26h-2.17zM452.79 281.78h2.17v1.96h-2.17zM452.79 291.77h2.17v5.29h-2.17zM454.57 286.77h2.17v1.96h-2.17zM454.57 290.1h2.17v1.96h-2.17zM458.11 290.1h2.17v1.96h-2.17zM459.88 283.44h2.17v1.96h-2.17zM463.43 295.1h2.17v3.63h-2.17zM463.43 313.41h2.17v6.96h-2.17zM465.2 283.44h2.17v3.63h-2.17zM466.98 290.1h2.17v1.96h-2.17zM468.75 281.78h2.17v1.96h-2.17zM470.52 288.44h2.17v1.96h-2.17zM472.3 283.44h2.17v5.29h-2.17zM474.07 295.1h2.17v45.25h-2.17zM479.39 291.77h2.17v1.96h-2.17zM479.39 295.1h2.17v1.96h-2.17zM482.93 286.77h2.17v5.29h-2.17zM482.93 298.43h2.17v1.96h-2.17zM482.93 331.73h2.17v8.62h-2.17zM484.71 288.44h2.17v1.96h-2.17zM486.48 285.11h2.17v3.63h-2.17zM488.25 295.1h2.17v13.62h-2.17zM488.25 318.41h2.17v21.94h-2.17zM490.03 278.45h2.17v1.96h-2.17z"/><path fill="#277e8e" d="M445.7 290.1h2.17v1.96h-2.17zM447.47 283.44h2.17v1.96h-2.17zM451.02 286.77h2.17v3.63h-2.17zM451.02 291.77h2.17v1.96h-2.17zM454.57 288.44h2.17v1.96h-2.17zM459.88 323.4h2.17v16.95h-2.17zM463.43 288.44h2.17v1.96h-2.17zM463.43 293.43h2.17v1.96h-2.17zM465.2 286.77h2.17v1.96h-2.17zM466.98 291.77h2.17v1.96h-2.17zM468.75 285.11h2.17v3.63h-2.17zM468.75 338.39h2.17v1.96h-2.17zM470.52 286.77h2.17v1.96h-2.17zM472.3 281.78h2.17v1.96h-2.17zM472.3 288.44h2.17v1.96h-2.17zM474.07 293.43h2.17v1.96h-2.17zM475.84 280.11h2.17v1.96h-2.17zM479.39 290.1h2.17v1.96h-2.17zM479.39 296.76h2.17v1.96h-2.17zM479.39 328.4h2.17v11.95h-2.17zM482.93 283.44h2.17v3.63h-2.17zM482.93 291.77h2.17v1.96h-2.17zM482.93 296.76h2.17v1.96h-2.17zM482.93 300.09h2.17v31.93h-2.17zM484.71 286.77h2.17v1.96h-2.17zM488.25 308.42h2.17v10.29h-2.17zM490.03 285.11h2.17v1.96h-2.17zM490.03 295.1h2.17v45.25h-2.17z"/><path fill="#22a884" d="M445.7 295.1h2.17v11.95h-2.17z"/><path fill="#fde725" d="M445.7 306.75h2.17v33.6h-2.17z"/><path fill="#25848e" d="M447.47 278.45h2.17v1.96h-2.17zM452.79 278.45h2.17v3.63h-2.17zM459.88 293.43h2.17v1.96h-2.17zM459.88 298.43h2.17v25.27h-2.17zM463.43 290.1h2.17v3.63h-2.17zM468.75 283.44h2.17v1.96h-2.17zM468.75 293.43h2.17v45.25h-2.17zM474.07 288.44h2.17v5.29h-2.17zM479.39 288.44h2.17v1.96h-2.17zM479.39 298.43h2.17v30.27h-2.17zM482.93 293.43h2.17v3.63h-2.17zM488.25 285.11h2.17v1.96h-2.17zM488.25 293.43h2.17v1.96h-2.17zM490.03 286.77h2.17v1.96h-2.17z"/><path fill="#21918c" d="M447.47 280.11h2.17v1.96h-2.17zM459.88 288.44h2.17v3.63h-2.17zM468.75 291.77h2.17v1.96h-2.17zM490.03 291.77h2.17v1.96h-2.17z"/><path fill="#238a8d" d="M447.47 281.78h2.17v1.96h-2.17zM451.02 290.1h2.17v1.96h-2.17zM459.88 285.11h2.17v1.96h-2.17zM459.88 291.77h2.17v1.96h-2.17zM459.88 295.1h2.17v3.63h-2.17zM468.75 288.44h2.17v1.96h-2.17zM482.93 281.78h2.17v1.96h-2.17zM490.03 288.44h2.17v1.96h-2.17zM490.03 293.43h2.17v1.96h-2.17z"/><path fill="#3b528b" d="M449.25 281.78h2.17v1.96h-2.17zM449.25 288.44h2.17v1.96h-2.17zM452.79 286.77h2.17v1.96h-2.17zM454.57 281.78h2.17v1.96h-2.17zM461.66 278.45h2.17v1.96h-2.17zM461.66 281.78h2.17v3.63h-2.17zM463.43 285.11h2.17v1.96h-2.17zM474.07 281.78h2.17v1.96h-2.17zM477.62 278.45h2.17v1.96h-2.17zM479.39 278.45h2.17v3.63h-2.17zM479.39 283.44h2.17v1.96h-2.17zM481.16 285.11h2.17v1.96h-2.17z"/><path fill="#3e4a89" d="M449.25 286.77h2.17v1.96h-2.17zM451.02 278.45h2.17v3.63h-2.17zM456.34 278.45h2.17v1.96h-2.17zM458.11 278.45h2.17v1.96h-2.17zM461.66 285.11h2.17v1.96h-2.17zM470.52 280.11h2.17v3.63h-2.17zM477.62 286.77h2.17v5.29h-2.17z"/><path fill="#443b84" d="M454.57 280.11h2.17v1.96h-2.17zM470.52 278.45h2.17v1.96h-2.17zM479.39 281.78h2.17v1.96h-2.17z"/><path fill="#1f968b" d="M459.88 286.77h2.17v1.96h-2.17zM468.75 290.1h2.17v1.96h-2.17zM482.93 278.45h2.17v1.96h-2.17zM488.25 286.77h2.17v6.96h-2.17zM490.03 290.1h2.17v1.96h-2.17z"/><path fill="#482475" d="M463.43 278.45h2.17v3.63h-2.17z"/><path fill="#481c6e" d="M463.43 281.78h2.17v1.96h-2.17z"/><path fill="#414487" d="M463.43 283.44h2.17v1.96h-2.17z"/><path fill="#1e9c89" d="M482.93 280.11h2.17v1.96h-2.17z"/></g></g>
<rect x="445.9" y="278.6" width="46.1" height="61.6" fill="none" stroke="#223" stroke-width=".4"/>
<text x="468.95" y="274.9" font-size="9.1" text-anchor="middle">a</text>
<text x="446.79" y="347.2" font-size="5.8" text-anchor="middle">a</text>
<text x="452.11" y="347.2" font-size="5.8" text-anchor="middle">d</text>
<text x="457.42" y="347.2" font-size="5.8" text-anchor="middle">g</text>
<text x="462.74" y="347.2" font-size="5.8" text-anchor="middle">j</text>
<text x="468.06" y="347.2" font-size="5.8" text-anchor="middle">m</text>
<text x="473.38" y="347.2" font-size="5.8" text-anchor="middle">p</text>
<text x="478.7" y="347.2" font-size="5.8" text-anchor="middle">s</text>
<text x="484.02" y="347.2" font-size="5.8" text-anchor="middle">v</text>
<text x="489.34" y="347.2" font-size="5.8" text-anchor="middle">y</text>
<path d="M446.79 340.2v-1.5M452.11 340.2v-1.5M457.42 340.2v-1.5M462.74 340.2v-1.5M468.06 340.2v-1.5M473.38 340.2v-1.5M478.7 340.2v-1.5M484.02 340.2v-1.5M489.34 340.2v-1.5" stroke="#111" stroke-width=".5" fill="none"/>
<clipPath id="hc8"><rect x="502.5" y="278.6" width="46.6" height="61.6"/></clipPath><g clip-path="url(#hc8)"><g filter="url(#hb)"><rect x="499.5" y="275.6" width="52.6" height="67.6" fill="#34608d"/><rect x="502.5" y="278.6" width="46.6" height="61.6" fill="#34608d"/><path fill="#2c728e" d="M502.3 278.45h1.23v1.96h-1.23zM503.13 281.78h1.23v1.96h-1.23zM504.8 278.45h1.23v1.96h-1.23zM504.8 281.78h1.23v1.96h-1.23zM505.63 281.78h1.23v3.63h-1.23zM506.46 293.43h1.23v3.63h-1.23zM508.96 285.11h1.23v1.96h-1.23zM508.96 290.1h1.23v3.63h-1.23zM510.62 290.1h1.23v3.63h-1.23zM513.12 278.45h1.23v3.63h-1.23zM515.61 291.77h1.23v1.96h-1.23zM516.45 278.45h1.23v1.96h-1.23zM517.28 286.77h1.23v1.96h-1.23zM519.77 286.77h1.23v3.63h-1.23zM521.44 278.45h1.23v5.29h-1.23zM522.27 286.77h1.23v1.96h-1.23zM523.94 280.11h1.23v1.96h-1.23zM523.94 290.1h1.23v6.96h-1.23zM524.77 283.44h1.23v1.96h-1.23zM525.6 280.11h1.23v1.96h-1.23zM527.26 286.77h1.23v3.63h-1.23zM530.59 283.44h1.23v1.96h-1.23zM531.42 283.44h1.23v1.96h-1.23zM531.42 291.77h1.23v3.63h-1.23zM532.26 280.11h1.23v1.96h-1.23zM534.75 278.45h1.23v1.96h-1.23zM534.75 281.78h1.23v1.96h-1.23zM535.59 281.78h1.23v1.96h-1.23zM536.42 285.11h1.23v1.96h-1.23zM538.08 280.11h1.23v1.96h-1.23zM543.07 281.78h1.23v1.96h-1.23zM543.91 283.44h1.23v1.96h-1.23zM544.74 278.45h1.23v1.96h-1.23zM544.74 281.78h1.23v1.96h-1.23zM545.57 285.11h1.23v1.96h-1.23zM546.4 283.44h1.23v1.96h-1.23zM548.07 283.44h1.23v3.63h-1.23z"/><path fill="#31668e" d="M502.3 280.11h1.23v3.63h-1.23zM502.3 290.1h1.23v1.96h-1.23zM502.3 293.43h1.23v3.63h-1.23zM503.13 290.1h1.23v10.29h-1.23zM503.96 280.11h1.23v1.96h-1.23zM503.96 285.11h1.23v1.96h-1.23zM503.96 296.76h1.23v5.29h-1.23zM504.8 280.11h1.23v1.96h-1.23zM504.8 286.77h1.23v1.96h-1.23zM504.8 290.1h1.23v1.96h-1.23zM504.8 295.1h1.23v1.96h-1.23zM505.63 296.76h1.23v1.96h-1.23zM506.46 296.76h1.23v3.63h-1.23zM507.29 278.45h1.23v3.63h-1.23zM507.29 290.1h1.23v3.63h-1.23zM507.29 301.76h1.23v38.59h-1.23zM508.12 278.45h1.23v1.96h-1.23zM508.12 283.44h1.23v1.96h-1.23zM508.96 280.11h1.23v5.29h-1.23zM508.96 295.1h1.23v45.25h-1.23zM510.62 293.43h1.23v46.92h-1.23zM511.45 280.11h1.23v1.96h-1.23zM511.45 290.1h1.23v3.63h-1.23zM511.45 296.76h1.23v43.59h-1.23zM512.29 281.78h1.23v1.96h-1.23zM512.29 285.11h1.23v1.96h-1.23zM513.12 288.44h1.23v3.63h-1.23zM513.95 281.78h1.23v6.96h-1.23zM513.95 293.43h1.23v6.96h-1.23zM514.78 293.43h1.23v3.63h-1.23zM514.78 298.43h1.23v3.63h-1.23zM515.61 295.1h1.23v1.96h-1.23zM516.45 288.44h1.23v5.29h-1.23zM516.45 296.76h1.23v3.63h-1.23zM517.28 280.11h1.23v1.96h-1.23zM517.28 290.1h1.23v3.63h-1.23zM517.28 296.76h1.23v1.96h-1.23zM518.11 283.44h1.23v5.29h-1.23zM518.11 290.1h1.23v6.96h-1.23zM518.94 295.1h1.23v1.96h-1.23zM519.77 278.45h1.23v1.96h-1.23zM519.77 290.1h1.23v8.62h-1.23zM519.77 300.09h1.23v40.26h-1.23zM520.61 280.11h1.23v3.63h-1.23zM520.61 285.11h1.23v1.96h-1.23zM521.44 290.1h1.23v1.96h-1.23zM521.44 298.43h1.23v1.96h-1.23zM522.27 280.11h1.23v3.63h-1.23zM522.27 290.1h1.23v1.96h-1.23zM522.27 293.43h1.23v1.96h-1.23zM522.27 298.43h1.23v3.63h-1.23zM523.1 280.11h1.23v3.63h-1.23zM523.94 300.09h1.23v40.26h-1.23zM524.77 281.78h1.23v1.96h-1.23zM524.77 288.44h1.23v3.63h-1.23zM524.77 296.76h1.23v1.96h-1.23zM524.77 301.76h1.23v38.59h-1.23zM525.6 278.45h1.23v1.96h-1.23zM525.6 281.78h1.23v3.63h-1.23zM525.6 290.1h1.23v6.96h-1.23zM526.43 286.77h1.23v1.96h-1.23zM526.43 291.77h1.23v6.96h-1.23zM527.26 285.11h1.23v1.96h-1.23zM527.26 290.1h1.23v3.63h-1.23zM527.26 295.1h1.23v1.96h-1.23zM527.26 298.43h1.23v1.96h-1.23zM528.1 280.11h1.23v3.63h-1.23zM528.93 278.45h1.23v1.96h-1.23zM528.93 290.1h1.23v1.96h-1.23zM529.76 288.44h1.23v1.96h-1.23zM529.76 291.77h1.23v3.63h-1.23zM529.76 296.76h1.23v3.63h-1.23zM530.59 281.78h1.23v1.96h-1.23zM530.59 290.1h1.23v3.63h-1.23zM531.42 285.11h1.23v1.96h-1.23zM532.26 278.45h1.23v1.96h-1.23zM533.09 278.45h1.23v3.63h-1.23zM533.92 288.44h1.23v5.29h-1.23zM534.75 283.44h1.23v1.96h-1.23zM534.75 288.44h1.23v1.96h-1.23zM534.75 291.77h1.23v1.96h-1.23zM534.75 295.1h1.23v45.25h-1.23zM536.42 286.77h1.23v3.63h-1.23zM537.25 288.44h1.23v3.63h-1.23zM537.25 293.43h1.23v1.96h-1.23zM538.08 295.1h1.23v1.96h-1.23zM538.91 280.11h1.23v1.96h-1.23zM538.91 300.09h1.23v1.96h-1.23zM539.75 286.77h1.23v5.29h-1.23zM540.58 296.76h1.23v3.63h-1.23zM541.41 291.77h1.23v3.63h-1.23zM542.24 280.11h1.23v1.96h-1.23zM543.07 278.45h1.23v1.96h-1.23zM543.07 283.44h1.23v1.96h-1.23zM543.91 288.44h1.23v1.96h-1.23zM544.74 291.77h1.23v1.96h-1.23zM544.74 298.43h1.23v3.63h-1.23zM545.57 286.77h1.23v1.96h-1.23zM545.57 293.43h1.23v1.96h-1.23zM545.57 296.76h1.23v1.96h-1.23zM546.4 285.11h1.23v1.96h-1.23zM546.4 300.09h1.23v1.96h-1.23zM548.07 280.11h1.23v1.96h-1.23zM548.07 290.1h1.23v3.63h-1.23zM548.07 296.76h1.23v43.59h-1.23z"/><path fill="#355f8d" d="M502.3 283.44h1.23v5.29h-1.23zM502.3 296.76h1.23v43.59h-1.23zM503.13 280.11h1.23v1.96h-1.23zM503.13 300.09h1.23v40.26h-1.23zM503.96 281.78h1.23v3.63h-1.23zM503.96 286.77h1.23v3.63h-1.23zM503.96 295.1h1.23v1.96h-1.23zM503.96 301.76h1.23v38.59h-1.23zM504.8 296.76h1.23v43.59h-1.23zM505.63 295.1h1.23v1.96h-1.23zM505.63 298.43h1.23v1.96h-1.23zM506.46 278.45h1.23v3.63h-1.23zM506.46 300.09h1.23v40.26h-1.23zM507.29 281.78h1.23v3.63h-1.23zM507.29 286.77h1.23v1.96h-1.23zM507.29 296.76h1.23v5.29h-1.23zM508.12 280.11h1.23v3.63h-1.23zM508.12 286.77h1.23v3.63h-1.23zM508.12 291.77h1.23v1.96h-1.23zM508.12 295.1h1.23v45.25h-1.23zM509.79 298.43h1.23v3.63h-1.23zM511.45 288.44h1.23v1.96h-1.23zM511.45 293.43h1.23v3.63h-1.23zM512.29 280.11h1.23v1.96h-1.23zM512.29 283.44h1.23v1.96h-1.23zM512.29 286.77h1.23v1.96h-1.23zM512.29 290.1h1.23v3.63h-1.23zM512.29 298.43h1.23v41.92h-1.23zM513.12 283.44h1.23v1.96h-1.23zM513.12 286.77h1.23v1.96h-1.23zM513.12 291.77h1.23v3.63h-1.23zM513.12 300.09h1.23v40.26h-1.23zM513.95 278.45h1.23v1.96h-1.23zM513.95 288.44h1.23v1.96h-1.23zM513.95 291.77h1.23v1.96h-1.23zM513.95 300.09h1.23v40.26h-1.23zM514.78 278.45h1.23v1.96h-1.23zM514.78 283.44h1.23v1.96h-1.23zM514.78 290.1h1.23v3.63h-1.23zM514.78 296.76h1.23v1.96h-1.23zM514.78 301.76h1.23v38.59h-1.23zM515.61 278.45h1.23v1.96h-1.23zM515.61 283.44h1.23v1.96h-1.23zM515.61 286.77h1.23v1.96h-1.23zM515.61 301.76h1.23v38.59h-1.23zM516.45 280.11h1.23v1.96h-1.23zM516.45 293.43h1.23v3.63h-1.23zM516.45 300.09h1.23v40.26h-1.23zM517.28 293.43h1.23v3.63h-1.23zM517.28 298.43h1.23v41.92h-1.23zM518.11 281.78h1.23v1.96h-1.23zM518.11 288.44h1.23v1.96h-1.23zM518.11 296.76h1.23v43.59h-1.23zM518.94 278.45h1.23v5.29h-1.23zM518.94 293.43h1.23v1.96h-1.23zM518.94 296.76h1.23v3.63h-1.23zM518.94 301.76h1.23v38.59h-1.23zM519.77 298.43h1.23v1.96h-1.23zM520.61 278.45h1.23v1.96h-1.23zM520.61 283.44h1.23v1.96h-1.23zM520.61 286.77h1.23v53.58h-1.23zM521.44 283.44h1.23v3.63h-1.23zM521.44 288.44h1.23v1.96h-1.23zM521.44 291.77h1.23v6.96h-1.23zM521.44 300.09h1.23v40.26h-1.23zM522.27 291.77h1.23v1.96h-1.23zM522.27 295.1h1.23v3.63h-1.23zM522.27 301.76h1.23v38.59h-1.23zM523.1 286.77h1.23v1.96h-1.23zM523.1 290.1h1.23v1.96h-1.23zM523.1 295.1h1.23v6.96h-1.23zM523.94 278.45h1.23v1.96h-1.23zM524.77 278.45h1.23v1.96h-1.23zM524.77 298.43h1.23v3.63h-1.23zM525.6 296.76h1.23v43.59h-1.23zM526.43 283.44h1.23v3.63h-1.23zM526.43 288.44h1.23v3.63h-1.23zM526.43 298.43h1.23v41.92h-1.23zM527.26 293.43h1.23v1.96h-1.23zM527.26 296.76h1.23v1.96h-1.23zM527.26 300.09h1.23v40.26h-1.23zM528.1 278.45h1.23v1.96h-1.23zM528.1 283.44h1.23v5.29h-1.23zM528.93 280.11h1.23v1.96h-1.23zM528.93 285.11h1.23v3.63h-1.23zM528.93 291.77h1.23v1.96h-1.23zM528.93 298.43h1.23v41.92h-1.23zM529.76 286.77h1.23v1.96h-1.23zM529.76 295.1h1.23v1.96h-1.23zM529.76 300.09h1.23v40.26h-1.23zM530.59 293.43h1.23v46.92h-1.23zM531.42 286.77h1.23v1.96h-1.23zM531.42 296.76h1.23v43.59h-1.23zM532.26 291.77h1.23v3.63h-1.23zM533.09 283.44h1.23v3.63h-1.23zM533.09 291.77h1.23v1.96h-1.23zM533.09 296.76h1.23v43.59h-1.23zM533.92 278.45h1.23v1.96h-1.23zM533.92 293.43h1.23v46.92h-1.23zM535.59 288.44h1.23v3.63h-1.23zM535.59 296.76h1.23v43.59h-1.23zM536.42 290.1h1.23v50.25h-1.23zM537.25 283.44h1.23v1.96h-1.23zM537.25 295.1h1.23v45.25h-1.23zM538.08 296.76h1.23v43.59h-1.23zM538.91 278.45h1.23v1.96h-1.23zM538.91 281.78h1.23v1.96h-1.23zM538.91 285.11h1.23v6.96h-1.23zM538.91 293.43h1.23v6.96h-1.23zM538.91 301.76h1.23v38.59h-1.23zM539.75 280.11h1.23v1.96h-1.23zM539.75 291.77h1.23v48.58h-1.23zM540.58 278.45h1.23v1.96h-1.23zM540.58 286.77h1.23v10.29h-1.23zM540.58 300.09h1.23v40.26h-1.23zM541.41 281.78h1.23v3.63h-1.23zM541.41 290.1h1.23v1.96h-1.23zM541.41 295.1h1.23v1.96h-1.23zM541.41 298.43h1.23v3.63h-1.23zM542.24 288.44h1.23v3.63h-1.23zM542.24 293.43h1.23v46.92h-1.23zM543.07 285.11h1.23v1.96h-1.23zM543.07 296.76h1.23v3.63h-1.23zM543.91 291.77h1.23v48.58h-1.23zM544.74 283.44h1.23v5.29h-1.23zM544.74 293.43h1.23v5.29h-1.23zM544.74 301.76h1.23v38.59h-1.23zM545.57 278.45h1.23v1.96h-1.23zM545.57 288.44h1.23v5.29h-1.23zM545.57 298.43h1.23v41.92h-1.23zM546.4 278.45h1.23v1.96h-1.23zM546.4 286.77h1.23v1.96h-1.23zM546.4 295.1h1.23v5.29h-1.23zM546.4 301.76h1.23v38.59h-1.23zM547.24 278.45h1.23v3.63h-1.23zM547.24 293.43h1.23v46.92h-1.23zM548.07 286.77h1.23v1.96h-1.23zM548.07 293.43h1.23v1.96h-1.23z"/><path fill="#38598c" d="M502.3 288.44h1.23v1.96h-1.23zM503.96 290.1h1.23v1.96h-1.23zM503.96 293.43h1.23v1.96h-1.23zM504.8 288.44h1.23v1.96h-1.23zM505.63 286.77h1.23v1.96h-1.23zM505.63 293.43h1.23v1.96h-1.23zM505.63 300.09h1.23v40.26h-1.23zM506.46 281.78h1.23v3.63h-1.23zM506.46 286.77h1.23v1.96h-1.23zM507.29 288.44h1.23v1.96h-1.23zM508.12 290.1h1.23v1.96h-1.23zM508.12 293.43h1.23v1.96h-1.23zM509.79 283.44h1.23v3.63h-1.23zM509.79 296.76h1.23v1.96h-1.23zM509.79 301.76h1.23v38.59h-1.23zM511.45 278.45h1.23v1.96h-1.23zM512.29 288.44h1.23v1.96h-1.23zM512.29 293.43h1.23v5.29h-1.23zM513.12 295.1h1.23v5.29h-1.23zM513.95 280.11h1.23v1.96h-1.23zM513.95 290.1h1.23v1.96h-1.23zM514.78 280.11h1.23v3.63h-1.23zM514.78 285.11h1.23v1.96h-1.23zM515.61 285.11h1.23v1.96h-1.23zM515.61 288.44h1.23v1.96h-1.23zM515.61 296.76h1.23v5.29h-1.23zM516.45 281.78h1.23v1.96h-1.23zM518.11 280.11h1.23v1.96h-1.23zM518.94 288.44h1.23v1.96h-1.23zM518.94 291.77h1.23v1.96h-1.23zM518.94 300.09h1.23v1.96h-1.23zM521.44 286.77h1.23v1.96h-1.23zM523.1 283.44h1.23v3.63h-1.23zM523.1 288.44h1.23v1.96h-1.23zM523.1 293.43h1.23v1.96h-1.23zM523.1 301.76h1.23v38.59h-1.23zM524.77 280.11h1.23v1.96h-1.23zM525.6 288.44h1.23v1.96h-1.23zM527.26 281.78h1.23v3.63h-1.23zM528.1 288.44h1.23v6.96h-1.23zM528.1 300.09h1.23v40.26h-1.23zM528.93 288.44h1.23v1.96h-1.23zM528.93 293.43h1.23v5.29h-1.23zM529.76 285.11h1.23v1.96h-1.23zM530.59 278.45h1.23v3.63h-1.23zM531.42 288.44h1.23v1.96h-1.23zM532.26 285.11h1.23v1.96h-1.23zM532.26 288.44h1.23v3.63h-1.23zM532.26 295.1h1.23v45.25h-1.23zM533.09 290.1h1.23v1.96h-1.23zM533.09 293.43h1.23v3.63h-1.23zM533.92 283.44h1.23v5.29h-1.23zM535.59 291.77h1.23v5.29h-1.23zM537.25 281.78h1.23v1.96h-1.23zM537.25 285.11h1.23v3.63h-1.23zM538.91 283.44h1.23v1.96h-1.23zM538.91 291.77h1.23v1.96h-1.23zM539.75 285.11h1.23v1.96h-1.23zM540.58 280.11h1.23v1.96h-1.23zM540.58 283.44h1.23v3.63h-1.23zM541.41 280.11h1.23v1.96h-1.23zM541.41 288.44h1.23v1.96h-1.23zM541.41 296.76h1.23v1.96h-1.23zM541.41 301.76h1.23v38.59h-1.23zM542.24 278.45h1.23v1.96h-1.23zM542.24 281.78h1.23v1.96h-1.23zM542.24 286.77h1.23v1.96h-1.23zM542.24 291.77h1.23v1.96h-1.23zM543.07 286.77h1.23v3.63h-1.23zM543.07 295.1h1.23v1.96h-1.23zM543.07 300.09h1.23v40.26h-1.23zM543.91 290.1h1.23v1.96h-1.23zM546.4 288.44h1.23v6.96h-1.23zM547.24 281.78h1.23v3.63h-1.23zM547.24 288.44h1.23v5.29h-1.23zM548.07 295.1h1.23v1.96h-1.23z"/><path fill="#2f6c8e" d="M502.3 291.77h1.23v1.96h-1.23zM503.13 285.11h1.23v5.29h-1.23zM503.96 278.45h1.23v1.96h-1.23zM504.8 283.44h1.23v3.63h-1.23zM504.8 291.77h1.23v3.63h-1.23zM505.63 285.11h1.23v1.96h-1.23zM506.46 288.44h1.23v5.29h-1.23zM507.29 293.43h1.23v3.63h-1.23zM508.12 285.11h1.23v1.96h-1.23zM508.96 278.45h1.23v1.96h-1.23zM508.96 286.77h1.23v3.63h-1.23zM508.96 293.43h1.23v1.96h-1.23zM511.45 281.78h1.23v6.96h-1.23zM513.12 281.78h1.23v1.96h-1.23zM515.61 290.1h1.23v1.96h-1.23zM515.61 293.43h1.23v1.96h-1.23zM517.28 278.45h1.23v1.96h-1.23zM517.28 281.78h1.23v5.29h-1.23zM517.28 288.44h1.23v1.96h-1.23zM518.94 283.44h1.23v5.29h-1.23zM522.27 278.45h1.23v1.96h-1.23zM522.27 283.44h1.23v3.63h-1.23zM522.27 288.44h1.23v1.96h-1.23zM523.1 278.45h1.23v1.96h-1.23zM523.94 296.76h1.23v3.63h-1.23zM524.77 285.11h1.23v3.63h-1.23zM524.77 291.77h1.23v5.29h-1.23zM528.93 281.78h1.23v3.63h-1.23zM529.76 283.44h1.23v1.96h-1.23zM529.76 290.1h1.23v1.96h-1.23zM530.59 285.11h1.23v5.29h-1.23zM531.42 278.45h1.23v1.96h-1.23zM531.42 290.1h1.23v1.96h-1.23zM531.42 295.1h1.23v1.96h-1.23zM532.26 281.78h1.23v3.63h-1.23zM533.09 281.78h1.23v1.96h-1.23zM534.75 280.11h1.23v1.96h-1.23zM534.75 285.11h1.23v3.63h-1.23zM534.75 290.1h1.23v1.96h-1.23zM534.75 293.43h1.23v1.96h-1.23zM535.59 283.44h1.23v5.29h-1.23zM537.25 278.45h1.23v3.63h-1.23zM537.25 291.77h1.23v1.96h-1.23zM538.08 278.45h1.23v1.96h-1.23zM538.08 281.78h1.23v1.96h-1.23zM539.75 278.45h1.23v1.96h-1.23zM543.07 280.11h1.23v1.96h-1.23zM543.91 278.45h1.23v3.63h-1.23zM543.91 285.11h1.23v3.63h-1.23zM544.74 288.44h1.23v3.63h-1.23zM545.57 280.11h1.23v5.29h-1.23zM545.57 295.1h1.23v1.96h-1.23zM546.4 280.11h1.23v3.63h-1.23zM548.07 278.45h1.23v1.96h-1.23zM548.07 281.78h1.23v1.96h-1.23zM548.07 288.44h1.23v1.96h-1.23z"/><path fill="#3b528b" d="M503.13 278.45h1.23v1.96h-1.23zM503.96 291.77h1.23v1.96h-1.23zM506.46 285.11h1.23v1.96h-1.23zM507.29 285.11h1.23v1.96h-1.23zM509.79 280.11h1.23v3.63h-1.23zM509.79 288.44h1.23v1.96h-1.23zM509.79 291.77h1.23v1.96h-1.23zM509.79 295.1h1.23v1.96h-1.23zM513.12 285.11h1.23v1.96h-1.23zM514.78 286.77h1.23v3.63h-1.23zM515.61 280.11h1.23v3.63h-1.23zM516.45 286.77h1.23v1.96h-1.23zM518.11 278.45h1.23v1.96h-1.23zM518.94 290.1h1.23v1.96h-1.23zM523.1 291.77h1.23v1.96h-1.23zM526.43 278.45h1.23v1.96h-1.23zM528.1 295.1h1.23v5.29h-1.23zM532.26 286.77h1.23v1.96h-1.23zM533.09 286.77h1.23v3.63h-1.23zM533.92 281.78h1.23v1.96h-1.23zM539.75 281.78h1.23v3.63h-1.23zM540.58 281.78h1.23v1.96h-1.23zM541.41 278.45h1.23v1.96h-1.23zM542.24 283.44h1.23v3.63h-1.23zM543.07 290.1h1.23v5.29h-1.23zM547.24 285.11h1.23v3.63h-1.23z"/><path fill="#2a788e" d="M503.13 283.44h1.23v1.96h-1.23zM505.63 278.45h1.23v1.96h-1.23zM510.62 278.45h1.23v3.63h-1.23zM510.62 283.44h1.23v5.29h-1.23zM519.77 280.11h1.23v6.96h-1.23zM523.94 281.78h1.23v1.96h-1.23zM523.94 288.44h1.23v1.96h-1.23zM529.76 278.45h1.23v1.96h-1.23zM529.76 281.78h1.23v1.96h-1.23zM531.42 280.11h1.23v1.96h-1.23zM535.59 278.45h1.23v1.96h-1.23zM536.42 281.78h1.23v3.63h-1.23zM543.91 281.78h1.23v1.96h-1.23zM544.74 280.11h1.23v1.96h-1.23z"/><path fill="#277e8e" d="M505.63 280.11h1.23v1.96h-1.23zM510.62 281.78h1.23v1.96h-1.23zM510.62 288.44h1.23v1.96h-1.23zM523.94 283.44h1.23v3.63h-1.23zM529.76 280.11h1.23v1.96h-1.23zM531.42 281.78h1.23v1.96h-1.23zM535.59 280.11h1.23v1.96h-1.23zM536.42 278.45h1.23v3.63h-1.23z"/><path fill="#3e4a89" d="M505.63 288.44h1.23v3.63h-1.23zM509.79 278.45h1.23v1.96h-1.23zM509.79 286.77h1.23v1.96h-1.23zM509.79 290.1h1.23v1.96h-1.23zM509.79 293.43h1.23v1.96h-1.23zM512.29 278.45h1.23v1.96h-1.23zM516.45 285.11h1.23v1.96h-1.23zM525.6 285.11h1.23v3.63h-1.23zM526.43 281.78h1.23v1.96h-1.23zM533.92 280.11h1.23v1.96h-1.23zM541.41 285.11h1.23v3.63h-1.23z"/><path fill="#414487" d="M505.63 291.77h1.23v1.96h-1.23zM516.45 283.44h1.23v1.96h-1.23zM526.43 280.11h1.23v1.96h-1.23zM527.26 278.45h1.23v1.96h-1.23z"/><path fill="#25848e" d="M523.94 286.77h1.23v1.96h-1.23z"/><path fill="#443b84" d="M527.26 280.11h1.23v1.96h-1.23z"/><path fill="#1e9c89" d="M538.08 283.44h1.23v11.95h-1.23z"/></g></g>
<rect x="538.2" y="295.25" width="1" height="44.95" fill="#e6dc35"/>
<rect x="502.5" y="278.6" width="46.6" height="61.6" fill="none" stroke="#223" stroke-width=".4"/>
<text x="525.8" y="274.9" font-size="9.1" text-anchor="middle">43</text>
<text x="502.92" y="347.2" font-size="5.8" text-anchor="middle">0</text>
<text x="511.24" y="347.2" font-size="5.8" text-anchor="middle">10</text>
<text x="519.56" y="347.2" font-size="5.8" text-anchor="middle">20</text>
<text x="527.88" y="347.2" font-size="5.8" text-anchor="middle">30</text>
<text x="536.2" y="347.2" font-size="5.8" text-anchor="middle">40</text>
<text x="544.52" y="347.2" font-size="5.8" text-anchor="middle">50</text>
<path d="M502.92 340.2v-1.5M511.24 340.2v-1.5M519.56 340.2v-1.5M527.88 340.2v-1.5M536.2 340.2v-1.5M544.52 340.2v-1.5" stroke="#111" stroke-width=".5" fill="none"/>
<clipPath id="hc9"><rect x="559.5" y="278.6" width="46.3" height="61.6"/></clipPath><g clip-path="url(#hc9)"><g filter="url(#hb)"><rect x="556.5" y="275.6" width="52.3" height="67.6" fill="#38588c"/><rect x="559.5" y="278.6" width="46.3" height="61.6" fill="#38588c"/><path fill="#31668e" d="M559.3 278.45h1.23v1.96h-1.23zM559.3 281.78h1.23v1.96h-1.23zM560.95 278.45h1.23v1.96h-1.23zM561.78 283.44h1.23v1.96h-1.23zM561.78 290.1h1.23v1.96h-1.23zM562.61 286.77h1.23v1.96h-1.23zM565.91 283.44h1.23v1.96h-1.23zM565.91 288.44h1.23v3.63h-1.23zM566.74 288.44h1.23v3.63h-1.23zM567.57 283.44h1.23v3.63h-1.23zM567.57 290.1h1.23v3.63h-1.23zM568.39 278.45h1.23v3.63h-1.23zM568.39 291.77h1.23v3.63h-1.23zM569.22 281.78h1.23v1.96h-1.23zM569.22 285.11h1.23v3.63h-1.23zM570.05 285.11h1.23v3.63h-1.23zM570.05 290.1h1.23v1.96h-1.23zM570.88 291.77h1.23v3.63h-1.23zM571.7 281.78h1.23v1.96h-1.23zM571.7 288.44h1.23v3.63h-1.23zM572.53 286.77h1.23v1.96h-1.23zM575.84 285.11h1.23v1.96h-1.23zM577.49 283.44h1.23v1.96h-1.23zM577.49 288.44h1.23v1.96h-1.23zM578.32 283.44h1.23v1.96h-1.23zM578.32 290.1h1.23v1.96h-1.23zM578.32 295.1h1.23v1.96h-1.23zM579.14 285.11h1.23v1.96h-1.23zM579.97 281.78h1.23v1.96h-1.23zM580.8 283.44h1.23v1.96h-1.23zM581.62 285.11h1.23v1.96h-1.23zM582.45 288.44h1.23v1.96h-1.23zM584.1 283.44h1.23v3.63h-1.23zM584.1 288.44h1.23v1.96h-1.23zM584.93 283.44h1.23v1.96h-1.23zM584.93 293.43h1.23v1.96h-1.23zM584.93 296.76h1.23v1.96h-1.23zM586.58 286.77h1.23v1.96h-1.23zM587.41 286.77h1.23v1.96h-1.23zM587.41 293.43h1.23v1.96h-1.23zM588.24 293.43h1.23v3.63h-1.23zM589.06 283.44h1.23v1.96h-1.23zM590.72 283.44h1.23v1.96h-1.23zM590.72 291.77h1.23v1.96h-1.23zM592.37 278.45h1.23v1.96h-1.23zM593.2 278.45h1.23v3.63h-1.23zM593.2 283.44h1.23v1.96h-1.23zM593.2 291.77h1.23v5.29h-1.23zM594.02 293.43h1.23v1.96h-1.23zM594.85 288.44h1.23v3.63h-1.23zM594.85 293.43h1.23v1.96h-1.23zM596.51 278.45h1.23v1.96h-1.23zM597.33 283.44h1.23v1.96h-1.23zM597.33 290.1h1.23v1.96h-1.23zM598.99 281.78h1.23v1.96h-1.23zM599.81 278.45h1.23v1.96h-1.23zM599.81 283.44h1.23v1.96h-1.23zM601.47 278.45h1.23v1.96h-1.23zM601.47 283.44h1.23v1.96h-1.23zM602.29 278.45h1.23v1.96h-1.23zM603.95 285.11h1.23v1.96h-1.23z"/><path fill="#2f6c8e" d="M559.3 280.11h1.23v1.96h-1.23zM563.43 283.44h1.23v1.96h-1.23zM566.74 280.11h1.23v1.96h-1.23zM567.57 286.77h1.23v3.63h-1.23zM568.39 286.77h1.23v5.29h-1.23zM569.22 283.44h1.23v1.96h-1.23zM570.05 288.44h1.23v1.96h-1.23zM570.88 286.77h1.23v5.29h-1.23zM573.36 280.11h1.23v1.96h-1.23zM573.36 291.77h1.23v1.96h-1.23zM575.84 286.77h1.23v1.96h-1.23zM576.66 278.45h1.23v3.63h-1.23zM577.49 285.11h1.23v3.63h-1.23zM579.97 278.45h1.23v1.96h-1.23zM581.62 278.45h1.23v3.63h-1.23zM581.62 283.44h1.23v1.96h-1.23zM582.45 278.45h1.23v1.96h-1.23zM584.1 281.78h1.23v1.96h-1.23zM584.93 285.11h1.23v1.96h-1.23zM587.41 288.44h1.23v1.96h-1.23zM587.41 291.77h1.23v1.96h-1.23zM589.89 278.45h1.23v3.63h-1.23zM590.72 278.45h1.23v5.29h-1.23zM591.54 278.45h1.23v1.96h-1.23zM591.54 283.44h1.23v1.96h-1.23zM593.2 281.78h1.23v1.96h-1.23zM594.85 278.45h1.23v1.96h-1.23zM594.85 291.77h1.23v1.96h-1.23zM597.33 278.45h1.23v3.63h-1.23zM597.33 291.77h1.23v5.29h-1.23zM598.16 286.77h1.23v1.96h-1.23zM598.99 280.11h1.23v1.96h-1.23zM600.64 278.45h1.23v3.63h-1.23zM602.29 280.11h1.23v5.29h-1.23zM603.95 283.44h1.23v1.96h-1.23z"/><path fill="#355f8d" d="M559.3 283.44h1.23v1.96h-1.23zM559.3 296.76h1.23v5.29h-1.23zM560.13 285.11h1.23v1.96h-1.23zM560.13 295.1h1.23v3.63h-1.23zM560.95 280.11h1.23v1.96h-1.23zM561.78 281.78h1.23v1.96h-1.23zM561.78 291.77h1.23v1.96h-1.23zM561.78 295.1h1.23v1.96h-1.23zM562.61 288.44h1.23v1.96h-1.23zM562.61 296.76h1.23v1.96h-1.23zM563.43 285.11h1.23v1.96h-1.23zM563.43 288.44h1.23v3.63h-1.23zM564.26 285.11h1.23v1.96h-1.23zM565.09 293.43h1.23v1.96h-1.23zM565.91 281.78h1.23v1.96h-1.23zM565.91 285.11h1.23v3.63h-1.23zM565.91 291.77h1.23v1.96h-1.23zM566.74 291.77h1.23v1.96h-1.23zM567.57 281.78h1.23v1.96h-1.23zM567.57 293.43h1.23v5.29h-1.23zM568.39 281.78h1.23v5.29h-1.23zM569.22 290.1h1.23v1.96h-1.23zM569.22 298.43h1.23v3.63h-1.23zM570.05 280.11h1.23v1.96h-1.23zM570.05 283.44h1.23v1.96h-1.23zM570.05 291.77h1.23v1.96h-1.23zM570.05 295.1h1.23v1.96h-1.23zM570.88 285.11h1.23v1.96h-1.23zM570.88 295.1h1.23v1.96h-1.23zM571.7 283.44h1.23v5.29h-1.23zM571.7 291.77h1.23v3.63h-1.23zM571.7 296.76h1.23v3.63h-1.23zM572.53 278.45h1.23v8.62h-1.23zM572.53 288.44h1.23v1.96h-1.23zM572.53 291.77h1.23v10.29h-1.23zM573.36 278.45h1.23v1.96h-1.23zM573.36 288.44h1.23v1.96h-1.23zM573.36 293.43h1.23v3.63h-1.23zM574.18 280.11h1.23v5.29h-1.23zM574.18 288.44h1.23v5.29h-1.23zM575.01 295.1h1.23v5.29h-1.23zM575.84 288.44h1.23v3.63h-1.23zM577.49 278.45h1.23v1.96h-1.23zM577.49 281.78h1.23v1.96h-1.23zM578.32 285.11h1.23v5.29h-1.23zM578.32 293.43h1.23v1.96h-1.23zM578.32 296.76h1.23v1.96h-1.23zM579.14 283.44h1.23v1.96h-1.23zM579.14 286.77h1.23v1.96h-1.23zM579.14 293.43h1.23v3.63h-1.23zM579.97 283.44h1.23v1.96h-1.23zM579.97 295.1h1.23v3.63h-1.23zM580.8 281.78h1.23v1.96h-1.23zM580.8 291.77h1.23v1.96h-1.23zM581.62 286.77h1.23v1.96h-1.23zM582.45 281.78h1.23v3.63h-1.23zM582.45 286.77h1.23v1.96h-1.23zM582.45 290.1h1.23v1.96h-1.23zM583.28 291.77h1.23v1.96h-1.23zM584.1 286.77h1.23v1.96h-1.23zM584.1 290.1h1.23v1.96h-1.23zM584.1 296.76h1.23v1.96h-1.23zM584.93 286.77h1.23v3.63h-1.23zM584.93 291.77h1.23v1.96h-1.23zM584.93 295.1h1.23v1.96h-1.23zM584.93 298.43h1.23v41.92h-1.23zM585.76 283.44h1.23v1.96h-1.23zM585.76 286.77h1.23v1.96h-1.23zM586.58 285.11h1.23v1.96h-1.23zM586.58 288.44h1.23v1.96h-1.23zM586.58 293.43h1.23v3.63h-1.23zM587.41 295.1h1.23v1.96h-1.23zM588.24 290.1h1.23v3.63h-1.23zM588.24 296.76h1.23v3.63h-1.23zM589.06 281.78h1.23v1.96h-1.23zM589.06 285.11h1.23v1.96h-1.23zM589.89 281.78h1.23v1.96h-1.23zM590.72 288.44h1.23v3.63h-1.23zM590.72 293.43h1.23v1.96h-1.23zM591.54 285.11h1.23v1.96h-1.23zM591.54 301.76h1.23v38.59h-1.23zM592.37 281.78h1.23v1.96h-1.23zM593.2 290.1h1.23v1.96h-1.23zM593.2 296.76h1.23v3.63h-1.23zM594.02 278.45h1.23v3.63h-1.23zM594.02 283.44h1.23v10.29h-1.23zM594.02 295.1h1.23v3.63h-1.23zM594.85 280.11h1.23v1.96h-1.23zM594.85 283.44h1.23v5.29h-1.23zM594.85 295.1h1.23v3.63h-1.23zM595.68 278.45h1.23v1.96h-1.23zM595.68 295.1h1.23v3.63h-1.23zM596.51 280.11h1.23v1.96h-1.23zM597.33 285.11h1.23v3.63h-1.23zM597.33 296.76h1.23v43.59h-1.23zM598.16 285.11h1.23v1.96h-1.23zM598.16 288.44h1.23v3.63h-1.23zM598.99 278.45h1.23v1.96h-1.23zM598.99 283.44h1.23v5.29h-1.23zM599.81 285.11h1.23v1.96h-1.23zM599.81 295.1h1.23v3.63h-1.23zM600.64 281.78h1.23v1.96h-1.23zM600.64 290.1h1.23v5.29h-1.23zM601.47 280.11h1.23v3.63h-1.23zM602.29 285.11h1.23v1.96h-1.23zM603.95 281.78h1.23v1.96h-1.23zM604.77 281.78h1.23v3.63h-1.23zM604.77 286.77h1.23v3.63h-1.23z"/><path fill="#38598c" d="M559.3 285.11h1.23v11.95h-1.23zM559.3 301.76h1.23v38.59h-1.23zM560.13 286.77h1.23v1.96h-1.23zM560.13 293.43h1.23v1.96h-1.23zM560.13 298.43h1.23v41.92h-1.23zM560.95 290.1h1.23v3.63h-1.23zM560.95 295.1h1.23v45.25h-1.23zM561.78 280.11h1.23v1.96h-1.23zM561.78 293.43h1.23v1.96h-1.23zM561.78 296.76h1.23v43.59h-1.23zM562.61 295.1h1.23v1.96h-1.23zM562.61 298.43h1.23v41.92h-1.23zM563.43 278.45h1.23v1.96h-1.23zM563.43 286.77h1.23v1.96h-1.23zM563.43 291.77h1.23v48.58h-1.23zM564.26 286.77h1.23v1.96h-1.23zM565.09 295.1h1.23v45.25h-1.23zM565.91 278.45h1.23v3.63h-1.23zM565.91 293.43h1.23v46.92h-1.23zM566.74 286.77h1.23v1.96h-1.23zM566.74 293.43h1.23v46.92h-1.23zM567.57 280.11h1.23v1.96h-1.23zM567.57 298.43h1.23v41.92h-1.23zM568.39 295.1h1.23v45.25h-1.23zM569.22 278.45h1.23v3.63h-1.23zM569.22 288.44h1.23v1.96h-1.23zM569.22 291.77h1.23v6.96h-1.23zM569.22 301.76h1.23v38.59h-1.23zM570.05 281.78h1.23v1.96h-1.23zM570.05 293.43h1.23v1.96h-1.23zM570.05 296.76h1.23v43.59h-1.23zM570.88 281.78h1.23v1.96h-1.23zM570.88 296.76h1.23v43.59h-1.23zM571.7 295.1h1.23v1.96h-1.23zM571.7 300.09h1.23v40.26h-1.23zM572.53 290.1h1.23v1.96h-1.23zM572.53 301.76h1.23v38.59h-1.23zM573.36 296.76h1.23v43.59h-1.23zM574.18 278.45h1.23v1.96h-1.23zM574.18 285.11h1.23v3.63h-1.23zM574.18 293.43h1.23v1.96h-1.23zM574.18 298.43h1.23v41.92h-1.23zM575.01 278.45h1.23v1.96h-1.23zM575.01 293.43h1.23v1.96h-1.23zM575.01 300.09h1.23v40.26h-1.23zM575.84 291.77h1.23v1.96h-1.23zM575.84 295.1h1.23v1.96h-1.23zM575.84 300.09h1.23v40.26h-1.23zM576.66 281.78h1.23v1.96h-1.23zM576.66 293.43h1.23v46.92h-1.23zM577.49 290.1h1.23v1.96h-1.23zM577.49 298.43h1.23v41.92h-1.23zM578.32 291.77h1.23v1.96h-1.23zM578.32 298.43h1.23v41.92h-1.23zM579.14 291.77h1.23v1.96h-1.23zM579.14 296.76h1.23v43.59h-1.23zM579.97 293.43h1.23v1.96h-1.23zM579.97 298.43h1.23v41.92h-1.23zM580.8 280.11h1.23v1.96h-1.23zM580.8 285.11h1.23v1.96h-1.23zM580.8 288.44h1.23v3.63h-1.23zM580.8 293.43h1.23v1.96h-1.23zM581.62 288.44h1.23v1.96h-1.23zM581.62 291.77h1.23v1.96h-1.23zM581.62 295.1h1.23v3.63h-1.23zM581.62 301.76h1.23v38.59h-1.23zM582.45 285.11h1.23v1.96h-1.23zM582.45 291.77h1.23v1.96h-1.23zM582.45 301.76h1.23v38.59h-1.23zM583.28 288.44h1.23v3.63h-1.23zM583.28 293.43h1.23v1.96h-1.23zM584.1 293.43h1.23v3.63h-1.23zM584.1 298.43h1.23v1.96h-1.23zM584.93 280.11h1.23v3.63h-1.23zM584.93 290.1h1.23v1.96h-1.23zM585.76 285.11h1.23v1.96h-1.23zM585.76 288.44h1.23v3.63h-1.23zM586.58 283.44h1.23v1.96h-1.23zM586.58 290.1h1.23v1.96h-1.23zM586.58 296.76h1.23v43.59h-1.23zM587.41 296.76h1.23v43.59h-1.23zM588.24 285.11h1.23v1.96h-1.23zM588.24 300.09h1.23v40.26h-1.23zM589.06 278.45h1.23v1.96h-1.23zM589.06 286.77h1.23v5.29h-1.23zM589.06 296.76h1.23v43.59h-1.23zM589.89 296.76h1.23v43.59h-1.23zM590.72 286.77h1.23v1.96h-1.23zM590.72 298.43h1.23v41.92h-1.23zM592.37 280.11h1.23v1.96h-1.23zM592.37 285.11h1.23v1.96h-1.23zM592.37 288.44h1.23v1.96h-1.23zM592.37 291.77h1.23v10.29h-1.23zM593.2 285.11h1.23v5.29h-1.23zM593.2 300.09h1.23v40.26h-1.23zM594.02 281.78h1.23v1.96h-1.23zM594.02 298.43h1.23v3.63h-1.23zM594.85 298.43h1.23v41.92h-1.23zM595.68 280.11h1.23v1.96h-1.23zM595.68 298.43h1.23v41.92h-1.23zM596.51 281.78h1.23v1.96h-1.23zM596.51 285.11h1.23v1.96h-1.23zM597.33 288.44h1.23v1.96h-1.23zM598.16 278.45h1.23v1.96h-1.23zM598.16 291.77h1.23v48.58h-1.23zM598.99 288.44h1.23v1.96h-1.23zM598.99 298.43h1.23v1.96h-1.23zM599.81 286.77h1.23v8.62h-1.23zM599.81 298.43h1.23v41.92h-1.23zM600.64 283.44h1.23v1.96h-1.23zM600.64 288.44h1.23v1.96h-1.23zM600.64 295.1h1.23v3.63h-1.23zM600.64 301.76h1.23v38.59h-1.23zM601.47 285.11h1.23v1.96h-1.23zM601.47 288.44h1.23v1.96h-1.23zM601.47 291.77h1.23v48.58h-1.23zM602.29 291.77h1.23v10.29h-1.23zM603.12 288.44h1.23v6.96h-1.23zM603.95 291.77h1.23v1.96h-1.23zM604.77 278.45h1.23v1.96h-1.23zM604.77 285.11h1.23v1.96h-1.23zM604.77 290.1h1.23v1.96h-1.23zM604.77 298.43h1.23v41.92h-1.23z"/><path fill="#3e4a89" d="M560.13 278.45h1.23v3.63h-1.23zM560.13 288.44h1.23v3.63h-1.23zM560.95 285.11h1.23v3.63h-1.23zM561.78 278.45h1.23v1.96h-1.23zM562.61 291.77h1.23v1.96h-1.23zM564.26 281.78h1.23v1.96h-1.23zM565.09 278.45h1.23v1.96h-1.23zM565.09 283.44h1.23v3.63h-1.23zM565.09 288.44h1.23v3.63h-1.23zM573.36 285.11h1.23v1.96h-1.23zM575.01 283.44h1.23v1.96h-1.23zM575.01 288.44h1.23v5.29h-1.23zM576.66 286.77h1.23v1.96h-1.23zM577.49 291.77h1.23v1.96h-1.23zM577.49 295.1h1.23v3.63h-1.23zM579.14 281.78h1.23v1.96h-1.23zM579.14 290.1h1.23v1.96h-1.23zM579.97 291.77h1.23v1.96h-1.23zM580.8 278.45h1.23v1.96h-1.23zM580.8 286.77h1.23v1.96h-1.23zM583.28 281.78h1.23v1.96h-1.23zM583.28 285.11h1.23v1.96h-1.23zM583.28 300.09h1.23v1.96h-1.23zM584.93 278.45h1.23v1.96h-1.23zM585.76 293.43h1.23v3.63h-1.23zM588.24 280.11h1.23v5.29h-1.23zM589.89 286.77h1.23v1.96h-1.23zM589.89 290.1h1.23v1.96h-1.23zM589.89 293.43h1.23v1.96h-1.23zM595.68 281.78h1.23v1.96h-1.23zM595.68 285.11h1.23v3.63h-1.23zM595.68 291.77h1.23v1.96h-1.23zM598.16 281.78h1.23v1.96h-1.23zM598.99 290.1h1.23v1.96h-1.23zM598.99 293.43h1.23v1.96h-1.23zM600.64 285.11h1.23v3.63h-1.23zM601.47 290.1h1.23v1.96h-1.23zM602.29 288.44h1.23v1.96h-1.23zM603.12 280.11h1.23v1.96h-1.23zM603.12 283.44h1.23v3.63h-1.23zM603.12 295.1h1.23v1.96h-1.23zM603.12 298.43h1.23v1.96h-1.23zM603.95 278.45h1.23v3.63h-1.23zM603.95 286.77h1.23v1.96h-1.23zM603.95 295.1h1.23v45.25h-1.23zM604.77 293.43h1.23v3.63h-1.23z"/><path fill="#414487" d="M560.13 281.78h1.23v1.96h-1.23zM565.09 280.11h1.23v1.96h-1.23zM565.09 286.77h1.23v1.96h-1.23zM570.88 278.45h1.23v1.96h-1.23zM575.84 281.78h1.23v1.96h-1.23zM577.49 293.43h1.23v1.96h-1.23zM579.97 286.77h1.23v1.96h-1.23zM579.97 290.1h1.23v1.96h-1.23zM583.28 280.11h1.23v1.96h-1.23zM585.76 280.11h1.23v1.96h-1.23zM587.41 280.11h1.23v5.29h-1.23zM589.89 291.77h1.23v1.96h-1.23zM595.68 283.44h1.23v1.96h-1.23zM595.68 288.44h1.23v3.63h-1.23zM598.99 291.77h1.23v1.96h-1.23zM603.12 281.78h1.23v1.96h-1.23zM603.95 288.44h1.23v1.96h-1.23z"/><path fill="#3b528b" d="M560.13 283.44h1.23v1.96h-1.23zM560.13 291.77h1.23v1.96h-1.23zM560.95 281.78h1.23v3.63h-1.23zM560.95 288.44h1.23v1.96h-1.23zM560.95 293.43h1.23v1.96h-1.23zM561.78 285.11h1.23v5.29h-1.23zM562.61 290.1h1.23v1.96h-1.23zM562.61 293.43h1.23v1.96h-1.23zM564.26 283.44h1.23v1.96h-1.23zM564.26 288.44h1.23v51.91h-1.23zM565.09 291.77h1.23v1.96h-1.23zM566.74 281.78h1.23v5.29h-1.23zM567.57 278.45h1.23v1.96h-1.23zM570.88 280.11h1.23v1.96h-1.23zM570.88 283.44h1.23v1.96h-1.23zM573.36 281.78h1.23v3.63h-1.23zM573.36 286.77h1.23v1.96h-1.23zM574.18 295.1h1.23v3.63h-1.23zM575.01 280.11h1.23v3.63h-1.23zM575.01 285.11h1.23v3.63h-1.23zM575.84 283.44h1.23v1.96h-1.23zM575.84 293.43h1.23v1.96h-1.23zM575.84 296.76h1.23v3.63h-1.23zM576.66 283.44h1.23v3.63h-1.23zM576.66 288.44h1.23v5.29h-1.23zM577.49 280.11h1.23v1.96h-1.23zM579.14 278.45h1.23v3.63h-1.23zM579.14 288.44h1.23v1.96h-1.23zM579.97 285.11h1.23v1.96h-1.23zM580.8 295.1h1.23v45.25h-1.23zM581.62 290.1h1.23v1.96h-1.23zM581.62 293.43h1.23v1.96h-1.23zM581.62 298.43h1.23v3.63h-1.23zM582.45 293.43h1.23v8.62h-1.23zM583.28 278.45h1.23v1.96h-1.23zM583.28 283.44h1.23v1.96h-1.23zM583.28 286.77h1.23v1.96h-1.23zM583.28 295.1h1.23v5.29h-1.23zM583.28 301.76h1.23v38.59h-1.23zM584.1 291.77h1.23v1.96h-1.23zM584.1 300.09h1.23v40.26h-1.23zM585.76 278.45h1.23v1.96h-1.23zM585.76 281.78h1.23v1.96h-1.23zM585.76 291.77h1.23v1.96h-1.23zM585.76 296.76h1.23v43.59h-1.23zM586.58 278.45h1.23v5.29h-1.23zM586.58 291.77h1.23v1.96h-1.23zM587.41 278.45h1.23v1.96h-1.23zM587.41 285.11h1.23v1.96h-1.23zM588.24 278.45h1.23v1.96h-1.23zM588.24 286.77h1.23v3.63h-1.23zM589.06 280.11h1.23v1.96h-1.23zM589.06 291.77h1.23v5.29h-1.23zM589.89 283.44h1.23v3.63h-1.23zM589.89 288.44h1.23v1.96h-1.23zM589.89 295.1h1.23v1.96h-1.23zM590.72 285.11h1.23v1.96h-1.23zM590.72 295.1h1.23v3.63h-1.23zM592.37 283.44h1.23v1.96h-1.23zM592.37 286.77h1.23v1.96h-1.23zM592.37 290.1h1.23v1.96h-1.23zM592.37 301.76h1.23v38.59h-1.23zM594.02 301.76h1.23v38.59h-1.23zM594.85 281.78h1.23v1.96h-1.23zM595.68 293.43h1.23v1.96h-1.23zM596.51 283.44h1.23v1.96h-1.23zM596.51 286.77h1.23v53.58h-1.23zM598.16 280.11h1.23v1.96h-1.23zM598.16 283.44h1.23v1.96h-1.23zM598.99 295.1h1.23v3.63h-1.23zM598.99 300.09h1.23v40.26h-1.23zM600.64 298.43h1.23v3.63h-1.23zM601.47 286.77h1.23v1.96h-1.23zM602.29 286.77h1.23v1.96h-1.23zM602.29 290.1h1.23v1.96h-1.23zM602.29 301.76h1.23v38.59h-1.23zM603.12 278.45h1.23v1.96h-1.23zM603.12 286.77h1.23v1.96h-1.23zM603.12 296.76h1.23v1.96h-1.23zM603.12 300.09h1.23v40.26h-1.23zM603.95 290.1h1.23v1.96h-1.23zM603.95 293.43h1.23v1.96h-1.23zM604.77 280.11h1.23v1.96h-1.23zM604.77 291.77h1.23v1.96h-1.23zM604.77 296.76h1.23v1.96h-1.23z"/><path fill="#25848e" d="M562.61 278.45h1.23v5.29h-1.23z"/><path fill="#2a788e" d="M562.61 283.44h1.23v1.96h-1.23zM563.43 281.78h1.23v1.96h-1.23zM566.74 278.45h1.23v1.96h-1.23zM571.7 278.45h1.23v3.63h-1.23zM591.54 281.78h1.23v1.96h-1.23z"/><path fill="#2c728e" d="M562.61 285.11h1.23v1.96h-1.23zM563.43 280.11h1.23v1.96h-1.23zM570.05 278.45h1.23v1.96h-1.23zM573.36 290.1h1.23v1.96h-1.23zM578.32 278.45h1.23v5.29h-1.23zM579.97 280.11h1.23v1.96h-1.23zM581.62 281.78h1.23v1.96h-1.23zM582.45 280.11h1.23v1.96h-1.23zM584.1 278.45h1.23v3.63h-1.23zM587.41 290.1h1.23v1.96h-1.23zM597.33 281.78h1.23v1.96h-1.23zM599.81 280.11h1.23v3.63h-1.23z"/><path fill="#471365" d="M564.26 278.45h1.23v1.96h-1.23z"/><path fill="#463480" d="M564.26 280.11h1.23v1.96h-1.23zM575.84 280.11h1.23v1.96h-1.23z"/><path fill="#443b84" d="M565.09 281.78h1.23v1.96h-1.23zM575.84 278.45h1.23v1.96h-1.23zM579.97 288.44h1.23v1.96h-1.23z"/><path fill="#277e8e" d="M591.54 280.11h1.23v1.96h-1.23z"/><path fill="#21918c" d="M591.54 286.77h1.23v15.28h-1.23z"/></g></g>
<rect x="591.61" y="301.91" width="1.1" height="38.29" fill="#e6dc35"/>
<rect x="559.5" y="278.6" width="46.3" height="61.6" fill="none" stroke="#223" stroke-width=".4"/>
<text x="582.65" y="274.9" font-size="9.1" text-anchor="middle">39</text>
<text x="559.91" y="347.2" font-size="5.8" text-anchor="middle">0</text>
<text x="568.18" y="347.2" font-size="5.8" text-anchor="middle">10</text>
<text x="576.45" y="347.2" font-size="5.8" text-anchor="middle">20</text>
<text x="584.72" y="347.2" font-size="5.8" text-anchor="middle">30</text>
<text x="592.98" y="347.2" font-size="5.8" text-anchor="middle">40</text>
<text x="601.25" y="347.2" font-size="5.8" text-anchor="middle">50</text>
<path d="M559.91 340.2v-1.5M568.18 340.2v-1.5M576.45 340.2v-1.5M584.72 340.2v-1.5M592.98 340.2v-1.5M601.25 340.2v-1.5" stroke="#111" stroke-width=".5" fill="none"/>
<text x="387.5" y="281.53" font-size="5.8" text-anchor="end">0</text>
<text x="387.5" y="289.86" font-size="5.8" text-anchor="end">5</text>
<text x="387.5" y="298.18" font-size="5.8" text-anchor="end">10</text>
<text x="387.5" y="306.51" font-size="5.8" text-anchor="end">15</text>
<text x="387.5" y="314.83" font-size="5.8" text-anchor="end">20</text>
<text x="387.5" y="323.15" font-size="5.8" text-anchor="end">25</text>
<text x="387.5" y="331.48" font-size="5.8" text-anchor="end">30</text>
<text x="387.5" y="339.8" font-size="5.8" text-anchor="end">35</text>
<path d="M389.3 279.43h1.5M389.3 287.76h1.5M389.3 296.08h1.5M389.3 304.41h1.5M389.3 312.73h1.5M389.3 321.05h1.5M389.3 329.38h1.5M389.3 337.7h1.5" stroke="#111" stroke-width=".5" fill="none"/>
<text transform="translate(375 309.4) rotate(-90)" font-size="7.5" text-anchor="middle">Iterations</text>
<defs><filter id="bl"><feGaussianBlur stdDeviation=".9"/></filter><filter id="nb" x="-5%" y="-5%" width="110%" height="110%"><feGaussianBlur stdDeviation=".9 .45"/></filter></defs>
<clipPath id="nc0"><rect x="618.9" y="87" width="67.1" height="66.1"/></clipPath>
<g clip-path="url(#nc0)"><g filter="url(#nb)">
<rect x="615.9" y="84" width="73.1" height="72.1" fill="#030304"/>
<rect x="618.9" y="87" width="67.1" height="66.1" fill="#030304"/>
<path fill="#000800" d="M624.91 87h2v2h-2zM672.98 89h4.01v2h-4.01zM678.99 89h2v2h-2zM680.99 89h2v2h-2zM626.91 91.01h2v2h-2zM632.92 91.01h2v2h-2zM654.95 91.01h2v2h-2zM683 91.01h4.01v2h-4.01zM668.98 95.01h4.01v2h-4.01zM624.91 99.02h2v2h-2zM646.94 99.02h4.01v2h-4.01zM680.99 99.02h2v2h-2zM626.91 103.02h4.01v2h-4.01zM636.93 103.02h4.01v2h-4.01zM662.97 103.02h4.01v2h-4.01zM668.98 103.02h2v2h-2zM674.98 105.03h2v2h-2zM683 107.03h2v2h-2zM640.93 109.03h2v2h-2zM642.94 109.03h4.01v2h-4.01zM646.94 111.04h2v2h-2zM672.98 111.04h4.01v2h-4.01zM672.98 113.04h2v2h-2zM662.97 115.04h4.01v2h-4.01zM683 117.05h4.01v2h-4.01zM632.92 121.05h2v2h-2zM634.92 121.05h2v2h-2zM648.95 123.05h4.01v2h-4.01zM644.94 125.06h4.01v2h-4.01zM652.95 125.06h2v2h-2zM672.98 127.06h2v2h-2zM636.93 129.06h2v2h-2zM670.98 129.06h4.01v2h-4.01zM672.98 129.06h4.01v2h-4.01zM620.9 131.07h2v2h-2zM660.96 131.07h4.01v2h-4.01zM664.97 131.07h2v2h-2zM683 133.07h4.01v2h-4.01zM618.9 135.07h2v2h-2zM620.9 135.07h2v2h-2zM630.92 135.07h4.01v2h-4.01zM674.98 135.07h4.01v2h-4.01zM618.9 137.08h4.01v2h-4.01zM620.9 137.08h2v2h-2zM618.9 139.08h4.01v2h-4.01zM664.97 139.08h2v2h-2zM666.97 139.08h2v2h-2zM658.96 141.08h2v2h-2zM624.91 143.08h4.01v2h-4.01zM656.96 143.08h2v2h-2zM658.96 145.09h4.01v2h-4.01zM652.95 149.09h4.01v2h-4.01zM676.99 149.09h4.01v2h-4.01zM636.93 151.1h2v2h-2z"/>
<path fill="#002020" d="M626.91 87h4.01v2h-4.01zM646.94 95.01h2v2h-2zM648.95 103.02h2v2h-2zM618.9 107.03h2v2h-2zM664.97 109.03h4.01v2h-4.01zM670.98 123.05h2v2h-2zM634.92 125.06h4.01v2h-4.01zM652.95 133.07h2v2h-2zM622.91 149.09h2v2h-2z"/>
<path fill="#001818" d="M628.92 87h2v2h-2zM658.96 89h2v2h-2zM674.98 97.02h2v2h-2zM618.9 99.02h2v2h-2zM640.93 103.02h2v2h-2zM636.93 109.03h2v2h-2zM658.96 109.03h2v2h-2zM620.9 127.06h2v2h-2zM674.98 131.07h2v2h-2zM678.99 133.07h2v2h-2zM646.94 135.07h2v2h-2zM656.96 141.08h4.01v2h-4.01zM644.94 145.09h2v2h-2zM662.97 145.09h4.01v2h-4.01zM618.9 147.09h4.01v2h-4.01zM658.96 147.09h4.01v2h-4.01z"/>
<path fill="#080008" d="M630.92 87h2v2h-2zM638.93 91.01h2v2h-2zM674.98 91.01h2v2h-2zM664.97 93.01h2v2h-2zM618.9 95.01h4.01v2h-4.01zM648.95 97.02h2v2h-2zM664.97 97.02h2v2h-2zM620.9 101.02h2v2h-2zM632.92 101.02h2v2h-2zM670.98 101.02h2v2h-2zM622.91 103.02h2v2h-2zM662.97 107.03h2v2h-2zM636.93 113.04h2v2h-2zM642.94 113.04h2v2h-2zM662.97 113.04h2v2h-2zM628.92 115.04h2v2h-2zM648.95 119.05h4.01v2h-4.01zM626.91 125.06h4.01v2h-4.01zM626.91 127.06h2v2h-2zM648.95 127.06h4.01v2h-4.01zM634.92 129.06h2v2h-2zM638.93 131.07h4.01v2h-4.01zM652.95 135.07h2v2h-2zM656.96 135.07h2v2h-2zM652.95 137.08h2v2h-2zM670.98 139.08h4.01v2h-4.01zM642.94 141.08h2v2h-2zM672.98 141.08h4.01v2h-4.01zM683 143.08h2v2h-2zM630.92 145.09h2v2h-2zM660.96 145.09h4.01v2h-4.01zM650.95 151.1h2v2h-2zM664.97 151.1h4.01v2h-4.01zM680.99 151.1h2v2h-2z"/>
<path fill="#000008" d="M632.92 87h2v2h-2zM656.96 95.01h2v2h-2zM668.98 99.02h2v2h-2zM666.97 101.02h2v2h-2zM622.91 105.03h2v2h-2zM626.91 105.03h4.01v2h-4.01zM634.92 105.03h4.01v2h-4.01zM650.95 109.03h2v2h-2zM666.97 109.03h2v2h-2zM622.91 111.04h2v2h-2zM642.94 111.04h4.01v2h-4.01zM654.95 111.04h4.01v2h-4.01zM668.98 111.04h4.01v2h-4.01zM676.99 113.04h2v2h-2zM638.93 117.05h2v2h-2zM644.94 117.05h2v2h-2zM650.95 119.05h4.01v2h-4.01zM666.97 119.05h2v2h-2zM630.92 127.06h4.01v2h-4.01zM680.99 135.07h2v2h-2zM680.99 137.08h4.01v2h-4.01zM644.94 139.08h4.01v2h-4.01zM644.94 143.08h4.01v2h-4.01z"/>
<path fill="#000000" d="M636.93 87h2v2h-2zM683 93.01h2v2h-2zM672.98 99.02h4.01v2h-4.01zM664.97 101.02h2v2h-2zM624.91 113.04h2v2h-2zM668.98 119.05h2v2h-2zM640.93 121.05h2v2h-2zM618.9 123.05h2v2h-2zM626.91 123.05h4.01v2h-4.01zM680.99 139.08h2v2h-2zM664.97 141.08h2v2h-2zM662.97 143.08h4.01v2h-4.01zM652.95 147.09h4.01v2h-4.01zM664.97 147.09h4.01v2h-4.01zM630.92 149.09h2v2h-2zM674.98 149.09h4.01v2h-4.01z"/>
<path fill="#000808" d="M638.93 87h2v2h-2zM620.9 89h2v2h-2zM662.97 91.01h2v2h-2zM628.92 93.01h2v2h-2zM634.92 95.01h2v2h-2zM636.93 95.01h4.01v2h-4.01zM652.95 95.01h4.01v2h-4.01zM666.97 95.01h2v2h-2zM638.93 97.02h2v2h-2zM666.97 97.02h2v2h-2zM630.92 99.02h4.01v2h-4.01zM664.97 99.02h4.01v2h-4.01zM622.91 101.02h4.01v2h-4.01zM628.92 101.02h2v2h-2zM640.93 101.02h2v2h-2zM678.99 101.02h4.01v2h-4.01zM644.94 105.03h2v2h-2zM680.99 105.03h2v2h-2zM618.9 111.04h2v2h-2zM634.92 111.04h2v2h-2zM638.93 111.04h2v2h-2zM644.94 111.04h2v2h-2zM666.97 111.04h4.01v2h-4.01zM630.92 113.04h4.01v2h-4.01zM632.92 113.04h2v2h-2zM646.94 113.04h2v2h-2zM640.93 115.04h2v2h-2zM676.99 115.04h2v2h-2zM678.99 117.05h2v2h-2zM652.95 119.05h2v2h-2zM676.99 119.05h2v2h-2zM624.91 121.05h4.01v2h-4.01zM626.91 121.05h2v2h-2zM622.91 125.06h2v2h-2zM624.91 125.06h2v2h-2zM640.93 125.06h4.01v2h-4.01zM650.95 125.06h2v2h-2zM654.95 129.06h2v2h-2zM658.96 129.06h4.01v2h-4.01zM660.96 129.06h2v2h-2zM652.95 131.07h2v2h-2zM624.91 133.07h2v2h-2zM664.97 135.07h2v2h-2zM660.96 137.08h2v2h-2zM674.98 139.08h2v2h-2zM638.93 141.08h2v2h-2zM654.95 143.08h4.01v2h-4.01zM678.99 143.08h2v2h-2zM620.9 145.09h2v2h-2zM674.98 145.09h2v2h-2zM666.97 147.09h2v2h-2zM670.98 147.09h4.01v2h-4.01zM676.99 147.09h4.01v2h-4.01zM620.9 149.09h2v2h-2zM662.97 149.09h2v2h-2zM672.98 149.09h4.01v2h-4.01zM678.99 149.09h4.01v2h-4.01zM618.9 151.1h2v2h-2z"/>
<path fill="#001010" d="M642.94 87h4.01v2h-4.01zM678.99 87h2v2h-2zM624.91 91.01h2v2h-2zM678.99 97.02h4.01v2h-4.01zM628.92 99.02h2v2h-2zM650.95 99.02h2v2h-2zM678.99 99.02h4.01v2h-4.01zM644.94 103.02h2v2h-2zM680.99 103.02h2v2h-2zM630.92 105.03h4.01v2h-4.01zM650.95 105.03h2v2h-2zM656.96 105.03h2v2h-2zM664.97 107.03h4.01v2h-4.01zM666.97 107.03h4.01v2h-4.01zM670.98 109.03h2v2h-2zM670.98 111.04h4.01v2h-4.01zM674.98 113.04h2v2h-2zM648.95 115.04h2v2h-2zM683 119.05h4.01v2h-4.01zM638.93 123.05h2v2h-2zM654.95 125.06h2v2h-2zM674.98 125.06h2v2h-2zM624.91 127.06h2v2h-2zM680.99 131.07h4.01v2h-4.01zM636.93 133.07h4.01v2h-4.01zM632.92 135.07h2v2h-2zM660.96 135.07h2v2h-2zM678.99 135.07h2v2h-2zM640.93 137.08h4.01v2h-4.01zM670.98 137.08h2v2h-2zM648.95 139.08h4.01v2h-4.01zM668.98 139.08h4.01v2h-4.01zM634.92 143.08h4.01v2h-4.01zM642.94 143.08h4.01v2h-4.01zM664.97 145.09h2v2h-2zM632.92 149.09h4.01v2h-4.01zM680.99 149.09h4.01v2h-4.01zM646.94 151.1h4.01v2h-4.01z"/>
<path fill="#180000" d="M654.95 87h2v2h-2zM642.94 101.02h2v2h-2zM676.99 107.03h4.01v2h-4.01zM664.97 121.05h4.01v2h-4.01zM676.99 127.06h2v2h-2zM654.95 131.07h2v2h-2zM662.97 135.07h2v2h-2zM683 135.07h4.01v2h-4.01zM650.95 147.09h2v2h-2zM656.96 149.09h2v2h-2z"/>
<path fill="#001800" d="M658.96 87h4.01v2h-4.01zM624.91 89h2v2h-2zM656.96 93.01h2v2h-2zM680.99 101.02h2v2h-2zM648.95 105.03h4.01v2h-4.01zM622.91 109.03h2v2h-2zM683 109.03h2v2h-2zM640.93 113.04h2v2h-2zM620.9 115.04h2v2h-2zM652.95 115.04h2v2h-2zM632.92 117.05h2v2h-2zM668.98 117.05h2v2h-2zM618.9 119.05h2v2h-2zM680.99 121.05h2v2h-2zM620.9 125.06h2v2h-2zM638.93 125.06h2v2h-2zM678.99 125.06h2v2h-2zM632.92 127.06h2v2h-2zM666.97 129.06h4.01v2h-4.01zM634.92 135.07h2v2h-2zM632.92 139.08h2v2h-2zM656.96 139.08h4.01v2h-4.01zM683 139.08h2v2h-2zM676.99 145.09h2v2h-2z"/>
<path fill="#080800" d="M662.97 87h4.01v2h-4.01zM668.98 87h4.01v2h-4.01zM622.91 95.01h2v2h-2zM634.92 97.02h4.01v2h-4.01zM646.94 107.03h2v2h-2zM644.94 109.03h4.01v2h-4.01zM652.95 111.04h2v2h-2zM666.97 117.05h2v2h-2zM632.92 119.05h4.01v2h-4.01zM660.96 119.05h2v2h-2zM666.97 121.05h2v2h-2zM628.92 127.06h4.01v2h-4.01zM668.98 129.06h2v2h-2zM624.91 131.07h4.01v2h-4.01zM648.95 135.07h2v2h-2zM656.96 137.08h2v2h-2zM622.91 143.08h2v2h-2zM658.96 149.09h2v2h-2z"/>
<path fill="#002000" d="M666.97 87h2v2h-2zM678.99 107.03h4.01v2h-4.01zM664.97 113.04h2v2h-2zM646.94 147.09h2v2h-2z"/>
<path fill="#000010" d="M670.98 87h4.01v2h-4.01zM640.93 95.01h4.01v2h-4.01zM664.97 103.02h2v2h-2zM666.97 103.02h2v2h-2zM668.98 107.03h4.01v2h-4.01zM656.96 117.05h2v2h-2zM652.95 127.06h4.01v2h-4.01zM640.93 135.07h2v2h-2zM678.99 147.09h4.01v2h-4.01z"/>
<path fill="#000028" d="M618.9 89h2v2h-2zM652.95 101.02h2v2h-2zM678.99 115.04h2v2h-2zM670.98 127.06h2v2h-2z"/>
<path fill="#000030" d="M630.92 89h4.01v2h-4.01zM636.93 139.08h2v2h-2zM634.92 141.08h2v2h-2zM668.98 143.08h2v2h-2z"/>
<path fill="#180018" d="M646.94 89h2v2h-2zM620.9 91.01h2v2h-2zM630.92 91.01h2v2h-2zM678.99 91.01h2v2h-2zM674.98 93.01h2v2h-2zM620.9 95.01h2v2h-2zM658.96 97.02h4.01v2h-4.01zM654.95 109.03h2v2h-2zM642.94 123.05h4.01v2h-4.01zM636.93 127.06h2v2h-2zM678.99 127.06h4.01v2h-4.01zM656.96 129.06h4.01v2h-4.01zM654.95 139.08h4.01v2h-4.01zM683 147.09h2v2h-2zM626.91 151.1h4.01v2h-4.01z"/>
<path fill="#280028" d="M654.95 89h4.01v2h-4.01zM658.96 143.08h2v2h-2z"/>
<path fill="#181800" d="M656.96 89h2v2h-2zM668.98 89h2v2h-2zM676.99 117.05h4.01v2h-4.01zM648.95 143.08h2v2h-2z"/>
<path fill="#300000" d="M674.98 89h4.01v2h-4.01z"/>
<path fill="#002828" d="M628.92 91.01h2v2h-2zM656.96 99.02h4.01v2h-4.01zM636.93 105.03h2v2h-2zM630.92 133.07h2v2h-2zM646.94 143.08h4.01v2h-4.01z"/>
<path fill="#080000" d="M636.93 91.01h2v2h-2zM646.94 91.01h4.01v2h-4.01zM660.96 91.01h4.01v2h-4.01zM672.98 91.01h2v2h-2zM620.9 93.01h4.01v2h-4.01zM626.91 95.01h4.01v2h-4.01zM648.95 99.02h2v2h-2zM650.95 101.02h2v2h-2zM656.96 109.03h4.01v2h-4.01zM680.99 111.04h2v2h-2zM628.92 113.04h2v2h-2zM654.95 113.04h2v2h-2zM630.92 115.04h2v2h-2zM672.98 115.04h4.01v2h-4.01zM618.9 121.05h4.01v2h-4.01zM646.94 121.05h2v2h-2zM652.95 121.05h2v2h-2zM662.97 121.05h2v2h-2zM620.9 123.05h2v2h-2zM656.96 125.06h2v2h-2zM644.94 127.06h2v2h-2zM680.99 129.06h4.01v2h-4.01zM626.91 131.07h4.01v2h-4.01zM648.95 131.07h2v2h-2zM658.96 137.08h2v2h-2zM624.91 139.08h4.01v2h-4.01zM676.99 139.08h4.01v2h-4.01zM678.99 139.08h2v2h-2zM674.98 143.08h4.01v2h-4.01zM656.96 145.09h4.01v2h-4.01zM680.99 145.09h2v2h-2zM628.92 147.09h4.01v2h-4.01zM632.92 147.09h2v2h-2zM656.96 147.09h2v2h-2zM664.97 149.09h4.01v2h-4.01zM668.98 149.09h2v2h-2z"/>
<path fill="#100000" d="M640.93 91.01h4.01v2h-4.01zM666.97 91.01h2v2h-2zM630.92 93.01h2v2h-2zM650.95 93.01h2v2h-2zM658.96 103.02h2v2h-2zM640.93 107.03h4.01v2h-4.01zM644.94 113.04h2v2h-2zM670.98 121.05h2v2h-2zM646.94 123.05h4.01v2h-4.01zM658.96 123.05h4.01v2h-4.01zM646.94 129.06h2v2h-2zM622.91 131.07h2v2h-2zM650.95 131.07h2v2h-2zM658.96 139.08h2v2h-2zM626.91 141.08h2v2h-2zM626.91 143.08h2v2h-2zM624.91 147.09h4.01v2h-4.01zM638.93 151.1h2v2h-2z"/>
<path fill="#101000" d="M648.95 91.01h4.01v2h-4.01zM636.93 97.02h2v2h-2zM672.98 101.02h4.01v2h-4.01zM620.9 109.03h4.01v2h-4.01zM628.92 121.05h4.01v2h-4.01zM656.96 127.06h2v2h-2zM683 127.06h4.01v2h-4.01zM664.97 129.06h2v2h-2zM664.97 133.07h2v2h-2zM658.96 135.07h2v2h-2zM648.95 151.1h4.01v2h-4.01z"/>
<path fill="#000018" d="M664.97 91.01h2v2h-2zM678.99 93.01h2v2h-2zM640.93 123.05h4.01v2h-4.01zM644.94 135.07h2v2h-2zM678.99 137.08h2v2h-2zM662.97 151.1h2v2h-2z"/>
<path fill="#001000" d="M626.91 93.01h4.01v2h-4.01zM636.93 93.01h2v2h-2zM648.95 93.01h4.01v2h-4.01zM620.9 97.02h2v2h-2zM642.94 99.02h4.01v2h-4.01zM654.95 99.02h4.01v2h-4.01zM646.94 103.02h2v2h-2zM660.96 105.03h2v2h-2zM632.92 109.03h2v2h-2zM634.92 109.03h2v2h-2zM648.95 111.04h2v2h-2zM662.97 111.04h4.01v2h-4.01zM656.96 113.04h2v2h-2zM634.92 115.04h2v2h-2zM644.94 121.05h2v2h-2zM630.92 123.05h2v2h-2zM668.98 123.05h4.01v2h-4.01zM662.97 125.06h2v2h-2zM676.99 125.06h4.01v2h-4.01zM646.94 127.06h2v2h-2zM658.96 127.06h2v2h-2zM632.92 129.06h2v2h-2zM662.97 129.06h2v2h-2zM634.92 131.07h4.01v2h-4.01zM666.97 135.07h2v2h-2zM644.94 137.08h2v2h-2zM683 137.08h2v2h-2zM668.98 147.09h4.01v2h-4.01zM666.97 149.09h2v2h-2z"/>
<path fill="#080010" d="M640.93 93.01h4.01v2h-4.01z"/>
<path fill="#000020" d="M662.97 93.01h2v2h-2zM670.98 95.01h2v2h-2zM683 95.01h4.01v2h-4.01zM618.9 105.03h2v2h-2zM620.9 107.03h2v2h-2zM646.94 109.03h4.01v2h-4.01zM626.91 111.04h2v2h-2zM628.92 117.05h2v2h-2zM642.94 119.05h2v2h-2zM670.98 131.07h2v2h-2zM662.97 133.07h2v2h-2zM660.96 147.09h4.01v2h-4.01z"/>
<path fill="#081000" d="M666.97 93.01h4.01v2h-4.01zM672.98 137.08h2v2h-2z"/>
<path fill="#002800" d="M624.91 95.01h4.01v2h-4.01zM626.91 101.02h2v2h-2zM654.95 103.02h4.01v2h-4.01zM632.92 105.03h4.01v2h-4.01zM676.99 109.03h2v2h-2zM656.96 123.05h4.01v2h-4.01zM654.95 137.08h2v2h-2zM618.9 145.09h4.01v2h-4.01z"/>
<path fill="#101800" d="M660.96 95.01h4.01v2h-4.01zM656.96 111.04h4.01v2h-4.01z"/>
<path fill="#200000" d="M654.95 97.02h2v2h-2zM620.9 111.04h2v2h-2zM650.95 111.04h4.01v2h-4.01zM640.93 117.05h2v2h-2zM662.97 127.06h2v2h-2z"/>
<path fill="#100010" d="M624.91 103.02h2v2h-2zM618.9 117.05h2v2h-2zM630.92 117.05h2v2h-2zM624.91 129.06h4.01v2h-4.01zM632.92 131.07h2v2h-2zM666.97 143.08h2v2h-2zM626.91 145.09h4.01v2h-4.01zM628.92 145.09h4.01v2h-4.01zM636.93 149.09h2v2h-2z"/>
<path fill="#100018" d="M660.96 103.02h2v2h-2zM658.96 111.04h2v2h-2zM630.92 121.05h4.01v2h-4.01zM652.95 123.05h4.01v2h-4.01zM642.94 125.06h2v2h-2z"/>
<path fill="#280030" d="M676.99 103.02h2v2h-2z"/>
<path fill="#003030" d="M650.95 107.03h2v2h-2zM628.92 111.04h2v2h-2z"/>
<path fill="#280000" d="M626.91 109.03h2v2h-2zM654.95 117.05h2v2h-2zM618.9 125.06h2v2h-2z"/>
<path fill="#200020" d="M636.93 111.04h2v2h-2zM630.92 151.1h4.01v2h-4.01z"/>
<path fill="#003000" d="M626.91 113.04h2v2h-2zM632.92 151.1h2v2h-2z"/>
<path fill="#182000" d="M658.96 113.04h2v2h-2z"/>
<path fill="#000038" d="M668.98 113.04h2v2h-2zM640.93 145.09h2v2h-2zM642.94 149.09h4.01v2h-4.01z"/>
<path fill="#180020" d="M676.99 123.05h4.01v2h-4.01zM630.92 141.08h2v2h-2z"/>
<path fill="#000040" d="M622.91 127.06h4.01v2h-4.01z"/>
<path fill="#003838" d="M666.97 131.07h2v2h-2z"/>
</g></g>
<clipPath id="nc1"><rect x="618.9" y="181.4" width="67.1" height="66.1"/></clipPath>
<g clip-path="url(#nc1)"><g filter="url(#nb)">
<rect x="615.9" y="178.4" width="73.1" height="72.1" fill="#030304"/>
<rect x="618.9" y="181.4" width="67.1" height="66.1" fill="#030304"/>
<path fill="#000800" d="M620.9 181.4h4.01v2h-4.01zM640.93 181.4h4.01v2h-4.01zM672.98 181.4h2v2h-2zM636.93 183.4h4.01v2h-4.01zM636.93 185.41h2v2h-2zM628.92 187.41h4.01v2h-4.01zM642.94 187.41h2v2h-2zM660.96 187.41h2v2h-2zM664.97 187.41h2v2h-2zM624.91 189.41h4.01v2h-4.01zM638.93 189.41h2v2h-2zM668.98 189.41h4.01v2h-4.01zM676.99 189.41h2v2h-2zM678.99 189.41h2v2h-2zM680.99 189.41h2v2h-2zM618.9 191.42h2v2h-2zM626.91 191.42h4.01v2h-4.01zM638.93 191.42h4.01v2h-4.01zM640.93 191.42h2v2h-2zM630.92 193.42h4.01v2h-4.01zM640.93 195.42h4.01v2h-4.01zM660.96 195.42h2v2h-2zM674.98 195.42h4.01v2h-4.01zM630.92 197.42h2v2h-2zM664.97 199.43h4.01v2h-4.01zM680.99 199.43h4.01v2h-4.01zM658.96 201.43h2v2h-2zM672.98 201.43h2v2h-2zM678.99 201.43h2v2h-2zM650.95 203.43h4.01v2h-4.01zM654.95 203.43h2v2h-2zM618.9 205.44h4.01v2h-4.01zM642.94 205.44h4.01v2h-4.01zM620.9 207.44h2v2h-2zM670.98 207.44h2v2h-2zM630.92 209.44h2v2h-2zM642.94 209.44h4.01v2h-4.01zM618.9 211.45h2v2h-2zM632.92 211.45h4.01v2h-4.01zM636.93 213.45h4.01v2h-4.01zM660.96 213.45h2v2h-2zM670.98 213.45h2v2h-2zM628.92 215.45h2v2h-2zM664.97 215.45h2v2h-2zM676.99 215.45h2v2h-2zM634.92 217.45h4.01v2h-4.01zM672.98 217.45h4.01v2h-4.01zM626.91 219.46h2v2h-2zM636.93 219.46h4.01v2h-4.01zM640.93 219.46h2v2h-2zM664.97 219.46h2v2h-2zM666.97 221.46h2v2h-2zM670.98 221.46h4.01v2h-4.01zM678.99 221.46h2v2h-2zM626.91 223.46h4.01v2h-4.01zM656.96 223.46h2v2h-2zM620.9 225.47h2v2h-2zM644.94 225.47h4.01v2h-4.01zM622.91 227.47h2v2h-2zM668.98 227.47h2v2h-2zM642.94 229.47h2v2h-2zM664.97 231.48h2v2h-2zM672.98 231.48h2v2h-2zM628.92 233.48h4.01v2h-4.01zM656.96 233.48h4.01v2h-4.01zM662.97 235.48h2v2h-2zM668.98 235.48h4.01v2h-4.01zM622.91 237.48h4.01v2h-4.01zM662.97 237.48h2v2h-2zM683 237.48h2v2h-2zM634.92 241.49h4.01v2h-4.01zM636.93 241.49h4.01v2h-4.01zM652.95 241.49h2v2h-2zM664.97 241.49h4.01v2h-4.01zM618.9 243.49h4.01v2h-4.01zM662.97 243.49h4.01v2h-4.01zM670.98 243.49h2v2h-2zM646.94 245.5h4.01v2h-4.01z"/>
<path fill="#001000" d="M628.92 181.4h2v2h-2zM650.95 181.4h2v2h-2zM666.97 181.4h4.01v2h-4.01zM664.97 185.41h2v2h-2zM636.93 187.41h2v2h-2zM658.96 193.42h4.01v2h-4.01zM678.99 193.42h2v2h-2zM670.98 195.42h2v2h-2zM646.94 197.42h4.01v2h-4.01zM676.99 199.43h2v2h-2zM622.91 201.43h4.01v2h-4.01zM662.97 201.43h2v2h-2zM652.95 209.44h4.01v2h-4.01zM644.94 211.45h4.01v2h-4.01zM676.99 211.45h2v2h-2zM620.9 213.45h2v2h-2zM622.91 213.45h2v2h-2zM654.95 213.45h2v2h-2zM630.92 215.45h4.01v2h-4.01zM622.91 217.45h4.01v2h-4.01zM654.95 217.45h2v2h-2zM652.95 221.46h4.01v2h-4.01zM683 221.46h2v2h-2zM680.99 223.46h4.01v2h-4.01zM676.99 231.48h4.01v2h-4.01zM650.95 233.48h4.01v2h-4.01zM668.98 233.48h4.01v2h-4.01zM652.95 235.48h2v2h-2zM652.95 237.48h4.01v2h-4.01zM626.91 239.49h2v2h-2zM630.92 243.49h4.01v2h-4.01zM636.93 245.5h2v2h-2zM666.97 245.5h4.01v2h-4.01zM670.98 245.5h2v2h-2zM676.99 245.5h4.01v2h-4.01z"/>
<path fill="#080008" d="M630.92 181.4h2v2h-2zM632.92 181.4h4.01v2h-4.01zM630.92 183.4h4.01v2h-4.01zM634.92 185.41h2v2h-2zM648.95 191.42h4.01v2h-4.01zM664.97 191.42h2v2h-2zM632.92 197.42h4.01v2h-4.01zM642.94 197.42h2v2h-2zM656.96 197.42h2v2h-2zM634.92 199.43h2v2h-2zM630.92 203.43h2v2h-2zM658.96 203.43h2v2h-2zM660.96 209.44h2v2h-2zM650.95 217.45h4.01v2h-4.01zM656.96 221.46h4.01v2h-4.01zM662.97 225.47h2v2h-2zM628.92 229.47h4.01v2h-4.01zM648.95 231.48h2v2h-2zM680.99 233.48h2v2h-2zM668.98 237.48h2v2h-2zM642.94 239.49h4.01v2h-4.01zM654.95 239.49h2v2h-2zM658.96 239.49h2v2h-2zM660.96 239.49h4.01v2h-4.01zM672.98 243.49h4.01v2h-4.01zM680.99 245.5h2v2h-2z"/>
<path fill="#002818" d="M646.94 181.4h2v2h-2zM654.95 221.46h2v2h-2zM620.9 239.49h2v2h-2z"/>
<path fill="#000010" d="M648.95 181.4h2v2h-2zM644.94 187.41h4.01v2h-4.01zM666.97 187.41h2v2h-2zM660.96 191.42h2v2h-2zM646.94 205.44h2v2h-2zM674.98 207.44h4.01v2h-4.01zM618.9 217.45h2v2h-2zM630.92 217.45h2v2h-2zM650.95 221.46h4.01v2h-4.01zM664.97 227.47h4.01v2h-4.01zM644.94 231.48h4.01v2h-4.01zM622.91 233.48h2v2h-2zM678.99 239.49h4.01v2h-4.01zM628.92 241.49h4.01v2h-4.01z"/>
<path fill="#000000" d="M664.97 181.4h2v2h-2zM678.99 181.4h4.01v2h-4.01zM624.91 183.4h2v2h-2zM624.91 185.41h2v2h-2zM650.95 187.41h4.01v2h-4.01zM678.99 187.41h2v2h-2zM683 187.41h2v2h-2zM622.91 193.42h2v2h-2zM668.98 193.42h2v2h-2zM670.98 193.42h2v2h-2zM656.96 195.42h2v2h-2zM660.96 199.43h2v2h-2zM670.98 199.43h2v2h-2zM640.93 203.43h4.01v2h-4.01zM648.95 203.43h2v2h-2zM646.94 209.44h4.01v2h-4.01zM676.99 217.45h4.01v2h-4.01zM622.91 223.46h2v2h-2zM672.98 225.47h2v2h-2zM632.92 227.47h4.01v2h-4.01zM660.96 231.48h2v2h-2zM680.99 231.48h2v2h-2zM658.96 235.48h2v2h-2zM674.98 237.48h2v2h-2zM666.97 241.49h4.01v2h-4.01zM626.91 245.5h2v2h-2z"/>
<path fill="#080000" d="M668.98 181.4h2v2h-2zM674.98 181.4h2v2h-2zM622.91 185.41h4.01v2h-4.01zM662.97 185.41h2v2h-2zM632.92 187.41h2v2h-2zM683 189.41h2v2h-2zM636.93 193.42h4.01v2h-4.01zM683 193.42h4.01v2h-4.01zM620.9 195.42h4.01v2h-4.01zM658.96 195.42h2v2h-2zM672.98 197.42h2v2h-2zM618.9 203.43h4.01v2h-4.01zM644.94 203.43h4.01v2h-4.01zM624.91 207.44h4.01v2h-4.01zM654.95 215.45h4.01v2h-4.01zM640.93 217.45h2v2h-2zM658.96 217.45h4.01v2h-4.01zM626.91 221.46h2v2h-2zM668.98 221.46h2v2h-2zM618.9 229.47h4.01v2h-4.01zM660.96 241.49h4.01v2h-4.01z"/>
<path fill="#100010" d="M670.98 181.4h2v2h-2zM638.93 185.41h2v2h-2zM683 191.42h2v2h-2zM624.91 193.42h4.01v2h-4.01zM626.91 197.42h2v2h-2zM648.95 201.43h4.01v2h-4.01zM666.97 205.44h4.01v2h-4.01zM666.97 213.45h2v2h-2zM622.91 215.45h4.01v2h-4.01zM658.96 241.49h2v2h-2z"/>
<path fill="#180000" d="M680.99 181.4h4.01v2h-4.01zM634.92 197.42h4.01v2h-4.01zM620.9 199.43h2v2h-2zM672.98 203.43h4.01v2h-4.01zM640.93 211.45h2v2h-2zM632.92 217.45h2v2h-2zM644.94 227.47h4.01v2h-4.01zM670.98 229.47h2v2h-2zM638.93 231.48h4.01v2h-4.01zM638.93 243.49h2v2h-2zM644.94 243.49h2v2h-2z"/>
<path fill="#000018" d="M620.9 183.4h4.01v2h-4.01zM630.92 207.44h2v2h-2zM622.91 219.46h4.01v2h-4.01zM626.91 231.48h4.01v2h-4.01zM636.93 233.48h2v2h-2z"/>
<path fill="#000808" d="M628.92 183.4h2v2h-2zM658.96 185.41h2v2h-2zM674.98 185.41h2v2h-2zM676.99 185.41h4.01v2h-4.01zM674.98 187.41h2v2h-2zM626.91 189.41h4.01v2h-4.01zM630.92 189.41h2v2h-2zM656.96 189.41h2v2h-2zM662.97 189.41h4.01v2h-4.01zM640.93 193.42h4.01v2h-4.01zM642.94 193.42h2v2h-2zM654.95 195.42h2v2h-2zM640.93 197.42h4.01v2h-4.01zM650.95 197.42h2v2h-2zM650.95 199.43h4.01v2h-4.01zM656.96 203.43h2v2h-2zM664.97 203.43h2v2h-2zM652.95 205.44h4.01v2h-4.01zM636.93 209.44h2v2h-2zM656.96 209.44h2v2h-2zM668.98 209.44h4.01v2h-4.01zM683 209.44h2v2h-2zM654.95 211.45h2v2h-2zM658.96 211.45h2v2h-2zM640.93 213.45h2v2h-2zM678.99 215.45h2v2h-2zM638.93 217.45h2v2h-2zM660.96 217.45h2v2h-2zM632.92 219.46h4.01v2h-4.01zM654.95 223.46h2v2h-2zM660.96 225.47h4.01v2h-4.01zM676.99 227.47h2v2h-2zM620.9 235.48h2v2h-2zM640.93 239.49h4.01v2h-4.01zM620.9 241.49h4.01v2h-4.01zM620.9 243.49h2v2h-2zM636.93 243.49h4.01v2h-4.01zM624.91 245.5h2v2h-2zM678.99 245.5h2v2h-2z"/>
<path fill="#000008" d="M638.93 183.4h4.01v2h-4.01zM642.94 183.4h4.01v2h-4.01zM662.97 183.4h2v2h-2zM634.92 189.41h2v2h-2zM650.95 191.42h4.01v2h-4.01zM630.92 195.42h2v2h-2zM630.92 199.43h2v2h-2zM678.99 205.44h2v2h-2zM618.9 207.44h2v2h-2zM632.92 207.44h2v2h-2zM636.93 207.44h4.01v2h-4.01zM646.94 207.44h2v2h-2zM650.95 207.44h2v2h-2zM624.91 209.44h2v2h-2zM676.99 209.44h2v2h-2zM630.92 211.45h2v2h-2zM668.98 211.45h4.01v2h-4.01zM626.91 213.45h4.01v2h-4.01zM648.95 227.47h2v2h-2zM620.9 229.47h2v2h-2zM650.95 229.47h2v2h-2zM618.9 231.48h2v2h-2zM660.96 233.48h2v2h-2zM624.91 235.48h4.01v2h-4.01zM630.92 237.48h4.01v2h-4.01zM680.99 237.48h2v2h-2zM618.9 239.49h2v2h-2zM676.99 239.49h4.01v2h-4.01zM624.91 241.49h2v2h-2zM674.98 241.49h4.01v2h-4.01zM654.95 243.49h2v2h-2zM658.96 243.49h4.01v2h-4.01z"/>
<path fill="#101800" d="M646.94 183.4h4.01v2h-4.01zM642.94 185.41h4.01v2h-4.01zM640.93 187.41h4.01v2h-4.01zM644.94 189.41h2v2h-2zM620.9 193.42h4.01v2h-4.01zM644.94 201.43h2v2h-2zM670.98 205.44h2v2h-2zM632.92 215.45h4.01v2h-4.01zM650.95 223.46h2v2h-2z"/>
<path fill="#002018" d="M658.96 183.4h2v2h-2zM664.97 189.41h2v2h-2zM672.98 189.41h2v2h-2zM670.98 197.42h2v2h-2zM634.92 209.44h2v2h-2zM664.97 209.44h2v2h-2zM658.96 233.48h4.01v2h-4.01zM664.97 239.49h2v2h-2zM632.92 245.5h2v2h-2z"/>
<path fill="#001800" d="M668.98 183.4h4.01v2h-4.01zM672.98 183.4h4.01v2h-4.01zM632.92 189.41h4.01v2h-4.01zM674.98 189.41h2v2h-2zM626.91 193.42h2v2h-2zM652.95 195.42h4.01v2h-4.01zM672.98 199.43h2v2h-2zM636.93 203.43h2v2h-2zM658.96 207.44h4.01v2h-4.01zM660.96 207.44h2v2h-2zM638.93 211.45h4.01v2h-4.01zM628.92 213.45h2v2h-2zM652.95 215.45h2v2h-2zM628.92 219.46h2v2h-2zM683 223.46h2v2h-2zM640.93 237.48h2v2h-2zM644.94 239.49h4.01v2h-4.01zM668.98 239.49h2v2h-2zM668.98 245.5h4.01v2h-4.01z"/>
<path fill="#003800" d="M676.99 183.4h2v2h-2zM638.93 213.45h2v2h-2z"/>
<path fill="#100000" d="M670.98 185.41h2v2h-2zM620.9 187.41h2v2h-2zM622.91 191.42h4.01v2h-4.01zM632.92 199.43h4.01v2h-4.01zM648.95 199.43h4.01v2h-4.01zM680.99 201.43h4.01v2h-4.01zM622.91 203.43h4.01v2h-4.01zM662.97 217.45h4.01v2h-4.01zM652.95 219.46h2v2h-2zM618.9 221.46h4.01v2h-4.01zM670.98 223.46h2v2h-2zM618.9 233.48h2v2h-2zM632.92 233.48h4.01v2h-4.01zM660.96 235.48h4.01v2h-4.01zM654.95 237.48h4.01v2h-4.01zM644.94 245.5h4.01v2h-4.01z"/>
<path fill="#001010" d="M672.98 185.41h4.01v2h-4.01zM674.98 191.42h2v2h-2zM680.99 203.43h4.01v2h-4.01zM680.99 211.45h2v2h-2zM626.91 217.45h2v2h-2zM628.92 223.46h2v2h-2zM646.94 235.48h4.01v2h-4.01zM652.95 245.5h4.01v2h-4.01z"/>
<path fill="#180018" d="M650.95 189.41h2v2h-2zM634.92 191.42h4.01v2h-4.01zM652.95 199.43h2v2h-2zM676.99 201.43h2v2h-2zM624.91 219.46h4.01v2h-4.01zM636.93 227.47h2v2h-2zM638.93 227.47h2v2h-2z"/>
<path fill="#001008" d="M654.95 189.41h2v2h-2zM624.91 191.42h2v2h-2zM638.93 203.43h4.01v2h-4.01zM622.91 205.44h2v2h-2zM672.98 209.44h2v2h-2zM628.92 211.45h4.01v2h-4.01zM634.92 215.45h4.01v2h-4.01zM658.96 223.46h4.01v2h-4.01zM656.96 225.47h4.01v2h-4.01zM630.92 229.47h4.01v2h-4.01zM660.96 229.47h2v2h-2zM646.94 231.48h2v2h-2zM680.99 241.49h2v2h-2zM672.98 245.5h4.01v2h-4.01z"/>
<path fill="#101000" d="M630.92 191.42h2v2h-2zM622.91 231.48h2v2h-2z"/>
<path fill="#001810" d="M632.92 191.42h4.01v2h-4.01zM642.94 195.42h2v2h-2zM683 195.42h4.01v2h-4.01zM638.93 199.43h2v2h-2zM636.93 201.43h2v2h-2zM666.97 201.43h2v2h-2zM674.98 201.43h4.01v2h-4.01zM674.98 203.43h2v2h-2zM638.93 205.44h2v2h-2zM660.96 205.44h2v2h-2zM644.94 213.45h2v2h-2zM648.95 213.45h2v2h-2zM652.95 213.45h4.01v2h-4.01zM674.98 215.45h2v2h-2zM652.95 217.45h2v2h-2zM630.92 223.46h4.01v2h-4.01zM642.94 227.47h4.01v2h-4.01zM678.99 229.47h4.01v2h-4.01zM670.98 231.48h2v2h-2zM634.92 235.48h4.01v2h-4.01zM672.98 235.48h2v2h-2zM656.96 239.49h2v2h-2zM634.92 243.49h4.01v2h-4.01zM668.98 243.49h2v2h-2z"/>
<path fill="#081000" d="M632.92 193.42h2v2h-2zM668.98 205.44h2v2h-2zM650.95 219.46h4.01v2h-4.01zM656.96 235.48h4.01v2h-4.01z"/>
<path fill="#003000" d="M662.97 193.42h4.01v2h-4.01zM660.96 203.43h2v2h-2zM680.99 221.46h2v2h-2zM668.98 223.46h4.01v2h-4.01z"/>
<path fill="#200000" d="M666.97 193.42h2v2h-2zM632.92 201.43h2v2h-2zM668.98 201.43h2v2h-2zM666.97 215.45h4.01v2h-4.01zM640.93 227.47h4.01v2h-4.01zM638.93 241.49h2v2h-2z"/>
<path fill="#280028" d="M626.91 195.42h2v2h-2zM672.98 241.49h2v2h-2z"/>
<path fill="#080800" d="M628.92 195.42h2v2h-2zM648.95 197.42h2v2h-2zM674.98 205.44h2v2h-2zM642.94 211.45h2v2h-2zM648.95 211.45h4.01v2h-4.01zM640.93 215.45h2v2h-2zM642.94 217.45h2v2h-2zM670.98 217.45h2v2h-2zM646.94 221.46h4.01v2h-4.01zM666.97 225.47h4.01v2h-4.01zM678.99 235.48h2v2h-2zM632.92 241.49h4.01v2h-4.01zM654.95 241.49h4.01v2h-4.01z"/>
<path fill="#002800" d="M662.97 195.42h4.01v2h-4.01zM624.91 203.43h4.01v2h-4.01zM683 217.45h4.01v2h-4.01zM652.95 223.46h2v2h-2zM676.99 229.47h2v2h-2zM648.95 235.48h2v2h-2zM618.9 245.5h2v2h-2zM648.95 245.5h2v2h-2z"/>
<path fill="#000020" d="M666.97 195.42h2v2h-2zM640.93 205.44h2v2h-2zM652.95 233.48h4.01v2h-4.01zM628.92 245.5h4.01v2h-4.01z"/>
<path fill="#002820" d="M666.97 199.43h2v2h-2zM636.93 205.44h2v2h-2zM632.92 225.47h2v2h-2zM630.92 235.48h4.01v2h-4.01z"/>
<path fill="#002000" d="M626.91 201.43h4.01v2h-4.01zM662.97 203.43h2v2h-2zM644.94 205.44h2v2h-2zM622.91 209.44h4.01v2h-4.01zM624.91 213.45h2v2h-2zM618.9 215.45h2v2h-2zM672.98 219.46h4.01v2h-4.01zM680.99 219.46h4.01v2h-4.01zM662.97 231.48h4.01v2h-4.01zM638.93 239.49h2v2h-2zM662.97 241.49h4.01v2h-4.01zM668.98 241.49h2v2h-2z"/>
<path fill="#182800" d="M642.94 203.43h2v2h-2z"/>
<path fill="#280000" d="M628.92 207.44h2v2h-2zM680.99 217.45h2v2h-2z"/>
<path fill="#003028" d="M666.97 207.44h4.01v2h-4.01z"/>
<path fill="#200020" d="M683 211.45h2v2h-2zM630.92 213.45h4.01v2h-4.01zM678.99 217.45h4.01v2h-4.01z"/>
<path fill="#182000" d="M650.95 213.45h2v2h-2zM646.94 225.47h4.01v2h-4.01z"/>
<path fill="#003020" d="M626.91 227.47h4.01v2h-4.01zM654.95 227.47h4.01v2h-4.01z"/>
<path fill="#202800" d="M640.93 241.49h2v2h-2z"/>
</g></g>
<clipPath id="nc2"><rect x="618.9" y="275.7" width="67.1" height="66.1"/></clipPath>
<g clip-path="url(#nc2)"><g filter="url(#nb)">
<rect x="615.9" y="272.7" width="73.1" height="72.1" fill="#030304"/>
<rect x="618.9" y="275.7" width="67.1" height="66.1" fill="#030304"/>
<path fill="#002000" d="M618.9 275.7h4.01v2h-4.01zM658.96 281.71h2v2h-2zM660.96 283.71h4.01v2h-4.01zM652.95 293.73h2v2h-2zM630.92 299.74h2v2h-2zM644.94 299.74h2v2h-2zM683 317.76h2v2h-2zM640.93 323.77h4.01v2h-4.01zM636.93 335.79h2v2h-2zM662.97 335.79h4.01v2h-4.01zM646.94 337.79h2v2h-2z"/>
<path fill="#001800" d="M620.9 275.7h2v2h-2zM622.91 275.7h2v2h-2zM624.91 283.71h4.01v2h-4.01zM626.91 285.72h2v2h-2zM666.97 287.72h2v2h-2zM662.97 291.72h2v2h-2zM642.94 293.73h2v2h-2zM664.97 295.73h4.01v2h-4.01zM662.97 297.73h2v2h-2zM636.93 301.74h2v2h-2zM632.92 317.76h4.01v2h-4.01zM632.92 319.77h4.01v2h-4.01zM678.99 319.77h2v2h-2zM622.91 335.79h2v2h-2zM670.98 337.79h2v2h-2zM628.92 339.8h2v2h-2z"/>
<path fill="#180000" d="M632.92 275.7h4.01v2h-4.01zM666.97 285.72h4.01v2h-4.01zM683 297.73h4.01v2h-4.01zM660.96 315.76h2v2h-2zM668.98 315.76h4.01v2h-4.01zM656.96 323.77h4.01v2h-4.01zM626.91 331.78h4.01v2h-4.01zM678.99 331.78h2v2h-2zM648.95 339.8h2v2h-2z"/>
<path fill="#000018" d="M636.93 275.7h4.01v2h-4.01zM664.97 281.71h2v2h-2zM680.99 287.72h4.01v2h-4.01zM652.95 297.73h2v2h-2zM642.94 299.74h4.01v2h-4.01zM668.98 301.74h4.01v2h-4.01zM670.98 309.75h2v2h-2zM680.99 315.76h2v2h-2zM640.93 325.78h4.01v2h-4.01zM630.92 327.78h2v2h-2zM646.94 333.79h4.01v2h-4.01z"/>
<path fill="#000808" d="M640.93 275.7h2v2h-2zM622.91 277.7h2v2h-2zM678.99 277.7h2v2h-2zM680.99 277.7h2v2h-2zM676.99 283.71h2v2h-2zM648.95 285.72h2v2h-2zM683 285.72h2v2h-2zM638.93 289.72h4.01v2h-4.01zM678.99 289.72h4.01v2h-4.01zM622.91 291.72h2v2h-2zM622.91 293.73h2v2h-2zM624.91 297.73h2v2h-2zM632.92 297.73h2v2h-2zM636.93 297.73h2v2h-2zM630.92 301.74h2v2h-2zM646.94 303.74h2v2h-2zM652.95 303.74h2v2h-2zM670.98 303.74h2v2h-2zM624.91 305.75h4.01v2h-4.01zM654.95 305.75h2v2h-2zM664.97 305.75h2v2h-2zM640.93 309.75h2v2h-2zM650.95 311.75h4.01v2h-4.01zM670.98 311.75h2v2h-2zM668.98 317.76h4.01v2h-4.01zM650.95 319.77h2v2h-2zM654.95 319.77h2v2h-2zM628.92 321.77h2v2h-2zM640.93 321.77h2v2h-2zM644.94 321.77h2v2h-2zM634.92 323.77h2v2h-2zM670.98 323.77h2v2h-2zM620.9 325.78h2v2h-2zM622.91 327.78h4.01v2h-4.01zM640.93 331.78h4.01v2h-4.01zM670.98 333.79h2v2h-2zM648.95 335.79h4.01v2h-4.01zM628.92 337.79h2v2h-2zM668.98 337.79h2v2h-2zM676.99 339.8h2v2h-2z"/>
<path fill="#000000" d="M646.94 275.7h2v2h-2zM628.92 277.7h2v2h-2zM624.91 291.72h4.01v2h-4.01zM648.95 291.72h2v2h-2zM618.9 299.74h4.01v2h-4.01zM652.95 299.74h4.01v2h-4.01zM664.97 301.74h2v2h-2zM656.96 307.75h4.01v2h-4.01zM676.99 317.76h4.01v2h-4.01zM660.96 319.77h4.01v2h-4.01zM678.99 325.78h2v2h-2zM674.98 333.79h2v2h-2zM624.91 337.79h2v2h-2zM672.98 339.8h4.01v2h-4.01z"/>
<path fill="#000810" d="M650.95 275.7h2v2h-2zM672.98 277.7h4.01v2h-4.01zM618.9 287.72h4.01v2h-4.01zM676.99 293.73h2v2h-2zM618.9 301.74h2v2h-2zM670.98 305.75h2v2h-2zM630.92 309.75h2v2h-2zM622.91 311.75h2v2h-2zM666.97 319.77h2v2h-2zM670.98 327.78h4.01v2h-4.01z"/>
<path fill="#080000" d="M656.96 275.7h2v2h-2zM658.96 275.7h4.01v2h-4.01zM678.99 275.7h4.01v2h-4.01zM660.96 279.71h2v2h-2zM678.99 279.71h2v2h-2zM620.9 281.71h4.01v2h-4.01zM656.96 281.71h2v2h-2zM622.91 283.71h2v2h-2zM632.92 283.71h2v2h-2zM650.95 287.72h2v2h-2zM662.97 287.72h2v2h-2zM644.94 293.73h4.01v2h-4.01zM646.94 295.73h2v2h-2zM618.9 297.73h4.01v2h-4.01zM620.9 297.73h4.01v2h-4.01zM634.92 299.74h4.01v2h-4.01zM620.9 303.74h4.01v2h-4.01zM622.91 305.75h2v2h-2zM624.91 307.75h2v2h-2zM630.92 307.75h2v2h-2zM648.95 307.75h2v2h-2zM668.98 307.75h4.01v2h-4.01zM680.99 309.75h2v2h-2zM652.95 311.75h2v2h-2zM650.95 313.76h2v2h-2zM652.95 313.76h4.01v2h-4.01zM632.92 315.76h2v2h-2zM618.9 317.76h4.01v2h-4.01zM650.95 317.76h4.01v2h-4.01zM622.91 321.77h2v2h-2zM644.94 325.78h4.01v2h-4.01zM674.98 325.78h4.01v2h-4.01zM626.91 329.78h2v2h-2zM620.9 331.78h4.01v2h-4.01zM666.97 331.78h4.01v2h-4.01zM680.99 331.78h2v2h-2zM626.91 333.79h2v2h-2zM624.91 339.8h2v2h-2z"/>
<path fill="#001818" d="M660.96 275.7h4.01v2h-4.01zM618.9 277.7h4.01v2h-4.01zM674.98 293.73h4.01v2h-4.01zM683 295.73h2v2h-2zM658.96 305.75h2v2h-2zM658.96 307.75h4.01v2h-4.01zM622.91 313.76h2v2h-2zM644.94 317.76h2v2h-2zM638.93 327.78h4.01v2h-4.01z"/>
<path fill="#000020" d="M676.99 275.7h4.01v2h-4.01zM672.98 291.72h2v2h-2zM683 309.75h2v2h-2zM683 321.77h2v2h-2zM622.91 329.78h2v2h-2zM628.92 329.78h4.01v2h-4.01zM670.98 329.78h2v2h-2zM626.91 337.79h2v2h-2z"/>
<path fill="#181000" d="M620.9 277.7h2v2h-2zM676.99 277.7h4.01v2h-4.01zM656.96 279.71h2v2h-2zM654.95 315.76h2v2h-2zM662.97 315.76h4.01v2h-4.01zM683 315.76h2v2h-2zM620.9 317.76h2v2h-2z"/>
<path fill="#100000" d="M632.92 277.7h4.01v2h-4.01zM654.95 277.7h4.01v2h-4.01zM666.97 279.71h4.01v2h-4.01zM634.92 291.72h4.01v2h-4.01zM654.95 291.72h2v2h-2zM680.99 303.74h2v2h-2zM632.92 309.75h4.01v2h-4.01zM674.98 311.75h4.01v2h-4.01zM648.95 313.76h2v2h-2zM664.97 315.76h2v2h-2zM676.99 319.77h4.01v2h-4.01zM648.95 321.77h4.01v2h-4.01zM644.94 323.77h2v2h-2zM672.98 323.77h2v2h-2zM634.92 331.78h4.01v2h-4.01zM628.92 333.79h2v2h-2z"/>
<path fill="#080008" d="M634.92 277.7h2v2h-2zM638.93 277.7h4.01v2h-4.01zM650.95 277.7h2v2h-2zM630.92 281.71h2v2h-2zM634.92 285.72h2v2h-2zM668.98 285.72h2v2h-2zM678.99 285.72h4.01v2h-4.01zM626.91 287.72h2v2h-2zM622.91 289.72h4.01v2h-4.01zM676.99 289.72h4.01v2h-4.01zM644.94 291.72h2v2h-2zM648.95 293.73h2v2h-2zM656.96 293.73h4.01v2h-4.01zM672.98 295.73h4.01v2h-4.01zM666.97 297.73h2v2h-2zM640.93 299.74h2v2h-2zM640.93 301.74h4.01v2h-4.01zM650.95 301.74h4.01v2h-4.01zM683 305.75h2v2h-2zM618.9 307.75h4.01v2h-4.01zM644.94 307.75h4.01v2h-4.01zM654.95 309.75h2v2h-2zM654.95 311.75h2v2h-2zM668.98 313.76h2v2h-2zM683 313.76h4.01v2h-4.01zM660.96 323.77h2v2h-2zM622.91 325.78h4.01v2h-4.01zM634.92 327.78h4.01v2h-4.01zM632.92 329.78h4.01v2h-4.01zM638.93 329.78h2v2h-2zM648.95 329.78h2v2h-2zM668.98 331.78h2v2h-2zM618.9 333.79h4.01v2h-4.01zM650.95 333.79h2v2h-2zM624.91 335.79h4.01v2h-4.01zM678.99 335.79h2v2h-2zM652.95 337.79h2v2h-2z"/>
<path fill="#000800" d="M646.94 277.7h2v2h-2zM618.9 279.71h4.01v2h-4.01zM620.9 279.71h2v2h-2zM636.93 279.71h4.01v2h-4.01zM648.95 279.71h4.01v2h-4.01zM650.95 279.71h4.01v2h-4.01zM646.94 281.71h4.01v2h-4.01zM650.95 283.71h4.01v2h-4.01zM628.92 285.72h2v2h-2zM660.96 285.72h4.01v2h-4.01zM634.92 287.72h4.01v2h-4.01zM634.92 289.72h4.01v2h-4.01zM660.96 289.72h2v2h-2zM642.94 291.72h4.01v2h-4.01zM680.99 291.72h2v2h-2zM683 291.72h2v2h-2zM626.91 293.73h2v2h-2zM630.92 293.73h4.01v2h-4.01zM636.93 293.73h4.01v2h-4.01zM662.97 293.73h2v2h-2zM638.93 295.73h2v2h-2zM630.92 297.73h2v2h-2zM640.93 297.73h4.01v2h-4.01zM628.92 299.74h4.01v2h-4.01zM648.95 299.74h2v2h-2zM658.96 299.74h4.01v2h-4.01zM664.97 299.74h4.01v2h-4.01zM680.99 299.74h4.01v2h-4.01zM662.97 301.74h4.01v2h-4.01zM632.92 303.74h4.01v2h-4.01zM652.95 309.75h4.01v2h-4.01zM672.98 313.76h2v2h-2zM652.95 315.76h2v2h-2zM666.97 315.76h2v2h-2zM624.91 317.76h2v2h-2zM620.9 321.77h4.01v2h-4.01zM630.92 321.77h4.01v2h-4.01zM650.95 321.77h4.01v2h-4.01zM620.9 323.77h4.01v2h-4.01zM630.92 323.77h4.01v2h-4.01zM646.94 323.77h2v2h-2zM674.98 323.77h2v2h-2zM678.99 323.77h4.01v2h-4.01zM662.97 331.78h2v2h-2zM656.96 333.79h2v2h-2zM620.9 335.79h4.01v2h-4.01zM644.94 335.79h4.01v2h-4.01zM683 337.79h2v2h-2zM626.91 339.8h2v2h-2zM650.95 339.8h4.01v2h-4.01z"/>
<path fill="#000008" d="M648.95 277.7h2v2h-2zM652.95 277.7h2v2h-2zM644.94 281.71h4.01v2h-4.01zM666.97 281.71h2v2h-2zM618.9 283.71h2v2h-2zM664.97 283.71h2v2h-2zM664.97 285.72h2v2h-2zM680.99 285.72h4.01v2h-4.01zM658.96 289.72h2v2h-2zM666.97 291.72h2v2h-2zM668.98 291.72h2v2h-2zM668.98 297.73h4.01v2h-4.01zM676.99 297.73h2v2h-2zM678.99 297.73h2v2h-2zM662.97 299.74h2v2h-2zM624.91 301.74h2v2h-2zM646.94 301.74h2v2h-2zM652.95 301.74h4.01v2h-4.01zM638.93 303.74h4.01v2h-4.01zM674.98 305.75h2v2h-2zM622.91 307.75h2v2h-2zM638.93 309.75h4.01v2h-4.01zM638.93 311.75h4.01v2h-4.01zM660.96 313.76h2v2h-2zM636.93 315.76h2v2h-2zM670.98 315.76h2v2h-2zM624.91 319.77h4.01v2h-4.01zM654.95 321.77h4.01v2h-4.01zM636.93 325.78h4.01v2h-4.01zM660.96 325.78h4.01v2h-4.01zM656.96 327.78h4.01v2h-4.01zM624.91 329.78h4.01v2h-4.01zM644.94 331.78h2v2h-2zM672.98 333.79h4.01v2h-4.01zM638.93 335.79h2v2h-2zM632.92 337.79h4.01v2h-4.01zM636.93 337.79h4.01v2h-4.01z"/>
<path fill="#200000" d="M656.96 277.7h4.01v2h-4.01zM668.98 279.71h4.01v2h-4.01zM628.92 281.71h4.01v2h-4.01zM658.96 287.72h2v2h-2zM634.92 303.74h2v2h-2zM650.95 305.75h4.01v2h-4.01zM672.98 311.75h4.01v2h-4.01zM634.92 313.76h2v2h-2zM648.95 325.78h4.01v2h-4.01zM666.97 327.78h4.01v2h-4.01z"/>
<path fill="#101000" d="M670.98 277.7h4.01v2h-4.01zM678.99 293.73h4.01v2h-4.01zM622.91 295.73h4.01v2h-4.01zM683 311.75h2v2h-2zM672.98 317.76h2v2h-2zM642.94 323.77h2v2h-2z"/>
<path fill="#001010" d="M622.91 279.71h2v2h-2zM636.93 283.71h4.01v2h-4.01zM638.93 285.72h4.01v2h-4.01zM678.99 301.74h2v2h-2zM680.99 301.74h2v2h-2zM638.93 305.75h2v2h-2zM678.99 309.75h2v2h-2zM664.97 313.76h2v2h-2zM670.98 317.76h4.01v2h-4.01zM680.99 319.77h2v2h-2zM668.98 323.77h4.01v2h-4.01zM626.91 327.78h2v2h-2zM630.92 333.79h4.01v2h-4.01zM630.92 337.79h4.01v2h-4.01zM664.97 337.79h2v2h-2zM620.9 339.8h2v2h-2z"/>
<path fill="#100800" d="M634.92 279.71h4.01v2h-4.01zM662.97 281.71h4.01v2h-4.01zM654.95 287.72h2v2h-2zM664.97 291.72h2v2h-2zM638.93 293.73h2v2h-2zM660.96 297.73h2v2h-2zM660.96 309.75h4.01v2h-4.01zM648.95 311.75h2v2h-2zM648.95 323.77h4.01v2h-4.01z"/>
<path fill="#302000" d="M644.94 279.71h2v2h-2z"/>
<path fill="#280020" d="M654.95 279.71h4.01v2h-4.01z"/>
<path fill="#180010" d="M664.97 279.71h2v2h-2zM620.9 309.75h2v2h-2zM668.98 319.77h2v2h-2zM638.93 333.79h2v2h-2z"/>
<path fill="#080800" d="M624.91 281.71h2v2h-2zM674.98 281.71h2v2h-2zM632.92 285.72h2v2h-2zM652.95 285.72h2v2h-2zM622.91 287.72h4.01v2h-4.01zM624.91 287.72h4.01v2h-4.01zM626.91 301.74h4.01v2h-4.01zM680.99 307.75h2v2h-2zM668.98 309.75h4.01v2h-4.01zM674.98 309.75h2v2h-2zM640.93 311.75h4.01v2h-4.01zM664.97 321.77h4.01v2h-4.01zM652.95 327.78h2v2h-2zM680.99 327.78h4.01v2h-4.01zM620.9 329.78h4.01v2h-4.01zM666.97 337.79h2v2h-2z"/>
<path fill="#000028" d="M640.93 281.71h2v2h-2zM658.96 311.75h4.01v2h-4.01zM622.91 317.76h2v2h-2zM666.97 325.78h2v2h-2z"/>
<path fill="#000010" d="M648.95 281.71h4.01v2h-4.01zM683 283.71h2v2h-2zM622.91 285.72h2v2h-2zM632.92 287.72h2v2h-2zM670.98 297.73h4.01v2h-4.01zM664.97 311.75h2v2h-2zM678.99 311.75h2v2h-2zM676.99 315.76h2v2h-2zM662.97 325.78h2v2h-2zM668.98 325.78h4.01v2h-4.01zM674.98 327.78h2v2h-2zM618.9 329.78h2v2h-2zM678.99 329.78h4.01v2h-4.01zM624.91 331.78h2v2h-2zM638.93 331.78h2v2h-2zM656.96 335.79h4.01v2h-4.01zM660.96 335.79h2v2h-2zM658.96 337.79h2v2h-2zM678.99 337.79h2v2h-2zM642.94 339.8h4.01v2h-4.01z"/>
<path fill="#001000" d="M648.95 283.71h2v2h-2zM642.94 289.72h4.01v2h-4.01zM652.95 289.72h4.01v2h-4.01zM646.94 291.72h2v2h-2zM672.98 293.73h2v2h-2zM640.93 295.73h2v2h-2zM666.97 295.73h2v2h-2zM674.98 297.73h2v2h-2zM646.94 299.74h2v2h-2zM654.95 301.74h2v2h-2zM628.92 303.74h2v2h-2zM644.94 303.74h2v2h-2zM640.93 307.75h4.01v2h-4.01zM618.9 309.75h2v2h-2zM646.94 309.75h2v2h-2zM654.95 313.76h4.01v2h-4.01zM648.95 319.77h2v2h-2zM662.97 323.77h4.01v2h-4.01zM672.98 325.78h2v2h-2zM646.94 329.78h2v2h-2zM652.95 329.78h2v2h-2zM656.96 331.78h4.01v2h-4.01zM642.94 333.79h2v2h-2zM678.99 333.79h2v2h-2zM680.99 335.79h2v2h-2zM618.9 337.79h2v2h-2zM650.95 337.79h4.01v2h-4.01z"/>
<path fill="#002830" d="M652.95 283.71h4.01v2h-4.01z"/>
<path fill="#100010" d="M662.97 283.71h2v2h-2zM654.95 295.73h4.01v2h-4.01zM650.95 309.75h4.01v2h-4.01zM664.97 317.76h2v2h-2zM664.97 325.78h4.01v2h-4.01zM662.97 327.78h4.01v2h-4.01zM680.99 333.79h2v2h-2zM654.95 337.79h2v2h-2z"/>
<path fill="#300028" d="M678.99 283.71h2v2h-2zM644.94 289.72h2v2h-2zM658.96 319.77h2v2h-2zM676.99 325.78h4.01v2h-4.01zM664.97 333.79h2v2h-2z"/>
<path fill="#001820" d="M646.94 285.72h2v2h-2zM670.98 285.72h2v2h-2zM648.95 289.72h2v2h-2zM654.95 289.72h4.01v2h-4.01zM674.98 301.74h2v2h-2zM642.94 315.76h2v2h-2z"/>
<path fill="#002800" d="M683 287.72h4.01v2h-4.01z"/>
<path fill="#180018" d="M624.91 289.72h4.01v2h-4.01zM640.93 289.72h2v2h-2zM680.99 293.73h2v2h-2zM634.92 335.79h2v2h-2z"/>
<path fill="#280000" d="M630.92 291.72h2v2h-2zM658.96 295.73h4.01v2h-4.01zM626.91 297.73h2v2h-2zM638.93 297.73h2v2h-2zM624.91 315.76h2v2h-2zM634.92 317.76h2v2h-2zM632.92 331.78h4.01v2h-4.01z"/>
<path fill="#002020" d="M652.95 291.72h4.01v2h-4.01zM683 325.78h4.01v2h-4.01zM618.9 327.78h2v2h-2z"/>
<path fill="#300000" d="M634.92 295.73h2v2h-2zM644.94 315.76h2v2h-2zM618.9 339.8h4.01v2h-4.01z"/>
<path fill="#201800" d="M662.97 295.73h2v2h-2zM662.97 329.78h2v2h-2z"/>
<path fill="#100008" d="M650.95 297.73h2v2h-2z"/>
<path fill="#000030" d="M670.98 299.74h2v2h-2zM666.97 305.75h4.01v2h-4.01zM638.93 319.77h4.01v2h-4.01zM618.9 323.77h4.01v2h-4.01zM620.9 327.78h2v2h-2z"/>
<path fill="#380000" d="M672.98 303.74h4.01v2h-4.01z"/>
<path fill="#002028" d="M652.95 305.75h2v2h-2zM638.93 307.75h2v2h-2z"/>
<path fill="#200018" d="M618.9 313.76h4.01v2h-4.01zM632.92 333.79h2v2h-2zM674.98 337.79h2v2h-2z"/>
<path fill="#001018" d="M658.96 315.76h4.01v2h-4.01zM640.93 337.79h2v2h-2z"/>
<path fill="#281800" d="M670.98 339.8h4.01v2h-4.01z"/>
<path fill="#002828" d="M680.99 339.8h2v2h-2z"/>
</g></g>
<text transform="translate(647.3 112.8) skewX(-14)" font-size="15.5" font-weight="bold" style="font-family:'DejaVu Serif','Liberation Serif',serif;fill:#2c8f78" filter="url(#bl)" opacity=".55">p</text>
<text transform="translate(646.6 135.9) skewX(-14)" font-size="18" font-weight="bold" style="font-family:'DejaVu Serif','Liberation Serif',serif;fill:#a8fff4">x</text>
<text transform="translate(644.2 212) skewX(-14)" font-size="19.5" style="font-family:'DejaVu Serif','Liberation Serif',serif;fill:#3cf56a" stroke="#3cf56a" stroke-width=".5">p</text>
<text transform="translate(659.6 331) skewX(-14)" font-size="17" style="font-family:'DejaVu Serif','Liberation Serif',serif;fill:#ff6670" stroke="#ff6670" stroke-width=".6">a</text>
</svg>
</body></html>
